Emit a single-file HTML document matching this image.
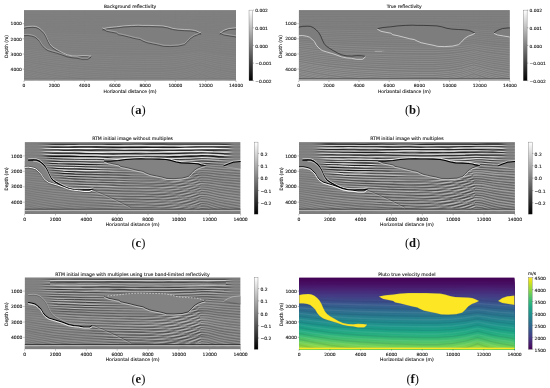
<!DOCTYPE html>
<html><head><meta charset="utf-8"><title>Figure</title>
<style>html,body{margin:0;padding:0;background:#fff}svg{display:block}.t{font-family:"DejaVu Sans","Liberation Sans",sans-serif;fill:#1a1a1a;stroke:#1a1a1a;stroke-width:.12px}.c{font-family:"Liberation Serif","DejaVu Serif",serif;fill:#111}</style></head><body>
<svg width="550" height="388" viewBox="0 0 550 388">
<rect width="550" height="388" fill="#fff"/>
<defs>
<linearGradient id="gg" x1="0" y1="0" x2="0" y2="1"><stop offset="0" stop-color="#fff"/><stop offset="1" stop-color="#000"/></linearGradient>
<linearGradient id="gv" x1="0" y1="0" x2="0" y2="1"><stop offset="0.000" stop-color="#fde725"/><stop offset="0.062" stop-color="#d8e219"/><stop offset="0.125" stop-color="#addc30"/><stop offset="0.188" stop-color="#84d44b"/><stop offset="0.250" stop-color="#5ec962"/><stop offset="0.312" stop-color="#3fbc73"/><stop offset="0.375" stop-color="#28ae80"/><stop offset="0.438" stop-color="#1fa088"/><stop offset="0.500" stop-color="#21918c"/><stop offset="0.562" stop-color="#26828e"/><stop offset="0.625" stop-color="#2c728e"/><stop offset="0.688" stop-color="#33638d"/><stop offset="0.750" stop-color="#3b528b"/><stop offset="0.812" stop-color="#424086"/><stop offset="0.875" stop-color="#472d7b"/><stop offset="0.938" stop-color="#48186a"/><stop offset="1.000" stop-color="#440154"/></linearGradient>
<clipPath id="cpa"><rect x="24.0" y="10.1" width="212.0" height="70.6"/></clipPath>
<clipPath id="cpb"><rect x="298.7" y="10.1" width="211.2" height="70.6"/></clipPath>
<clipPath id="cpc"><rect x="24.6" y="142.1" width="216.0" height="72.0"/></clipPath>
<clipPath id="cpd"><rect x="298.9" y="142.1" width="216.0" height="72.0"/></clipPath>
<clipPath id="cpe"><rect x="24.6" y="277.3" width="216.0" height="72.0"/></clipPath>
<clipPath id="cpf"><rect x="299.1" y="277.6" width="215.5" height="71.7"/></clipPath>
<filter id="bl" x="-20%" y="-20%" width="140%" height="140%"><feGaussianBlur stdDeviation="2.2"/></filter>
</defs>
<g clip-path="url(#cpa)">
<rect x="24.0" y="10.1" width="212.0" height="70.6" fill="#7e7e7e"/>
<path d="M24.0 12.2L39.1 12.2L54.3 12.2L69.4 12.2L84.6 12.2L114.9 12.2L145.1 12.2L160.3 12.2L175.4 12.2L187.5 12.2L195.1 12.2L199.7 12.2L205.7 12.2L213.3 12.2L220.9 12.2L236.0 12.2M24.0 13.7L39.1 13.7L54.3 13.7L69.4 13.7L84.6 13.7L114.9 13.7L145.1 13.7L160.3 13.7L175.4 13.7L187.5 13.7L195.1 13.7L199.7 13.7L205.7 13.7L213.3 13.7L220.9 13.7L236.0 13.7M24.0 15.4L39.1 15.4L54.3 15.5L69.4 15.5L84.6 15.5L114.9 15.6L145.1 15.6L160.3 15.6L175.4 15.6L187.5 15.5L195.1 15.5L199.7 15.5L205.7 15.5L213.3 15.5L220.9 15.6L236.0 15.6M24.0 17.2L39.1 17.3L54.3 17.4L69.4 17.5L84.6 17.5L114.9 17.6L145.1 17.6L160.3 17.6L175.4 17.6L187.5 17.5L195.1 17.4L199.7 17.4L205.7 17.4L213.3 17.5L220.9 17.6L236.0 17.7M24.0 18.6L39.1 18.7L54.3 18.9L69.4 19.0L84.6 19.1L114.9 19.2L145.1 19.2L160.3 19.2L175.4 19.1L187.5 19.0L195.1 18.9L199.7 18.8L205.7 18.9L213.3 19.0L220.9 19.1L236.0 19.3M24.0 20.0L39.1 20.2L54.3 20.4L69.4 20.6L84.6 20.7L114.9 20.8L145.1 20.9L160.3 20.9L175.4 20.8L187.5 20.6L195.1 20.4L199.7 20.3L205.7 20.5L213.3 20.7L220.9 20.8L236.0 21.0M24.0 22.1L39.1 22.4L54.3 22.7L69.4 22.9L84.6 23.0L114.9 23.2L145.1 23.3L160.3 23.3L175.4 23.2L187.5 22.9L195.1 22.7L199.7 22.5L205.7 22.7L213.3 23.0L220.9 23.2L236.0 23.5M24.0 23.5L39.1 23.9L54.3 24.2L69.4 24.4L84.6 24.6L114.9 24.9L145.1 25.0L160.3 25.0L175.4 24.8L187.5 24.5L195.1 24.2L199.7 24.0L205.7 24.3L213.3 24.6L220.9 24.8L236.0 25.2M24.0 24.9L39.1 25.4L54.3 25.8L69.4 26.1L84.6 26.3L114.9 26.6L145.1 26.7L160.3 26.7L175.4 26.5L187.5 26.1L195.1 25.8L199.7 25.6L205.7 25.8L213.3 26.2L220.9 26.5L236.0 26.9M24.0 27.0L39.1 27.6L54.3 28.0L69.4 28.4L84.6 28.7L114.9 29.0L145.1 29.2L160.3 29.2L175.4 28.9L187.5 28.5L195.1 28.0L199.7 27.8L205.7 28.1L213.3 28.6L220.9 28.9L236.0 29.4M24.0 28.8L39.1 29.5L54.3 30.0L69.4 30.4L84.6 30.8L114.9 31.2L145.1 31.4L160.3 31.4L175.4 31.1L187.5 30.6L195.1 30.0L199.7 29.7L205.7 30.1L213.3 30.7L220.9 31.1L236.0 31.7M24.0 30.4L39.1 31.2L54.3 31.8L69.4 32.3L84.6 32.6L114.9 33.1L145.1 33.3L160.3 33.3L175.4 33.0L187.5 32.4L195.1 31.8L199.7 31.5L205.7 31.9L213.3 32.5L220.9 33.0L236.0 33.7" fill="none" stroke="#969696" stroke-width=".45" opacity="0.25"/>
<path d="M24.0 32.2L39.1 33.0L54.3 33.7L69.4 34.3L84.6 34.6L114.9 35.2L145.1 35.4L160.3 35.4L175.4 35.0L187.5 34.4L195.1 33.7L199.7 33.4L205.7 33.9L213.3 34.5L220.9 35.0L236.0 35.8M24.0 34.0L39.1 35.0L54.3 35.8L69.4 36.4L84.6 36.8L114.9 37.4L145.1 37.7L160.3 37.7L175.4 37.2L187.5 36.5L195.1 35.8L199.7 35.3L205.7 35.9L213.3 36.7L220.9 37.2L236.0 38.1M24.0 35.6L39.1 36.6L54.3 37.5L69.4 38.1L84.6 38.6L114.9 39.2L145.1 39.6L160.3 39.6L175.4 39.1L187.5 38.3L195.1 37.5L199.7 37.0L205.7 37.7L213.3 38.5L220.9 39.1L236.0 40.0M24.0 37.0L39.1 38.1L54.3 39.1L69.4 39.8L84.6 40.3L114.9 41.0L145.1 41.3L160.3 41.3L175.4 40.8L187.5 40.0L195.1 39.1L199.7 38.6L205.7 39.3L213.3 40.1L220.9 40.8L236.0 41.8M24.0 39.0L39.1 40.2L54.3 41.3L69.4 42.0L84.6 42.6L114.9 43.3L145.1 43.7L160.3 43.7L175.4 43.1L187.5 42.2L195.1 41.3L199.7 40.7L205.7 41.4L213.3 42.4L220.9 43.1L236.0 44.3M24.0 40.9L39.1 42.2L54.3 43.3L69.4 44.1L84.6 44.8L114.9 45.6L145.1 46.0L160.3 46.0L175.4 45.4L187.5 44.3L195.1 43.3L199.7 42.7L205.7 43.5L213.3 44.6L220.9 45.4L236.0 46.6M24.0 42.6L39.1 44.0L54.3 45.3L69.4 46.1L84.6 46.8L114.9 47.7L145.1 48.1L160.3 48.1L175.4 47.5L187.5 46.4L195.1 45.3L199.7 44.6L205.7 45.5L213.3 46.6L220.9 47.5L236.0 48.8M24.0 44.6L39.1 46.1L54.3 47.4L69.4 48.4L84.6 49.1L114.9 50.1L145.1 50.6L160.3 50.6L175.4 49.8L187.5 48.6L195.1 47.4L199.7 46.7L205.7 47.7L213.3 48.9L220.9 49.8L236.0 51.3M24.0 46.3L39.1 48.0L54.3 49.4L69.4 50.4L84.6 51.2L114.9 52.2L145.1 52.7L160.3 52.7L175.4 52.0L187.5 50.7L195.1 49.4L199.7 48.6L205.7 49.7L213.3 50.9L220.9 52.0L236.0 53.5M24.0 48.4L39.1 50.2L54.3 51.8L69.4 52.9L84.6 53.7L114.9 54.8L145.1 55.3L160.3 55.3L175.4 54.5L187.5 53.1L195.1 51.8L199.7 50.9L205.7 52.0L213.3 53.4L220.9 54.5L236.0 56.2" fill="none" stroke="#969696" stroke-width=".45" opacity="0.45"/>
<path d="M24.0 49.9L39.1 51.8L54.3 53.4L69.4 54.6L84.6 55.5L114.9 56.6L145.1 57.2L160.3 57.2L175.4 56.3L187.5 54.9L195.1 53.4L199.7 52.6L205.7 53.7L213.3 55.2L220.9 56.3L236.0 58.1M24.0 51.7L39.1 53.7L54.3 55.4L69.4 56.6L84.6 57.5L114.9 58.8L145.1 59.4L160.3 59.4L175.4 58.5L187.5 56.9L195.1 55.4L199.7 54.5L205.7 55.7L213.3 57.2L220.9 58.5L236.0 60.3M24.0 53.4L39.1 55.5L54.3 57.3L69.4 58.6L84.6 59.6L114.9 60.9L145.1 61.5L160.3 61.5L175.4 60.6L187.5 58.9L195.1 57.3L199.7 56.3L205.7 57.6L213.3 59.3L220.9 60.6L236.0 62.5M24.0 55.1L39.1 57.2L54.3 59.1L69.4 60.5L84.6 61.5L114.9 62.9L145.1 63.5L160.3 63.5L175.4 62.5L187.5 60.8L195.1 59.1L199.7 58.1L205.7 59.5L213.3 61.2L220.9 62.5L236.0 64.6M24.0 56.9L39.1 59.1L54.3 61.1L69.4 62.6L84.6 63.6L114.9 65.1L145.1 65.8L160.3 65.8L175.4 64.7L187.5 62.9L195.1 61.1L199.7 60.1L205.7 61.5L213.3 63.3L220.9 64.7L236.0 66.9M24.0 58.4L39.1 60.8L54.3 62.8L69.4 64.3L84.6 65.5L114.9 66.9L145.1 67.7L160.3 67.7L175.4 66.6L187.5 64.7L195.1 62.8L199.7 61.7L205.7 63.2L213.3 65.1L220.9 66.6L236.0 68.8M24.0 60.3L39.1 62.8L54.3 65.0L69.4 66.6L84.6 67.8L114.9 69.4L145.1 70.1L160.3 70.1L175.4 69.0L187.5 67.0L195.1 65.0L199.7 63.9L205.7 65.4L213.3 67.4L220.9 69.0L236.0 71.3M24.0 62.4L39.1 65.0L54.3 67.3L69.4 69.0L84.6 70.2L114.9 71.8L145.1 72.7L160.3 72.7L175.4 71.4L187.5 69.4L195.1 67.3L199.7 66.1L205.7 67.7L213.3 69.8L220.9 71.4L236.0 73.9M24.0 63.8L39.1 66.5L54.3 68.9L69.4 70.6L84.6 71.9L114.9 73.6L145.1 74.5L160.3 74.5L175.4 73.2L187.5 71.1L195.1 68.9L199.7 67.6L205.7 69.3L213.3 71.5L220.9 73.2L236.0 75.8M24.0 65.5L39.1 68.3L54.3 70.8L69.4 72.6L84.6 73.9L114.9 75.7L145.1 76.6L160.3 76.6L175.4 75.3L187.5 73.1L195.1 70.8L199.7 69.5L205.7 71.3L213.3 73.5L220.9 75.3L236.0 77.9M24.0 67.1L39.1 70.0L54.3 72.6L69.4 74.4L84.6 75.8L114.9 77.7L145.1 78.6L160.3 78.6L175.4 77.2L187.5 74.9L195.1 72.6L199.7 71.2L205.7 73.0L213.3 75.3L220.9 77.2L236.0 80.0M24.0 68.5L39.1 71.5L54.3 74.2L69.4 76.1L84.6 77.5L114.9 79.4L145.1 80.3L160.3 80.3L175.4 78.9L187.5 76.5L195.1 74.2L199.7 72.7L205.7 74.6L213.3 77.0L220.9 78.9L236.0 81.8M24.0 70.5L39.1 73.7L54.3 76.4L69.4 78.4L84.6 79.9L114.9 81.8L145.1 82.8L160.3 82.8L175.4 81.3L187.5 78.9L195.1 76.4L199.7 74.9L205.7 76.9L213.3 79.4L220.9 81.3L236.0 84.3M24.0 72.2L39.1 75.3L54.3 78.1L69.4 80.1L84.6 81.5L114.9 83.5L145.1 84.5L160.3 84.5L175.4 83.0L187.5 80.5L195.1 78.1L199.7 76.6L205.7 78.6L213.3 81.0L220.9 83.0L236.0 86.0M24.0 73.6L39.1 76.8L54.3 79.5L69.4 81.5L84.6 83.0L114.9 85.0L145.1 85.9L160.3 85.9L175.4 84.5L187.5 82.0L195.1 79.5L199.7 78.1L205.7 80.0L213.3 82.5L220.9 84.5L236.0 87.4M24.0 75.5L39.1 78.6L54.3 81.4L69.4 83.4L84.6 84.9L114.9 86.8L145.1 87.8L160.3 87.8L175.4 86.3L187.5 83.9L195.1 81.4L199.7 79.9L205.7 81.9L213.3 84.4L220.9 86.3L236.0 89.3M24.0 77.0L39.1 80.1L54.3 82.9L69.4 84.9L84.6 86.3L114.9 88.3L145.1 89.3L160.3 89.3L175.4 87.8L187.5 85.4L195.1 82.9L199.7 81.4L205.7 83.4L213.3 85.9L220.9 87.8L236.0 90.8M24.0 79.0L39.1 82.2L54.3 84.9L69.4 86.9L84.6 88.4L114.9 90.4L145.1 91.3L160.3 91.3L175.4 89.9L187.5 87.4L195.1 84.9L199.7 83.5L205.7 85.4L213.3 87.9L220.9 89.9L236.0 92.8M24.0 80.5L39.1 83.7L54.3 86.5L69.4 88.4L84.6 89.9L114.9 91.9L145.1 92.9L160.3 92.9L175.4 91.4L187.5 88.9L195.1 86.5L199.7 85.0L205.7 86.9L213.3 89.4L220.9 91.4L236.0 94.3" fill="none" stroke="#969696" stroke-width=".45" opacity="0.70"/>
<path d="M24.0 27.2L27.8 26.4L32.9 26.2L35.8 26.4L38.8 27.7L41.7 30.0L44.2 32.7L46.1 36.2L47.8 40.1L49.6 43.6L51.6 46.0L54.6 48.2L58.5 50.5L63.3 53.1L67.2 54.8L72.2 55.9L77.1 56.1L82.0 55.6L87.0 55.7L91.0 56.3L91.0 56.3L90.0 57.9L87.9 59.3L82.0 59.3L77.1 58.3L72.2 57.9L67.2 56.9L61.5 54.8L56.6 53.2L51.6 51.8L47.6 50.5L44.2 48.0L41.7 45.1L39.7 41.6L37.3 39.1L34.8 37.2L31.9 36.2L27.8 35.5L24.0 35.7ZM102.4 28.8L108.6 27.5L116.5 26.8L123.5 25.9L131.3 25.4L138.2 25.2L142.9 25.4L148.8 25.4L155.8 25.6L162.7 25.9L167.6 26.8L172.6 28.3L177.6 29.1L184.5 29.5L190.4 29.8L194.4 30.3L197.0 31.2L201.1 33.2L201.1 33.2L198.1 34.7L194.1 36.2L190.4 38.7L187.4 42.0L184.5 44.7L178.5 46.1L170.6 46.6L163.7 46.4L158.8 45.2L152.9 44.0L146.9 42.7L142.9 41.1L140.2 39.6L135.3 38.7L129.4 37.2L123.5 35.7L118.4 34.7L116.5 33.2L111.6 32.3L106.6 31.3L102.4 28.8ZM219.7 33.2L223.8 30.3L228.7 28.5L236.0 27.8L236.0 37.0L229.7 36.0L223.8 35.0L219.7 33.2Z" fill="#7e7e7e"/>
<path d="M24.0 27.2L27.8 26.4L32.9 26.2L35.8 26.4L38.8 27.7L41.7 30.0L44.2 32.7L46.1 36.2L47.8 40.1L49.6 43.6L51.6 46.0L54.6 48.2L58.5 50.5L63.3 53.1L67.2 54.8L72.2 55.9L77.1 56.1L82.0 55.6L87.0 55.7L91.0 56.3" fill="none" stroke="#c6c6c6" stroke-width=".8"/>
<path d="M24.0 28.4L27.8 27.6L32.9 27.4L35.8 27.6L38.8 28.9L41.7 31.2L44.2 33.9L46.1 37.4L47.8 41.3L49.6 44.8L51.6 47.2L54.6 49.4L58.5 51.7L63.3 54.3L67.2 56.0L72.2 57.1L77.1 57.3L82.0 56.8L87.0 56.9L91.0 57.5" fill="none" stroke="#444" stroke-width=".8"/>
<path d="M24.0 35.7L27.8 35.5L31.9 36.2L34.8 37.2L37.3 39.1L39.7 41.6L41.7 45.1L44.2 48.0L47.6 50.5L51.6 51.8L56.6 53.2L61.5 54.8L67.2 56.9L72.2 57.9L77.1 58.3L82.0 59.3L87.9 59.3L90.0 57.9L91.0 56.3" fill="none" stroke="#444" stroke-width=".8"/>
<path d="M24.0 34.5L27.8 34.3L31.9 35.0L34.8 36.0L37.3 37.9L39.7 40.4L41.7 43.9L44.2 46.8L47.6 49.3L51.6 50.6L56.6 52.0L61.5 53.6L67.2 55.7L72.2 56.7L77.1 57.1L82.0 58.1L87.9 58.1L90.0 56.7L91.0 55.1" fill="none" stroke="#b0b0b0" stroke-width=".7"/>
<path d="M102.4 28.8L108.6 27.5L116.5 26.8L123.5 25.9L131.3 25.4L138.2 25.2L142.9 25.4L148.8 25.4L155.8 25.6L162.7 25.9L167.6 26.8L172.6 28.3L177.6 29.1L184.5 29.5L190.4 29.8L194.4 30.3L197.0 31.2L201.1 33.2" fill="none" stroke="#c6c6c6" stroke-width=".8"/>
<path d="M102.4 30.0L108.6 28.7L116.5 28.0L123.5 27.1L131.3 26.6L138.2 26.4L142.9 26.6L148.8 26.6L155.8 26.8L162.7 27.1L167.6 28.0L172.6 29.5L177.6 30.3L184.5 30.7L190.4 31.0L194.4 31.5L197.0 32.4L201.1 34.4" fill="none" stroke="#444" stroke-width=".8"/>
<path d="M102.4 28.8L106.6 31.3L111.6 32.3L116.5 33.2L118.4 34.7L123.5 35.7L129.4 37.2L135.3 38.7L140.2 39.6L142.9 41.1L146.9 42.7L152.9 44.0L158.8 45.2L163.7 46.4L170.6 46.6L178.5 46.1L184.5 44.7L187.4 42.0L190.4 38.7L194.1 36.2L198.1 34.7L201.1 33.2" fill="none" stroke="#444" stroke-width=".8"/>
<path d="M102.4 27.6L106.6 30.1L111.6 31.1L116.5 32.0L118.4 33.5L123.5 34.5L129.4 36.0L135.3 37.5L140.2 38.4L142.9 39.9L146.9 41.5L152.9 42.8L158.8 44.0L163.7 45.2L170.6 45.4L178.5 44.9L184.5 43.5L187.4 40.8L190.4 37.5L194.1 35.0L198.1 33.5L201.1 32.0" fill="none" stroke="#b0b0b0" stroke-width=".7"/>
<path d="M219.7 33.2L223.8 30.3L228.7 28.5L236.0 27.8" fill="none" stroke="#c6c6c6" stroke-width=".8"/>
<path d="M219.7 34.4L223.8 31.5L228.7 29.7L236.0 29.0" fill="none" stroke="#444" stroke-width=".8"/>
<path d="M219.7 33.2L223.8 35.0L229.7 36.0L236.0 37.0" fill="none" stroke="#444" stroke-width=".8"/>
<path d="M219.7 32.0L223.8 33.8L229.7 34.8L236.0 35.8" fill="none" stroke="#b0b0b0" stroke-width=".7"/>
<rect x="24.0" y="78.8" width="212.0" height=".7" fill="#6a6a6a"/>
<rect x="24.0" y="79.5" width="212.0" height=".8" fill="#9a9a9a"/>
</g>
<rect x="249.0" y="10.1" width="3.8" height="70.6" fill="url(#gg)" stroke="#555" stroke-width=".3"/>
<text class="t" x="130.0" y="8.3" font-size="4.51" text-anchor="middle">Background reflectivity</text>
<text class="t" x="130.0" y="92.5" font-size="4.51" text-anchor="middle">Horizontal distance (m)</text>
<text class="t" font-size="4.51" text-anchor="middle" transform="translate(7.7 46.4) rotate(-90)">Depth (m)</text>
<text class="t" x="24.0" y="87.3" font-size="4.42" text-anchor="middle">0</text>
<path d="M24.0 80.7v1.3" stroke="#333" stroke-width=".35"/>
<text class="t" x="54.3" y="87.3" font-size="4.42" text-anchor="middle">2000</text>
<path d="M54.3 80.7v1.3" stroke="#333" stroke-width=".35"/>
<text class="t" x="84.6" y="87.3" font-size="4.42" text-anchor="middle">4000</text>
<path d="M84.6 80.7v1.3" stroke="#333" stroke-width=".35"/>
<text class="t" x="114.9" y="87.3" font-size="4.42" text-anchor="middle">6000</text>
<path d="M114.9 80.7v1.3" stroke="#333" stroke-width=".35"/>
<text class="t" x="145.1" y="87.3" font-size="4.42" text-anchor="middle">8000</text>
<path d="M145.1 80.7v1.3" stroke="#333" stroke-width=".35"/>
<text class="t" x="175.4" y="87.3" font-size="4.42" text-anchor="middle">10000</text>
<path d="M175.4 80.7v1.3" stroke="#333" stroke-width=".35"/>
<text class="t" x="205.7" y="87.3" font-size="4.42" text-anchor="middle">12000</text>
<path d="M205.7 80.7v1.3" stroke="#333" stroke-width=".35"/>
<text class="t" x="236.0" y="87.3" font-size="4.42" text-anchor="middle">14000</text>
<path d="M236.0 80.7v1.3" stroke="#333" stroke-width=".35"/>
<text class="t" x="21.8" y="25.3" font-size="4.42" text-anchor="end">1000</text>
<path d="M24.0 23.7h-1.3" stroke="#333" stroke-width=".35"/>
<text class="t" x="21.8" y="40.5" font-size="4.42" text-anchor="end">2000</text>
<path d="M24.0 38.8h-1.3" stroke="#333" stroke-width=".35"/>
<text class="t" x="21.8" y="55.6" font-size="4.42" text-anchor="end">3000</text>
<path d="M24.0 54.0h-1.3" stroke="#333" stroke-width=".35"/>
<text class="t" x="21.8" y="70.8" font-size="4.42" text-anchor="end">4000</text>
<path d="M24.0 69.1h-1.3" stroke="#333" stroke-width=".35"/>
<text class="t" x="255.2" y="12.3" font-size="4.42">0.002</text>
<path d="M252.8 10.1h1.2" stroke="#333" stroke-width=".35"/>
<text class="t" x="255.2" y="29.9" font-size="4.42">0.001</text>
<path d="M252.8 27.8h1.2" stroke="#333" stroke-width=".35"/>
<text class="t" x="255.2" y="47.6" font-size="4.42">0.000</text>
<path d="M252.8 45.4h1.2" stroke="#333" stroke-width=".35"/>
<text class="t" x="255.2" y="65.2" font-size="4.42">−0.001</text>
<path d="M252.8 63.1h1.2" stroke="#333" stroke-width=".35"/>
<text class="t" x="255.2" y="82.9" font-size="4.42">−0.002</text>
<path d="M252.8 80.7h1.2" stroke="#333" stroke-width=".35"/>
<text class="c" x="138.3" y="114.0" font-size="12.6" text-anchor="middle">(<tspan font-weight="bold">a</tspan>)</text>
<g clip-path="url(#cpb)">
<rect x="298.7" y="10.1" width="211.2" height="70.6" fill="#7b7b7b"/>
<path d="M298.7 12.2L313.8 12.2L328.9 12.2L344.0 12.2L359.0 12.2L389.2 12.2L419.4 12.2L434.5 12.2L449.6 12.2L461.6 12.2L469.2 12.2L473.7 12.2L479.7 12.2L487.3 12.2L494.8 12.2L509.9 12.2M298.7 13.7L313.8 13.7L328.9 13.7L344.0 13.7L359.0 13.7L389.2 13.7L419.4 13.7L434.5 13.7L449.6 13.7L461.6 13.7L469.2 13.7L473.7 13.7L479.7 13.7L487.3 13.7L494.8 13.7L509.9 13.7M298.7 15.4L313.8 15.4L328.9 15.5L344.0 15.5L359.0 15.5L389.2 15.6L419.4 15.6L434.5 15.6L449.6 15.6L461.6 15.5L469.2 15.5L473.7 15.5L479.7 15.5L487.3 15.5L494.8 15.6L509.9 15.6M298.7 17.2L313.8 17.3L328.9 17.4L344.0 17.5L359.0 17.5L389.2 17.6L419.4 17.6L434.5 17.6L449.6 17.6L461.6 17.5L469.2 17.4L473.7 17.4L479.7 17.4L487.3 17.5L494.8 17.6L509.9 17.7M298.7 18.6L313.8 18.7L328.9 18.9L344.0 19.0L359.0 19.1L389.2 19.2L419.4 19.2L434.5 19.2L449.6 19.1L461.6 19.0L469.2 18.9L473.7 18.8L479.7 18.9L487.3 19.0L494.8 19.1L509.9 19.3M298.7 20.0L313.8 20.2L328.9 20.4L344.0 20.6L359.0 20.7L389.2 20.8L419.4 20.9L434.5 20.9L449.6 20.8L461.6 20.6L469.2 20.4L473.7 20.3L479.7 20.5L487.3 20.7L494.8 20.8L509.9 21.0M298.7 22.1L313.8 22.4L328.9 22.7L344.0 22.9L359.0 23.0L389.2 23.2L419.4 23.3L434.5 23.3L449.6 23.2L461.6 22.9L469.2 22.7L473.7 22.5L479.7 22.7L487.3 23.0L494.8 23.2L509.9 23.5M298.7 23.5L313.8 23.9L328.9 24.2L344.0 24.4L359.0 24.6L389.2 24.9L419.4 25.0L434.5 25.0L449.6 24.8L461.6 24.5L469.2 24.2L473.7 24.0L479.7 24.3L487.3 24.6L494.8 24.8L509.9 25.2M298.7 24.9L313.8 25.4L328.9 25.8L344.0 26.1L359.0 26.3L389.2 26.6L419.4 26.7L434.5 26.7L449.6 26.5L461.6 26.1L469.2 25.8L473.7 25.6L479.7 25.8L487.3 26.2L494.8 26.5L509.9 26.9M298.7 27.0L313.8 27.6L328.9 28.0L344.0 28.4L359.0 28.7L389.2 29.0L419.4 29.2L434.5 29.2L449.6 28.9L461.6 28.5L469.2 28.0L473.7 27.8L479.7 28.1L487.3 28.6L494.8 28.9L509.9 29.4" fill="none" stroke="#b4b4b4" stroke-width=".45" opacity="0.22"/>
<path d="M298.7 28.8L313.8 29.5L328.9 30.0L344.0 30.4L359.0 30.8L389.2 31.2L419.4 31.4L434.5 31.4L449.6 31.1L461.6 30.6L469.2 30.0L473.7 29.7L479.7 30.1L487.3 30.7L494.8 31.1L509.9 31.7M298.7 30.4L313.8 31.2L328.9 31.8L344.0 32.3L359.0 32.6L389.2 33.1L419.4 33.3L434.5 33.3L449.6 33.0L461.6 32.4L469.2 31.8L473.7 31.5L479.7 31.9L487.3 32.5L494.8 33.0L509.9 33.7M298.7 32.2L313.8 33.0L328.9 33.7L344.0 34.3L359.0 34.6L389.2 35.2L419.4 35.4L434.5 35.4L449.6 35.0L461.6 34.4L469.2 33.7L473.7 33.4L479.7 33.9L487.3 34.5L494.8 35.0L509.9 35.8M298.7 34.0L313.8 35.0L328.9 35.8L344.0 36.4L359.0 36.8L389.2 37.4L419.4 37.7L434.5 37.7L449.6 37.2L461.6 36.5L469.2 35.8L473.7 35.3L479.7 35.9L487.3 36.7L494.8 37.2L509.9 38.1M298.7 35.6L313.8 36.6L328.9 37.5L344.0 38.1L359.0 38.6L389.2 39.2L419.4 39.6L434.5 39.6L449.6 39.1L461.6 38.3L469.2 37.5L473.7 37.0L479.7 37.7L487.3 38.5L494.8 39.1L509.9 40.0M298.7 37.0L313.8 38.1L328.9 39.1L344.0 39.8L359.0 40.3L389.2 41.0L419.4 41.3L434.5 41.3L449.6 40.8L461.6 40.0L469.2 39.1L473.7 38.6L479.7 39.3L487.3 40.1L494.8 40.8L509.9 41.8M298.7 39.0L313.8 40.2L328.9 41.3L344.0 42.0L359.0 42.6L389.2 43.3L419.4 43.7L434.5 43.7L449.6 43.1L461.6 42.2L469.2 41.3L473.7 40.7L479.7 41.4L487.3 42.4L494.8 43.1L509.9 44.3M298.7 40.9L313.8 42.2L328.9 43.3L344.0 44.1L359.0 44.8L389.2 45.6L419.4 46.0L434.5 46.0L449.6 45.4L461.6 44.3L469.2 43.3L473.7 42.7L479.7 43.5L487.3 44.6L494.8 45.4L509.9 46.6" fill="none" stroke="#b4b4b4" stroke-width=".45" opacity="0.40"/>
<path d="M298.7 42.6L313.8 44.0L328.9 45.3L344.0 46.1L359.0 46.8L389.2 47.7L419.4 48.1L434.5 48.1L449.6 47.5L461.6 46.4L469.2 45.3L473.7 44.6L479.7 45.5L487.3 46.6L494.8 47.5L509.9 48.8M298.7 44.6L313.8 46.1L328.9 47.4L344.0 48.4L359.0 49.1L389.2 50.1L419.4 50.6L434.5 50.6L449.6 49.8L461.6 48.6L469.2 47.4L473.7 46.7L479.7 47.7L487.3 48.9L494.8 49.8L509.9 51.3M298.7 46.3L313.8 48.0L328.9 49.4L344.0 50.4L359.0 51.2L389.2 52.2L419.4 52.7L434.5 52.7L449.6 52.0L461.6 50.7L469.2 49.4L473.7 48.6L479.7 49.7L487.3 50.9L494.8 52.0L509.9 53.5M298.7 48.4L313.8 50.2L328.9 51.8L344.0 52.9L359.0 53.7L389.2 54.8L419.4 55.3L434.5 55.3L449.6 54.5L461.6 53.1L469.2 51.8L473.7 50.9L479.7 52.0L487.3 53.4L494.8 54.5L509.9 56.2M298.7 49.9L313.8 51.8L328.9 53.4L344.0 54.6L359.0 55.5L389.2 56.6L419.4 57.2L434.5 57.2L449.6 56.3L461.6 54.9L469.2 53.4L473.7 52.6L479.7 53.7L487.3 55.2L494.8 56.3L509.9 58.1M298.7 51.7L313.8 53.7L328.9 55.4L344.0 56.6L359.0 57.5L389.2 58.8L419.4 59.4L434.5 59.4L449.6 58.5L461.6 56.9L469.2 55.4L473.7 54.5L479.7 55.7L487.3 57.2L494.8 58.5L509.9 60.3M298.7 53.4L313.8 55.5L328.9 57.3L344.0 58.6L359.0 59.6L389.2 60.9L419.4 61.5L434.5 61.5L449.6 60.6L461.6 58.9L469.2 57.3L473.7 56.3L479.7 57.6L487.3 59.3L494.8 60.6L509.9 62.5M298.7 55.1L313.8 57.2L328.9 59.1L344.0 60.5L359.0 61.5L389.2 62.9L419.4 63.5L434.5 63.5L449.6 62.5L461.6 60.8L469.2 59.1L473.7 58.1L479.7 59.5L487.3 61.2L494.8 62.5L509.9 64.6M298.7 56.9L313.8 59.1L328.9 61.1L344.0 62.6L359.0 63.6L389.2 65.1L419.4 65.8L434.5 65.8L449.6 64.7L461.6 62.9L469.2 61.1L473.7 60.1L479.7 61.5L487.3 63.3L494.8 64.7L509.9 66.9M298.7 58.4L313.8 60.8L328.9 62.8L344.0 64.3L359.0 65.5L389.2 66.9L419.4 67.7L434.5 67.7L449.6 66.6L461.6 64.7L469.2 62.8L473.7 61.7L479.7 63.2L487.3 65.1L494.8 66.6L509.9 68.8" fill="none" stroke="#b4b4b4" stroke-width=".45" opacity="0.65"/>
<path d="M298.7 60.3L313.8 62.8L328.9 65.0L344.0 66.6L359.0 67.8L389.2 69.4L419.4 70.1L434.5 70.1L449.6 69.0L461.6 67.0L469.2 65.0L473.7 63.9L479.7 65.4L487.3 67.4L494.8 69.0L509.9 71.3M298.7 62.4L313.8 65.0L328.9 67.3L344.0 69.0L359.0 70.2L389.2 71.8L419.4 72.7L434.5 72.7L449.6 71.4L461.6 69.4L469.2 67.3L473.7 66.1L479.7 67.7L487.3 69.8L494.8 71.4L509.9 73.9M298.7 63.8L313.8 66.5L328.9 68.9L344.0 70.6L359.0 71.9L389.2 73.6L419.4 74.5L434.5 74.5L449.6 73.2L461.6 71.1L469.2 68.9L473.7 67.6L479.7 69.3L487.3 71.5L494.8 73.2L509.9 75.8M298.7 65.5L313.8 68.3L328.9 70.8L344.0 72.6L359.0 73.9L389.2 75.7L419.4 76.6L434.5 76.6L449.6 75.3L461.6 73.1L469.2 70.8L473.7 69.5L479.7 71.3L487.3 73.5L494.8 75.3L509.9 77.9M298.7 67.1L313.8 70.0L328.9 72.6L344.0 74.4L359.0 75.8L389.2 77.7L419.4 78.6L434.5 78.6L449.6 77.2L461.6 74.9L469.2 72.6L473.7 71.2L479.7 73.0L487.3 75.3L494.8 77.2L509.9 80.0M298.7 68.5L313.8 71.5L328.9 74.2L344.0 76.1L359.0 77.5L389.2 79.4L419.4 80.3L434.5 80.3L449.6 78.9L461.6 76.5L469.2 74.2L473.7 72.7L479.7 74.6L487.3 77.0L494.8 78.9L509.9 81.8M298.7 70.5L313.8 73.7L328.9 76.4L344.0 78.4L359.0 79.9L389.2 81.8L419.4 82.8L434.5 82.8L449.6 81.3L461.6 78.9L469.2 76.4L473.7 74.9L479.7 76.9L487.3 79.4L494.8 81.3L509.9 84.3M298.7 72.2L313.8 75.3L328.9 78.1L344.0 80.1L359.0 81.5L389.2 83.5L419.4 84.5L434.5 84.5L449.6 83.0L461.6 80.5L469.2 78.1L473.7 76.6L479.7 78.6L487.3 81.0L494.8 83.0L509.9 86.0M298.7 73.6L313.8 76.8L328.9 79.5L344.0 81.5L359.0 83.0L389.2 85.0L419.4 85.9L434.5 85.9L449.6 84.5L461.6 82.0L469.2 79.5L473.7 78.1L479.7 80.0L487.3 82.5L494.8 84.5L509.9 87.4M298.7 75.5L313.8 78.6L328.9 81.4L344.0 83.4L359.0 84.9L389.2 86.8L419.4 87.8L434.5 87.8L449.6 86.3L461.6 83.9L469.2 81.4L473.7 79.9L479.7 81.9L487.3 84.4L494.8 86.3L509.9 89.3M298.7 77.0L313.8 80.1L328.9 82.9L344.0 84.9L359.0 86.3L389.2 88.3L419.4 89.3L434.5 89.3L449.6 87.8L461.6 85.4L469.2 82.9L473.7 81.4L479.7 83.4L487.3 85.9L494.8 87.8L509.9 90.8M298.7 79.0L313.8 82.2L328.9 84.9L344.0 86.9L359.0 88.4L389.2 90.4L419.4 91.3L434.5 91.3L449.6 89.9L461.6 87.4L469.2 84.9L473.7 83.5L479.7 85.4L487.3 87.9L494.8 89.9L509.9 92.8M298.7 80.5L313.8 83.7L328.9 86.5L344.0 88.4L359.0 89.9L389.2 91.9L419.4 92.9L434.5 92.9L449.6 91.4L461.6 88.9L469.2 86.5L473.7 85.0L479.7 86.9L487.3 89.4L494.8 91.4L509.9 94.3" fill="none" stroke="#b4b4b4" stroke-width=".45" opacity="0.85"/>
<path d="M298.7 27.2L302.5 26.4L307.5 26.2L310.5 26.4L313.4 27.7L316.3 30.0L318.8 32.7L320.8 36.2L322.4 40.1L324.2 43.6L326.2 46.0L329.2 48.2L333.1 50.5L337.8 53.1L341.7 54.8L346.7 55.9L351.6 56.1L356.5 55.6L361.4 55.7L365.4 56.3L365.4 56.3L364.5 57.9L362.4 59.3L356.5 59.3L351.6 58.3L346.7 57.9L341.7 56.9L336.0 54.8L331.1 53.2L326.2 51.8L322.2 50.5L318.8 48.0L316.3 45.1L314.4 41.6L311.9 39.1L309.5 37.2L306.5 36.2L302.5 35.5L298.7 35.7ZM376.8 28.8L383.0 27.5L390.8 26.8L397.8 25.9L405.6 25.4L412.5 25.2L417.2 25.4L423.1 25.4L430.0 25.6L436.9 25.9L441.8 26.8L446.8 28.3L451.7 29.1L458.5 29.5L464.4 29.8L468.4 30.3L471.1 31.2L475.1 33.2L475.1 33.2L472.2 34.7L468.2 36.2L464.4 38.7L461.5 42.0L458.5 44.7L452.7 46.1L444.7 46.6L437.9 46.4L433.0 45.2L427.1 44.0L421.1 42.7L417.2 41.1L414.4 39.6L409.5 38.7L403.7 37.2L397.8 35.7L392.8 34.7L390.8 33.2L385.9 32.3L381.0 31.3L376.8 28.8ZM493.6 33.2L497.7 30.3L502.6 28.5L509.9 27.8L509.9 37.0L503.6 36.0L497.7 35.0L493.6 33.2Z" fill="#7d7d7d"/>
<path d="M298.7 27.2L302.5 26.4L307.5 26.2L310.5 26.4L313.4 27.7L316.3 30.0L318.8 32.7L320.8 36.2L322.4 40.1L324.2 43.6L326.2 46.0L329.2 48.2L333.1 50.5L337.8 53.1L341.7 54.8L346.7 55.9L351.6 56.1L356.5 55.6L361.4 55.7L365.4 56.3" fill="none" stroke="#1c1c1c" stroke-width=".65"/>
<path d="M298.7 35.7L302.5 35.5L306.5 36.2L309.5 37.2L311.9 39.1L314.4 41.6L316.3 45.1L318.8 48.0L322.2 50.5L326.2 51.8L331.1 53.2L336.0 54.8L341.7 56.9L346.7 57.9L351.6 58.3L356.5 59.3L362.4 59.3L364.5 57.9L365.4 56.3" fill="none" stroke="#f4f4f4" stroke-width=".65"/>
<path d="M376.8 28.8L383.0 27.5L390.8 26.8L397.8 25.9L405.6 25.4L412.5 25.2L417.2 25.4L423.1 25.4L430.0 25.6L436.9 25.9L441.8 26.8L446.8 28.3L451.7 29.1L458.5 29.5L464.4 29.8L468.4 30.3L471.1 31.2L475.1 33.2" fill="none" stroke="#1c1c1c" stroke-width=".65"/>
<path d="M376.8 28.8L381.0 31.3L385.9 32.3L390.8 33.2L392.8 34.7L397.8 35.7L403.7 37.2L409.5 38.7L414.4 39.6L417.2 41.1L421.1 42.7L427.1 44.0L433.0 45.2L437.9 46.4L444.7 46.6L452.7 46.1L458.5 44.7L461.5 42.0L464.4 38.7L468.2 36.2L472.2 34.7L475.1 33.2" fill="none" stroke="#f4f4f4" stroke-width=".65"/>
<path d="M493.6 33.2L497.7 30.3L502.6 28.5L509.9 27.8" fill="none" stroke="#1c1c1c" stroke-width=".65"/>
<path d="M493.6 33.2L497.7 35.0L503.6 36.0L509.9 37.0" fill="none" stroke="#f4f4f4" stroke-width=".65"/>
<path d="M374.7 51.3h9.5" stroke="#d4d4d4" stroke-width=".45"/>
<circle cx="383.0" cy="51.4" r=".45" fill="#3a3a3a"/>
<rect x="298.7" y="78.3" width="211.2" height=".7" fill="#555"/>
<rect x="298.7" y="79.1" width="211.2" height=".9" fill="#a4a4a4"/>
</g>
<rect x="523.3" y="10.1" width="3.8" height="70.6" fill="url(#gg)" stroke="#555" stroke-width=".3"/>
<text class="t" x="404.3" y="8.3" font-size="4.50" text-anchor="middle">True reflectivity</text>
<text class="t" x="404.3" y="92.5" font-size="4.50" text-anchor="middle">Horizontal distance (m)</text>
<text class="t" font-size="4.50" text-anchor="middle" transform="translate(282.4 46.4) rotate(-90)">Depth (m)</text>
<text class="t" x="298.7" y="87.3" font-size="4.40" text-anchor="middle">0</text>
<path d="M298.7 80.7v1.3" stroke="#333" stroke-width=".35"/>
<text class="t" x="328.9" y="87.3" font-size="4.40" text-anchor="middle">2000</text>
<path d="M328.9 80.7v1.3" stroke="#333" stroke-width=".35"/>
<text class="t" x="359.0" y="87.3" font-size="4.40" text-anchor="middle">4000</text>
<path d="M359.0 80.7v1.3" stroke="#333" stroke-width=".35"/>
<text class="t" x="389.2" y="87.3" font-size="4.40" text-anchor="middle">6000</text>
<path d="M389.2 80.7v1.3" stroke="#333" stroke-width=".35"/>
<text class="t" x="419.4" y="87.3" font-size="4.40" text-anchor="middle">8000</text>
<path d="M419.4 80.7v1.3" stroke="#333" stroke-width=".35"/>
<text class="t" x="449.6" y="87.3" font-size="4.40" text-anchor="middle">10000</text>
<path d="M449.6 80.7v1.3" stroke="#333" stroke-width=".35"/>
<text class="t" x="479.7" y="87.3" font-size="4.40" text-anchor="middle">12000</text>
<path d="M479.7 80.7v1.3" stroke="#333" stroke-width=".35"/>
<text class="t" x="509.9" y="87.3" font-size="4.40" text-anchor="middle">14000</text>
<path d="M509.9 80.7v1.3" stroke="#333" stroke-width=".35"/>
<text class="t" x="296.5" y="25.3" font-size="4.40" text-anchor="end">1000</text>
<path d="M298.7 23.7h-1.3" stroke="#333" stroke-width=".35"/>
<text class="t" x="296.5" y="40.4" font-size="4.40" text-anchor="end">2000</text>
<path d="M298.7 38.8h-1.3" stroke="#333" stroke-width=".35"/>
<text class="t" x="296.5" y="55.5" font-size="4.40" text-anchor="end">3000</text>
<path d="M298.7 53.9h-1.3" stroke="#333" stroke-width=".35"/>
<text class="t" x="296.5" y="70.6" font-size="4.40" text-anchor="end">4000</text>
<path d="M298.7 69.0h-1.3" stroke="#333" stroke-width=".35"/>
<text class="t" x="529.5" y="12.3" font-size="4.40">0.002</text>
<path d="M527.1 10.1h1.2" stroke="#333" stroke-width=".35"/>
<text class="t" x="529.5" y="29.9" font-size="4.40">0.001</text>
<path d="M527.1 27.8h1.2" stroke="#333" stroke-width=".35"/>
<text class="t" x="529.5" y="47.6" font-size="4.40">0.000</text>
<path d="M527.1 45.4h1.2" stroke="#333" stroke-width=".35"/>
<text class="t" x="529.5" y="65.2" font-size="4.40">−0.001</text>
<path d="M527.1 63.1h1.2" stroke="#333" stroke-width=".35"/>
<text class="t" x="529.5" y="82.9" font-size="4.40">−0.002</text>
<path d="M527.1 80.7h1.2" stroke="#333" stroke-width=".35"/>
<text class="c" x="412.6" y="114.0" font-size="12.6" text-anchor="middle">(<tspan font-weight="bold">b</tspan>)</text>
<mask id="mc" maskUnits="userSpaceOnUse" x="24.6" y="142.1" width="216.0" height="72.0">
<rect x="24.6" y="142.1" width="216.0" height="72.0" fill="#1f1f1f"/>
<g filter="url(#bl)">
<path d="M24.6 186.7L240.6 186.7L240.6 214.1L24.6 214.1Z" fill="#1c1c1c"/>
<path d="M197.4 163.7L240.6 163.7L240.6 210.5L197.4 210.5Z" fill="#333333"/>
<path d="M102.4 178.1L154.2 182.4L197.4 170.9L206.0 185.3L201.7 208.3L111.0 208.3L89.4 196.1Z" fill="#474747"/>
<path d="M46.2 157.9L111.0 157.9L102.4 163.7L132.6 174.5L115.3 189.6L89.4 189.6L63.5 181.7L50.5 168.0Z" fill="#797979"/>
<path d="M46.2 156.5L102.4 156.5L98.0 170.9L67.8 175.9L52.7 168.0Z" fill="#f2f2f2"/>
<path d="M39.7 142.1L232.0 142.1L229.8 156.5L210.4 163.7L167.2 160.8L143.4 156.5L111.0 157.9L98.0 163.7L50.5 163.7L41.9 150.7Z" fill="#d9d9d9"/>
<path d="M50.5 143.5L232.0 143.5L229.8 152.9L143.4 154.3L89.4 156.5L54.8 156.5Z" fill="#ffffff"/>
</g>
<rect x="24.6" y="142.1" width="30.2" height="72.0" fill="url(#lfc)"/>
<path d="M24.6 142.1L50.5 142.1L28.9 163.7L24.6 163.7Z" fill="#000" opacity=".7" filter="url(#bl)"/>
<path d="M240.6 142.1L227.6 142.1L236.3 163.7L240.6 163.7Z" fill="#000" opacity=".6" filter="url(#bl)"/>
</mask>
<linearGradient id="lfc" gradientUnits="userSpaceOnUse" x1="24.6" x2="54.8" y1="0" y2="0"><stop offset="0" stop-color="#000" stop-opacity=".6"/><stop offset="1" stop-color="#000" stop-opacity="0"/></linearGradient>
<g clip-path="url(#cpc)">
<rect x="24.6" y="142.1" width="216.0" height="72.0" fill="#818181"/>
<g mask="url(#mc)" fill="none">
<path d="M24.6 144.1L30.1 144.1L35.7 144.0L41.2 144.0L46.8 144.1L52.3 144.3L57.8 144.5L63.4 144.5L68.9 144.4L74.4 144.4L80.0 144.4L85.5 144.5L91.1 144.4L96.6 144.3L102.1 144.3L107.7 144.4L113.2 144.5L118.8 144.5L124.3 144.4L129.8 144.3L135.4 144.2L140.9 144.2L146.4 144.1L152.0 144.0L157.5 143.9L163.1 144.0L168.6 144.1L174.1 144.2L179.7 144.2L185.2 144.2L190.8 144.2L196.3 144.2L201.8 144.2L207.4 144.2L212.9 144.1L218.4 144.2L224.0 144.4L229.5 144.5L235.1 144.6L240.6 144.5" stroke="#000" stroke-width="1.28" opacity="0.68"/>
<path d="M24.6 145.8L30.1 145.8L35.7 145.8L41.2 145.8L46.8 145.9L52.3 146.0L57.8 146.0L63.4 145.9L68.9 145.7L74.4 145.6L80.0 145.5L85.5 145.5L91.1 145.5L96.6 145.4L102.1 145.4L107.7 145.6L113.2 145.7L118.8 145.6L124.3 145.5L129.8 145.4L135.4 145.4L140.9 145.5L146.4 145.6L152.0 145.6L157.5 145.6L163.1 145.8L168.6 146.0L174.1 146.0L179.7 146.0L185.2 145.8L190.8 145.8L196.3 145.8L201.8 145.8L207.4 145.7L212.9 145.7L218.4 145.7L224.0 145.8L229.5 145.8L235.1 145.8L240.6 145.6" stroke="#fff" stroke-width="1.36" opacity="0.80"/>
<path d="M24.6 147.0L30.1 147.0L35.7 147.0L41.2 147.0L46.8 147.0L52.3 147.0L57.8 147.0L63.4 147.1L68.9 147.1L74.4 147.0L80.0 146.9L85.5 146.9L91.1 146.9L96.6 147.0L102.1 147.1L107.7 147.1L113.2 147.2L118.8 147.4L124.3 147.5L129.8 147.5L135.4 147.4L140.9 147.3L146.4 147.3L152.0 147.4L157.5 147.4L163.1 147.3L168.6 147.3L174.1 147.3L179.7 147.4L185.2 147.4L190.8 147.2L196.3 147.0L201.8 146.9L207.4 146.9L212.9 146.9L218.4 146.9L224.0 146.9L229.5 147.0L235.1 147.1L240.6 147.3" stroke="#000" stroke-width="1.37" opacity="0.79"/>
<path d="M24.6 148.3L30.1 148.2L35.7 148.2L41.2 148.3L46.8 148.5L52.3 148.6L57.8 148.6L63.4 148.6L68.9 148.6L74.4 148.6L80.0 148.7L85.5 148.7L91.1 148.7L96.6 148.7L102.1 148.9L107.7 149.1L113.2 149.1L118.8 149.1L124.3 149.0L129.8 148.9L135.4 148.9L140.9 148.9L146.4 148.7L152.0 148.6L157.5 148.7L163.1 148.8L168.6 148.8L174.1 148.8L179.7 148.6L185.2 148.5L190.8 148.5L196.3 148.5L201.8 148.3L207.4 148.3L212.9 148.4L218.4 148.6L224.0 148.8L229.5 149.0L235.1 148.9L240.6 149.0" stroke="#fff" stroke-width="1.29" opacity="0.98"/>
<path d="M24.6 150.1L30.1 150.2L35.7 150.2L41.2 150.1L46.8 150.0L52.3 149.9L57.8 150.1L63.4 150.2L68.9 150.2L74.4 150.1L80.0 150.1L85.5 150.2L91.1 150.2L96.6 150.1L102.1 150.0L107.7 150.0L113.2 150.1L118.8 150.3L124.3 150.4L129.8 150.4L135.4 150.5L140.9 150.6L146.4 150.7L152.0 150.7L157.5 150.6L163.1 150.4L168.6 150.4L174.1 150.5L179.7 150.6L185.2 150.5L190.8 150.4L196.3 150.3L201.8 150.3L207.4 150.3L212.9 150.2L218.4 150.1L224.0 150.0L229.5 150.1L235.1 150.2L240.6 150.3" stroke="#000" stroke-width="1.54" opacity="0.65"/>
<path d="M24.6 151.0L30.1 151.2L35.7 151.4L41.2 151.5L46.8 151.5L52.3 151.5L57.8 151.5L63.4 151.7L68.9 151.8L74.4 151.9L80.0 151.9L85.5 152.0L91.1 152.2L96.6 152.3L102.1 152.3L107.7 152.1L113.2 152.0L118.8 152.0L124.3 152.0L129.8 152.0L135.4 151.9L140.9 151.9L146.4 152.0L152.0 152.1L157.5 152.1L163.1 151.9L168.6 151.8L174.1 151.7L179.7 151.7L185.2 151.7L190.8 151.6L196.3 151.5L201.8 151.5L207.4 151.7L212.9 152.0L218.4 152.1L224.0 152.1L229.5 152.1L235.1 152.2L240.6 152.3" stroke="#fff" stroke-width="1.36" opacity="0.85"/>
<path d="M24.6 152.5L30.1 152.7L35.7 152.7L41.2 152.8L46.8 152.9L52.3 153.1L57.8 153.1L63.4 153.1L68.9 153.1L74.4 153.2L80.0 153.4L85.5 153.6L91.1 153.6L96.6 153.7L102.1 153.8L107.7 153.9L113.2 153.9L118.8 153.8L124.3 153.7L129.8 153.6L135.4 153.7L140.9 153.8L146.4 153.8L152.0 153.7L157.5 153.7L163.1 153.7L168.6 153.7L174.1 153.5L179.7 153.3L185.2 153.1L190.8 153.0L196.3 153.0L201.8 152.9L207.4 153.0L212.9 153.2L218.4 153.4L224.0 153.7L229.5 153.8L235.1 153.8L240.6 153.8" stroke="#000" stroke-width="1.23" opacity="0.78"/>
<path d="M24.6 153.8L30.1 153.9L35.7 154.0L41.2 154.2L46.8 154.5L52.3 154.7L57.8 154.8L63.4 154.8L68.9 154.8L74.4 154.9L80.0 155.1L85.5 155.1L91.1 155.1L96.6 155.2L102.1 155.3L107.7 155.5L113.2 155.6L118.8 155.5L124.3 155.4L129.8 155.3L135.4 155.3L140.9 155.3L146.4 155.2L152.0 155.1L157.5 155.1L163.1 155.2L168.6 155.3L174.1 155.2L179.7 155.0L185.2 154.8L190.8 154.7L196.3 154.6L201.8 154.4L207.4 154.5L212.9 154.7L218.4 155.0L224.0 155.4L229.5 155.6L235.1 155.6L240.6 155.7" stroke="#fff" stroke-width="1.30" opacity="0.87"/>
<path d="M24.6 155.2L30.1 155.3L35.7 155.5L41.2 155.8L46.8 156.0L52.3 156.2L57.8 156.2L63.4 156.2L68.9 156.3L74.4 156.5L80.0 156.6L85.5 156.6L91.1 156.7L96.6 156.9L102.1 157.1L107.7 157.2L113.2 157.1L118.8 157.1L124.3 157.0L129.8 157.0L135.4 157.0L140.9 156.9L146.4 156.8L152.0 156.9L157.5 157.0L163.1 157.1L168.6 156.9L174.1 156.7L179.7 156.6L185.2 156.4L190.8 156.3L196.3 156.1L201.8 155.8L207.4 155.9L212.9 156.3L218.4 156.7L224.0 157.0L229.5 157.1L235.1 157.1L240.6 157.3" stroke="#000" stroke-width="1.42" opacity="0.94"/>
<path d="M24.6 157.0L30.1 157.1L35.7 157.3L41.2 157.6L46.8 157.9L52.3 158.0L57.8 158.0L63.4 158.0L68.9 158.0L74.4 158.1L80.0 158.1L85.5 158.1L91.1 158.1L96.6 158.2L102.1 158.4L107.7 158.5L113.2 158.4L118.8 158.3L124.3 158.2L129.8 158.3L135.4 158.4L140.9 158.4L146.4 158.4L152.0 158.5L157.5 158.7L163.1 158.9L168.6 158.8L174.1 158.7L179.7 158.5L185.2 158.4L190.8 158.3L196.3 158.0L201.8 157.7L207.4 157.8L212.9 158.1L218.4 158.5L224.0 158.7L229.5 158.7L235.1 158.7L240.6 158.8" stroke="#fff" stroke-width="1.16" opacity="0.92"/>
<path d="M24.6 157.8L30.1 158.1L35.7 158.2L41.2 158.3L46.8 158.3L52.3 158.5L57.8 158.8L63.4 159.1L68.9 159.3L74.4 159.4L80.0 159.5L85.5 159.7L91.1 159.8L96.6 159.8L102.1 159.7L107.7 159.7L113.2 159.8L118.8 160.0L124.3 160.0L129.8 160.0L135.4 160.0L140.9 160.0L146.4 160.1L152.0 160.0L157.5 159.8L163.1 159.6L168.6 159.5L174.1 159.5L179.7 159.5L185.2 159.3L190.8 159.2L196.3 158.9L201.8 158.7L207.4 158.9L212.9 159.2L218.4 159.3L224.0 159.5L229.5 159.8L235.1 160.1L240.6 160.4" stroke="#000" stroke-width="0.96" opacity="0.82"/>
<path d="M24.6 159.2L30.1 159.3L35.7 159.3L41.2 159.5L46.8 159.7L52.3 160.0L57.8 160.2L63.4 160.2L68.9 160.2L74.4 160.3L80.0 160.4L85.5 160.5L91.1 160.5L96.6 160.5L102.1 160.7L107.7 160.9L113.2 161.2L118.8 161.2L124.3 161.2L129.8 161.2L135.4 161.3L140.9 161.4L146.4 161.3L152.0 161.3L157.5 161.3L163.1 161.4L168.6 161.4L174.1 161.3L179.7 161.1L185.2 160.8L190.8 160.6L196.3 160.2L201.8 159.8L207.4 159.8L212.9 160.0L218.4 160.4L224.0 160.8L229.5 161.1L235.1 161.2L240.6 161.4" stroke="#fff" stroke-width="1.07" opacity="0.75"/>
<path d="M24.6 159.8L30.1 160.1L35.7 160.4L41.2 160.5L46.8 160.7L52.3 161.1L57.8 161.4L63.4 161.7L68.9 161.8L74.4 161.8L80.0 161.9L85.5 162.0L91.1 162.2L96.6 162.2L102.1 162.2L107.7 162.3L113.2 162.5L118.8 162.7L124.3 162.7L129.8 162.5L135.4 162.4L140.9 162.4L146.4 162.4L152.0 162.4L157.5 162.2L163.1 162.2L168.6 162.2L174.1 162.2L179.7 162.2L185.2 161.9L190.8 161.6L196.3 161.3L201.8 161.0L207.4 161.2L212.9 161.5L218.4 161.8L224.0 162.2L229.5 162.6L235.1 162.9L240.6 163.2" stroke="#000" stroke-width="1.12" opacity="0.71"/>
<path d="M24.6 161.3L30.1 161.6L35.7 162.0L41.2 162.3L46.8 162.5L52.3 162.5L57.8 162.6L63.4 162.7L68.9 162.8L74.4 162.9L80.0 162.9L85.5 163.0L91.1 163.2L96.6 163.3L102.1 163.4L107.7 163.4L113.2 163.3L118.8 163.3L124.3 163.4L129.8 163.5L135.4 163.5L140.9 163.6L146.4 163.7L152.0 163.9L157.5 164.1L163.1 164.1L168.6 163.9L174.1 163.7L179.7 163.6L185.2 163.4L190.8 163.1L196.3 162.7L201.8 162.3L207.4 162.6L212.9 163.0L218.4 163.4L224.0 163.5L229.5 163.6L235.1 163.8L240.6 164.0" stroke="#fff" stroke-width="1.15" opacity="0.72"/>
<path d="M24.6 162.0L30.1 162.4L35.7 162.7L41.2 162.9L46.8 163.2L52.3 163.6L57.8 163.9L63.4 164.0L68.9 164.1L74.4 164.1L80.0 164.3L85.5 164.6L91.1 164.7L96.6 164.8L102.1 164.9L107.7 165.0L113.2 165.1L118.8 165.2L124.3 165.0L129.8 164.9L135.4 164.8L140.9 164.9L146.4 165.0L152.0 164.9L157.5 164.9L163.1 164.9L168.6 164.9L174.1 164.9L179.7 164.7L185.2 164.3L190.8 164.0L196.3 163.6L201.8 163.3L207.4 163.6L212.9 164.0L218.4 164.4L224.0 164.9L229.5 165.3L235.1 165.6L240.6 165.7" stroke="#000" stroke-width="1.18" opacity="0.86"/>
<path d="M24.6 163.6L30.1 164.0L35.7 164.3L41.2 164.4L46.8 164.5L52.3 164.7L57.8 164.9L63.4 165.1L68.9 165.3L74.4 165.4L80.0 165.5L85.5 165.7L91.1 165.8L96.6 165.8L102.1 165.7L107.7 165.7L113.2 165.8L118.8 165.9L124.3 166.1L129.8 166.1L135.4 166.2L140.9 166.4L146.4 166.6L152.0 166.6L157.5 166.6L163.1 166.4L168.6 166.3L174.1 166.2L179.7 166.2L185.2 165.9L190.8 165.6L196.3 165.2L201.8 164.9L207.4 165.1L212.9 165.4L218.4 165.6L224.0 165.8L229.5 166.1L235.1 166.4L240.6 166.6" stroke="#fff" stroke-width="0.94" opacity="0.78"/>
<path d="M24.6 164.3L30.1 164.7L35.7 165.1L41.2 165.3L46.8 165.5L52.3 165.8L57.8 166.0L63.4 166.2L68.9 166.2L74.4 166.3L80.0 166.5L85.5 166.8L91.1 167.0L96.6 167.1L102.1 167.3L107.7 167.4L113.2 167.6L118.8 167.7L124.3 167.7L129.8 167.6L135.4 167.6L140.9 167.7L146.4 167.9L152.0 168.0L157.5 167.9L163.1 167.9L168.6 167.7L174.1 167.6L179.7 167.3L185.2 166.9L190.8 166.4L196.3 165.9L201.8 165.6L207.4 165.8L212.9 166.3L218.4 166.7L224.0 167.1L229.5 167.5L235.1 167.8L240.6 168.0" stroke="#000" stroke-width="1.00" opacity="0.69"/>
<path d="M24.6 165.4L30.1 165.7L35.7 166.0L41.2 166.3L46.8 166.6L52.3 167.0L57.8 167.3L63.4 167.4L68.9 167.5L74.4 167.6L80.0 167.8L85.5 168.1L91.1 168.2L96.6 168.3L102.1 168.5L107.7 168.7L113.2 169.0L118.8 169.1L124.3 169.1L129.8 169.0L135.4 169.0L140.9 169.1L146.4 169.1L152.0 169.1L157.5 169.0L163.1 169.0L168.6 169.0L174.1 168.9L179.7 168.6L185.2 168.1L190.8 167.7L196.3 167.2L201.8 166.7L207.4 166.9L212.9 167.3L218.4 167.9L224.0 168.4L229.5 168.9L235.1 169.3L240.6 169.5" stroke="#fff" stroke-width="0.98" opacity="0.90"/>
<path d="M24.6 166.3L30.1 166.6L35.7 167.1L41.2 167.5L46.8 167.8L52.3 168.1L57.8 168.4L63.4 168.7L68.9 168.9L74.4 169.0L80.0 169.1L85.5 169.2L91.1 169.4L96.6 169.7L102.1 169.9L107.7 170.0L113.2 170.2L118.8 170.3L124.3 170.5L129.8 170.5L135.4 170.4L140.9 170.3L146.4 170.3L152.0 170.4L157.5 170.4L163.1 170.4L168.6 170.1L174.1 170.0L179.7 169.8L185.2 169.5L190.8 169.0L196.3 168.3L201.8 167.7L207.4 168.0L212.9 168.7L218.4 169.3L224.0 169.7L229.5 170.1L235.1 170.5L240.6 171.0" stroke="#000" stroke-width="1.02" opacity="0.89"/>
<path d="M24.6 167.9L30.1 168.3L35.7 168.5L41.2 168.8L46.8 169.1L52.3 169.6L57.8 169.9L63.4 170.1L68.9 170.2L74.4 170.3L80.0 170.5L85.5 170.6L91.1 170.6L96.6 170.6L102.1 170.6L107.7 170.9L113.2 171.1L118.8 171.3L124.3 171.3L129.8 171.4L135.4 171.5L140.9 171.6L146.4 171.7L152.0 171.6L157.5 171.5L163.1 171.6L168.6 171.7L174.1 171.6L179.7 171.4L185.2 171.0L190.8 170.7L196.3 170.1L201.8 169.5L207.4 169.6L212.9 170.0L218.4 170.5L224.0 171.0L229.5 171.4L235.1 171.8L240.6 172.0" stroke="#fff" stroke-width="1.07" opacity="0.83"/>
<path d="M24.6 168.7L30.1 169.1L35.7 169.4L41.2 169.6L46.8 170.0L52.3 170.4L57.8 170.9L63.4 171.3L68.9 171.5L74.4 171.7L80.0 172.0L85.5 172.2L91.1 172.3L96.6 172.3L102.1 172.3L107.7 172.4L113.2 172.7L118.8 172.8L124.3 172.9L129.8 172.8L135.4 172.9L140.9 172.9L146.4 173.0L152.0 172.8L157.5 172.6L163.1 172.6L168.6 172.5L174.1 172.4L179.7 172.3L185.2 171.9L190.8 171.6L196.3 171.1L201.8 170.5L207.4 170.8L212.9 171.2L218.4 171.8L224.0 172.3L229.5 172.9L235.1 173.3L240.6 173.7" stroke="#000" stroke-width="1.06" opacity="0.82"/>
<path d="M24.6 169.8L30.1 170.0L35.7 170.3L41.2 170.8L46.8 171.2L52.3 171.7L57.8 172.0L63.4 172.3L68.9 172.7L74.4 173.1L80.0 173.3L85.5 173.4L91.1 173.4L96.6 173.5L102.1 173.7L107.7 173.9L113.2 174.0L118.8 174.0L124.3 174.1L129.8 174.3L135.4 174.4L140.9 174.3L146.4 174.2L152.0 174.1L157.5 174.0L163.1 174.1L168.6 173.9L174.1 173.6L179.7 173.4L185.2 173.2L190.8 172.9L196.3 172.3L201.8 171.6L207.4 171.8L212.9 172.4L218.4 173.1L224.0 173.7L229.5 174.1L235.1 174.5L240.6 175.0" stroke="#fff" stroke-width="0.97" opacity="0.83"/>
<path d="M24.6 171.2L30.1 171.5L35.7 171.8L41.2 172.2L46.8 172.6L52.3 172.8L57.8 173.1L63.4 173.4L68.9 173.7L74.4 174.1L80.0 174.2L85.5 174.3L91.1 174.3L96.6 174.5L102.1 174.7L107.7 174.8L113.2 174.9L118.8 175.1L124.3 175.3L129.8 175.6L135.4 175.7L140.9 175.8L146.4 175.7L152.0 175.7L157.5 175.8L163.1 175.8L168.6 175.5L174.1 175.2L179.7 175.0L185.2 174.7L190.8 174.4L196.3 173.7L201.8 172.8L207.4 173.0L212.9 173.6L218.4 174.2L224.0 174.7L229.5 175.0L235.1 175.4L240.6 175.9" stroke="#000" stroke-width="1.02" opacity="0.97"/>
<path d="M24.6 171.8L30.1 172.3L35.7 172.8L41.2 173.4L46.8 173.8L52.3 174.2L57.8 174.7L63.4 175.1L68.9 175.4L74.4 175.6L80.0 175.6L85.5 175.8L91.1 175.9L96.6 176.1L102.1 176.2L107.7 176.2L113.2 176.4L118.8 176.6L124.3 176.7L129.8 176.7L135.4 176.6L140.9 176.5L146.4 176.6L152.0 176.7L157.5 176.7L163.1 176.7L168.6 176.5L174.1 176.4L179.7 176.4L185.2 176.0L190.8 175.5L196.3 174.7L201.8 174.0L207.4 174.3L212.9 175.1L218.4 175.8L224.0 176.3L229.5 176.8L235.1 177.4L240.6 177.9" stroke="#fff" stroke-width="1.07" opacity="0.68"/>
<path d="M24.6 172.7L30.1 173.3L35.7 173.9L41.2 174.5L46.8 174.9L52.3 175.3L57.8 175.7L63.4 176.1L68.9 176.3L74.4 176.5L80.0 176.7L85.5 177.0L91.1 177.3L96.6 177.6L102.1 177.7L107.7 177.8L113.2 178.0L118.8 178.1L124.3 178.1L129.8 178.0L135.4 177.9L140.9 177.9L146.4 178.1L152.0 178.2L157.5 178.2L163.1 178.1L168.6 177.9L174.1 177.7L179.7 177.5L185.2 176.9L190.8 176.3L196.3 175.6L201.8 175.0L207.4 175.4L212.9 176.3L218.4 177.0L224.0 177.6L229.5 178.2L235.1 178.7L240.6 179.1" stroke="#000" stroke-width="1.15" opacity="0.98"/>
<path d="M24.6 174.4L30.1 174.8L35.7 175.3L41.2 175.7L46.8 176.1L52.3 176.3L57.8 176.6L63.4 177.0L68.9 177.4L74.4 177.7L80.0 177.9L85.5 178.1L91.1 178.2L96.6 178.4L102.1 178.6L107.7 178.7L113.2 178.8L118.8 179.0L124.3 179.2L129.8 179.5L135.4 179.6L140.9 179.7L146.4 179.7L152.0 179.8L157.5 179.8L163.1 179.8L168.6 179.4L174.1 179.1L179.7 178.9L185.2 178.5L190.8 178.1L196.3 177.3L201.8 176.4L207.4 176.6L212.9 177.4L218.4 178.1L224.0 178.5L229.5 178.9L235.1 179.4L240.6 180.0" stroke="#fff" stroke-width="1.05" opacity="0.74"/>
<path d="M24.6 175.3L30.1 175.7L35.7 176.2L41.2 176.7L46.8 177.1L52.3 177.5L57.8 177.8L63.4 178.1L68.9 178.5L74.4 178.9L80.0 179.3L85.5 179.6L91.1 179.7L96.6 180.0L102.1 180.2L107.7 180.4L113.2 180.4L118.8 180.5L124.3 180.6L129.8 180.8L135.4 181.0L140.9 181.0L146.4 181.0L152.0 181.0L157.5 181.1L163.1 181.0L168.6 180.6L174.1 180.2L179.7 179.8L185.2 179.4L190.8 179.0L196.3 178.2L201.8 177.4L207.4 177.7L212.9 178.6L218.4 179.4L224.0 180.0L229.5 180.4L235.1 180.9L240.6 181.4" stroke="#000" stroke-width="1.09" opacity="0.76"/>
<path d="M24.6 176.5L30.1 177.1L35.7 177.6L41.2 178.2L46.8 178.7L52.3 179.0L57.8 179.3L63.4 179.6L68.9 180.1L74.4 180.5L80.0 180.7L85.5 180.8L91.1 181.0L96.6 181.1L102.1 181.3L107.7 181.3L113.2 181.3L118.8 181.4L124.3 181.5L129.8 181.8L135.4 181.9L140.9 182.0L146.4 182.1L152.0 182.2L157.5 182.3L163.1 182.3L168.6 182.0L174.1 181.6L179.7 181.4L185.2 181.0L190.8 180.6L196.3 179.8L201.8 179.0L207.4 179.3L212.9 180.2L218.4 181.0L224.0 181.5L229.5 181.8L235.1 182.2L240.6 182.8" stroke="#fff" stroke-width="1.11" opacity="0.79"/>
<path d="M24.6 177.7L30.1 178.3L35.7 178.8L41.2 179.2L46.8 179.5L52.3 179.9L57.8 180.4L63.4 180.7L68.9 181.1L74.4 181.3L80.0 181.6L85.5 182.0L91.1 182.2L96.6 182.3L102.1 182.4L107.7 182.5L113.2 182.7L118.8 183.0L124.3 183.1L129.8 183.2L135.4 183.4L140.9 183.6L146.4 183.9L152.0 183.9L157.5 183.8L163.1 183.6L168.6 183.4L174.1 183.2L179.7 182.9L185.2 182.2L190.8 181.7L196.3 180.8L201.8 180.0L207.4 180.4L212.9 181.1L218.4 181.8L224.0 182.4L229.5 182.9L235.1 183.5L240.6 184.0" stroke="#000" stroke-width="1.10" opacity="0.79"/>
<path d="M24.6 178.9L30.1 179.4L35.7 179.8L41.2 180.2L46.8 180.7L52.3 181.3L57.8 181.7L63.4 182.0L68.9 182.3L74.4 182.7L80.0 183.1L85.5 183.3L91.1 183.3L96.6 183.4L102.1 183.5L107.7 183.8L113.2 184.1L118.8 184.2L124.3 184.4L129.8 184.6L135.4 184.8L140.9 185.0L146.4 185.1L152.0 185.0L157.5 184.9L163.1 185.0L168.6 184.8L174.1 184.5L179.7 184.2L185.2 183.6L190.8 183.1L196.3 182.3L201.8 181.3L207.4 181.5L212.9 182.2L218.4 183.0L224.0 183.8L229.5 184.4L235.1 184.8L240.6 185.4" stroke="#fff" stroke-width="0.96" opacity="0.74"/>
<path d="M24.6 179.7L30.1 180.3L35.7 180.9L41.2 181.6L46.8 182.0L52.3 182.5L57.8 183.0L63.4 183.5L68.9 184.0L74.4 184.2L80.0 184.4L85.5 184.5L91.1 184.7L96.6 184.8L102.1 185.0L107.7 185.0L113.2 185.2L118.8 185.5L124.3 185.7L129.8 185.9L135.4 186.0L140.9 186.0L146.4 186.1L152.0 186.2L157.5 186.2L163.1 186.2L168.6 185.9L174.1 185.7L179.7 185.6L185.2 185.1L190.8 184.5L196.3 183.5L201.8 182.4L207.4 182.8L212.9 183.7L218.4 184.5L224.0 185.2L229.5 185.7L235.1 186.4L240.6 187.1" stroke="#000" stroke-width="1.17" opacity="0.84"/>
<path d="M24.6 180.7L30.1 181.4L35.7 182.1L41.2 182.7L46.8 183.2L52.3 183.8L57.8 184.4L63.4 184.8L68.9 185.2L74.4 185.3L80.0 185.5L85.5 185.7L91.1 185.9L96.6 186.1L102.1 186.2L107.7 186.3L113.2 186.7L118.8 187.0L124.3 187.1L129.8 187.2L135.4 187.2L140.9 187.3L146.4 187.4L152.0 187.5L157.5 187.5L163.1 187.5L168.6 187.3L174.1 187.2L179.7 187.0L185.2 186.4L190.8 185.6L196.3 184.6L201.8 183.6L207.4 184.0L212.9 184.9L218.4 185.7L224.0 186.5L229.5 187.2L235.1 187.9L240.6 188.5" stroke="#fff" stroke-width="1.19" opacity="0.96"/>
<path d="M24.6 181.8L30.1 182.6L35.7 183.3L41.2 183.9L46.8 184.5L52.3 185.1L57.8 185.6L63.4 186.0L68.9 186.2L74.4 186.4L80.0 186.6L85.5 186.9L91.1 187.2L96.6 187.4L102.1 187.6L107.7 187.8L113.2 188.1L118.8 188.3L124.3 188.4L129.8 188.3L135.4 188.4L140.9 188.5L146.4 188.8L152.0 188.9L157.5 188.9L163.1 189.0L168.6 188.8L174.1 188.6L179.7 188.3L185.2 187.5L190.8 186.7L196.3 185.7L201.8 184.7L207.4 185.1L212.9 186.1L218.4 187.1L224.0 187.9L229.5 188.6L235.1 189.2L240.6 189.7" stroke="#000" stroke-width="1.08" opacity="0.67"/>
<path d="M24.6 182.9L30.1 183.6L35.7 184.3L41.2 184.9L46.8 185.5L52.3 186.1L57.8 186.7L63.4 187.3L68.9 187.7L74.4 188.0L80.0 188.2L85.5 188.5L91.1 188.7L96.6 188.8L102.1 188.8L107.7 188.9L113.2 189.2L118.8 189.5L124.3 189.7L129.8 189.8L135.4 189.8L140.9 189.9L146.4 190.1L152.0 190.1L157.5 190.1L163.1 190.0L168.6 189.8L174.1 189.7L179.7 189.5L185.2 188.9L190.8 188.2L196.3 187.1L201.8 186.1L207.4 186.5L212.9 187.4L218.4 188.3L224.0 189.1L229.5 189.8L235.1 190.6L240.6 191.2" stroke="#fff" stroke-width="0.92" opacity="0.84"/>
<path d="M24.6 184.1L30.1 184.7L35.7 185.4L41.2 186.0L46.8 186.5L52.3 186.9L57.8 187.5L63.4 188.0L68.9 188.5L74.4 188.9L80.0 189.2L85.5 189.5L91.1 189.8L96.6 190.1L102.1 190.2L107.7 190.4L113.2 190.6L118.8 190.9L124.3 191.2L129.8 191.4L135.4 191.5L140.9 191.6L146.4 191.8L152.0 191.9L157.5 191.8L163.1 191.7L168.6 191.2L174.1 190.9L179.7 190.6L185.2 190.0L190.8 189.2L196.3 188.1L201.8 187.0L207.4 187.4L212.9 188.5L218.4 189.4L224.0 190.1L229.5 190.8L235.1 191.5L240.6 192.3" stroke="#000" stroke-width="1.10" opacity="0.73"/>
<path d="M24.6 184.7L30.1 185.4L35.7 186.2L41.2 186.9L46.8 187.6L52.3 188.2L57.8 189.0L63.4 189.6L68.9 190.2L74.4 190.5L80.0 190.7L85.5 191.1L91.1 191.3L96.6 191.6L102.1 191.8L107.7 191.9L113.2 192.2L118.8 192.5L124.3 192.7L129.8 192.7L135.4 192.7L140.9 192.7L146.4 192.7L152.0 192.8L157.5 192.7L163.1 192.6L168.6 192.3L174.1 192.0L179.7 191.8L185.2 191.1L190.8 190.4L196.3 189.2L201.8 188.1L207.4 188.6L212.9 189.7L218.4 190.8L224.0 191.7L229.5 192.6L235.1 193.4L240.6 194.2" stroke="#fff" stroke-width="1.02" opacity="0.76"/>
<path d="M24.6 186.0L30.1 186.7L35.7 187.6L41.2 188.4L46.8 189.0L52.3 189.6L57.8 190.0L63.4 190.4L68.9 190.9L74.4 191.3L80.0 191.6L85.5 191.9L91.1 192.3L96.6 192.7L102.1 193.1L107.7 193.3L113.2 193.5L118.8 193.7L124.3 193.8L129.8 194.0L135.4 194.1L140.9 194.1L146.4 194.3L152.0 194.5L157.5 194.6L163.1 194.6L168.6 194.1L174.1 193.6L179.7 193.2L185.2 192.4L190.8 191.6L196.3 190.3L201.8 189.1L207.4 189.6L212.9 190.9L218.4 192.1L224.0 193.0L229.5 193.7L235.1 194.3L240.6 195.1" stroke="#000" stroke-width="0.96" opacity="0.83"/>
<path d="M24.6 187.1L30.1 187.9L35.7 188.8L41.2 189.6L46.8 190.3L52.3 190.8L57.8 191.4L63.4 191.8L68.9 192.3L74.4 192.6L80.0 192.8L85.5 193.1L91.1 193.5L96.6 193.9L102.1 194.2L107.7 194.4L113.2 194.7L118.8 195.0L124.3 195.2L129.8 195.3L135.4 195.3L140.9 195.4L146.4 195.6L152.0 195.8L157.5 195.9L163.1 195.9L168.6 195.5L174.1 195.1L179.7 194.7L185.2 193.9L190.8 193.0L196.3 191.6L201.8 190.3L207.4 190.9L212.9 192.2L218.4 193.3L224.0 194.2L229.5 195.0L235.1 195.8L240.6 196.5" stroke="#fff" stroke-width="0.92" opacity="0.99"/>
<path d="M24.6 187.9L30.1 188.7L35.7 189.6L41.2 190.6L46.8 191.4L52.3 192.2L57.8 192.8L63.4 193.3L68.9 193.9L74.4 194.3L80.0 194.5L85.5 194.8L91.1 195.1L96.6 195.4L102.1 195.8L107.7 196.0L113.2 196.2L118.8 196.3L124.3 196.4L129.8 196.5L135.4 196.5L140.9 196.5L146.4 196.5L152.0 196.6L157.5 196.8L163.1 196.8L168.6 196.5L174.1 196.1L179.7 195.7L185.2 195.0L190.8 194.3L196.3 193.0L201.8 191.6L207.4 192.1L212.9 193.6L218.4 194.9L224.0 195.9L229.5 196.7L235.1 197.5L240.6 198.3" stroke="#000" stroke-width="1.10" opacity="0.85"/>
<path d="M24.6 189.3L30.1 190.1L35.7 191.0L41.2 191.9L46.8 192.6L52.3 193.2L57.8 193.8L63.4 194.3L68.9 194.8L74.4 195.2L80.0 195.4L85.5 195.7L91.1 196.0L96.6 196.4L102.1 196.8L107.7 197.0L113.2 197.3L118.8 197.6L124.3 197.8L129.8 198.0L135.4 198.0L140.9 198.1L146.4 198.2L152.0 198.4L157.5 198.5L163.1 198.5L168.6 198.1L174.1 197.8L179.7 197.4L185.2 196.6L190.8 195.6L196.3 194.2L201.8 192.7L207.4 193.2L212.9 194.6L218.4 195.9L224.0 196.8L229.5 197.6L235.1 198.5L240.6 199.3" stroke="#fff" stroke-width="1.10" opacity="0.85"/>
<path d="M24.6 190.3L30.1 191.2L35.7 192.2L41.2 193.0L46.8 193.7L52.3 194.5L57.8 195.3L63.4 196.0L68.9 196.5L74.4 196.8L80.0 197.0L85.5 197.4L91.1 197.6L96.6 197.8L102.1 198.0L107.7 198.2L113.2 198.6L118.8 198.9L124.3 199.1L129.8 199.1L135.4 199.1L140.9 199.2L146.4 199.4L152.0 199.5L157.5 199.4L163.1 199.4L168.6 199.2L174.1 199.0L179.7 198.7L185.2 197.8L190.8 196.9L196.3 195.6L201.8 194.3L207.4 194.8L212.9 196.1L218.4 197.3L224.0 198.3L229.5 199.3L235.1 200.2L240.6 201.0" stroke="#000" stroke-width="1.05" opacity="0.93"/>
<path d="M24.6 191.6L30.1 192.4L35.7 193.3L41.2 194.0L46.8 194.7L52.3 195.3L57.8 196.0L63.4 196.7L68.9 197.3L74.4 197.8L80.0 198.1L85.5 198.4L91.1 198.8L96.6 199.1L102.1 199.3L107.7 199.5L113.2 199.8L118.8 200.2L124.3 200.6L129.8 200.8L135.4 200.9L140.9 201.0L146.4 201.2L152.0 201.2L157.5 201.2L163.1 201.0L168.6 200.6L174.1 200.2L179.7 199.8L185.2 199.1L190.8 198.1L196.3 196.7L201.8 195.3L207.4 195.8L212.9 197.1L218.4 198.3L224.0 199.2L229.5 200.1L235.1 201.1L240.6 202.0" stroke="#fff" stroke-width="1.09" opacity="0.87"/>
<path d="M24.6 192.4L30.1 193.4L35.7 194.4L41.2 195.2L46.8 196.1L52.3 197.0L57.8 197.7L63.4 198.1L68.9 198.6L74.4 199.1L80.0 199.7L85.5 200.2L91.1 200.5L96.6 200.7L102.1 201.0L107.7 201.2L113.2 201.5L118.8 201.6L124.3 201.5L129.8 201.6L135.4 201.8L140.9 202.0L146.4 202.2L152.0 202.2L157.5 202.2L163.1 202.2L168.6 201.9L174.1 201.4L179.7 200.8L185.2 199.9L190.8 199.1L196.3 197.9L201.8 196.6L207.4 197.2L212.9 198.6L218.4 200.0L224.0 201.2L229.5 202.1L235.1 202.9L240.6 203.6" stroke="#000" stroke-width="1.15" opacity="0.68"/>
<path d="M24.6 193.9L30.1 194.7L35.7 195.4L41.2 196.3L46.8 197.1L52.3 197.8L57.8 198.4L63.4 199.0L68.9 199.6L74.4 200.3L80.0 200.8L85.5 201.1L91.1 201.3L96.6 201.6L102.1 202.0L107.7 202.3L113.2 202.6L118.8 202.8L124.3 203.0L129.8 203.4L135.4 203.7L140.9 203.8L146.4 203.9L152.0 203.9L157.5 203.9L163.1 203.9L168.6 203.4L174.1 202.8L179.7 202.3L185.2 201.4L190.8 200.7L196.3 199.3L201.8 197.7L207.4 198.1L212.9 199.5L218.4 200.9L224.0 202.0L229.5 202.8L235.1 203.7L240.6 204.6" stroke="#fff" stroke-width="1.16" opacity="0.69"/>
<path d="M24.6 194.5L30.1 195.5L35.7 196.5L41.2 197.4L46.8 198.2L52.3 199.0L57.8 199.8L63.4 200.4L68.9 201.0L74.4 201.4L80.0 201.8L85.5 202.2L91.1 202.6L96.6 203.1L102.1 203.4L107.7 203.7L113.2 204.1L118.8 204.5L124.3 204.7L129.8 204.8L135.4 204.8L140.9 204.9L146.4 205.0L152.0 205.2L157.5 205.2L163.1 205.1L168.6 204.7L174.1 204.3L179.7 203.8L185.2 202.8L190.8 201.7L196.3 200.1L201.8 198.5L207.4 199.1L212.9 200.7L218.4 202.1L224.0 203.3L229.5 204.3L235.1 205.4L240.6 206.4" stroke="#000" stroke-width="0.96" opacity="0.88"/>
<path d="M24.6 195.9L30.1 196.7L35.7 197.6L41.2 198.6L46.8 199.4L52.3 200.2L57.8 200.9L63.4 201.6L68.9 202.3L74.4 202.9L80.0 203.2L85.5 203.6L91.1 203.9L96.6 204.2L102.1 204.6L107.7 204.9L113.2 205.2L118.8 205.6L124.3 205.9L129.8 206.2L135.4 206.4L140.9 206.4L146.4 206.5L152.0 206.5L157.5 206.5L163.1 206.5L168.6 206.0L174.1 205.5L179.7 205.0L185.2 204.2L190.8 203.2L196.3 201.6L201.8 199.9L207.4 200.4L212.9 201.9L218.4 203.4L224.0 204.6L229.5 205.5L235.1 206.5L240.6 207.6" stroke="#fff" stroke-width="1.14" opacity="0.65"/>
<path d="M24.6 197.1L30.1 198.0L35.7 198.9L41.2 199.8L46.8 200.8L52.3 201.8L57.8 202.6L63.4 203.1L68.9 203.6L74.4 204.1L80.0 204.6L85.5 205.0L91.1 205.1L96.6 205.3L102.1 205.7L107.7 206.1L113.2 206.6L118.8 206.9L124.3 207.0L129.8 207.2L135.4 207.4L140.9 207.6L146.4 207.7L152.0 207.7L157.5 207.7L163.1 207.8L168.6 207.5L174.1 207.2L179.7 206.6L185.2 205.6L190.8 204.6L196.3 203.1L201.8 201.4L207.4 201.8L212.9 203.3L218.4 204.8L224.0 206.1L229.5 207.2L235.1 208.1L240.6 208.9" stroke="#000" stroke-width="1.16" opacity="0.75"/>
<path d="M24.6 197.8L30.1 198.9L35.7 200.0L41.2 201.1L46.8 202.0L52.3 202.7L57.8 203.5L63.4 204.2L68.9 205.0L74.4 205.6L80.0 206.1L85.5 206.6L91.1 207.0L96.6 207.3L102.1 207.6L107.7 207.7L113.2 207.8L118.8 208.1L124.3 208.3L129.8 208.5L135.4 208.6L140.9 208.7L146.4 208.9L152.0 209.0L157.5 209.1L163.1 209.0L168.6 208.4L174.1 207.8L179.7 207.4L185.2 206.5L190.8 205.6L196.3 204.1L201.8 202.5L207.4 203.3L212.9 205.0L218.4 206.5L224.0 207.7L229.5 208.6L235.1 209.5L240.6 210.6" stroke="#fff" stroke-width="1.16" opacity="0.87"/>
<path d="M24.6 198.9L30.1 200.0L35.7 201.1L41.2 202.2L46.8 203.0L52.3 203.9L57.8 204.7L63.4 205.4L68.9 206.0L74.4 206.4L80.0 206.8L85.5 207.3L91.1 207.8L96.6 208.2L102.1 208.6L107.7 209.0L113.2 209.4L118.8 209.7L124.3 210.0L129.8 210.1L135.4 210.1L140.9 210.2L146.4 210.5L152.0 210.6L157.5 210.7L163.1 210.7L168.6 210.2L174.1 209.7L179.7 209.2L185.2 208.1L190.8 206.8L196.3 205.1L201.8 203.4L207.4 204.0L212.9 205.7L218.4 207.3L224.0 208.6L229.5 209.7L235.1 210.8L240.6 211.8" stroke="#000" stroke-width="0.97" opacity="0.96"/>
<path d="M24.6 200.0L30.1 201.0L35.7 202.0L41.2 203.1L46.8 204.0L52.3 204.9L57.8 205.7L63.4 206.6L68.9 207.5L74.4 208.1L80.0 208.6L85.5 209.0L91.1 209.4L96.6 209.8L102.1 210.1L107.7 210.4L113.2 210.7L118.8 211.0L124.3 211.4L129.8 211.6L135.4 211.7L140.9 211.7L146.4 211.8L152.0 211.8L157.5 211.8L163.1 211.6L168.6 211.0L174.1 210.5L179.7 210.1L185.2 209.1L190.8 208.1L196.3 206.4L201.8 204.7L207.4 205.4L212.9 207.1L218.4 208.7L224.0 210.0L229.5 211.0L235.1 212.2L240.6 213.4" stroke="#fff" stroke-width="1.09" opacity="0.81"/>
<path d="M24.6 201.3L30.1 202.2L35.7 203.2L41.2 204.2L46.8 205.2L52.3 206.1L57.8 206.9L63.4 207.6L68.9 208.5L74.4 209.2L80.0 209.7L85.5 210.2L91.1 210.5L96.6 210.8L102.1 211.3L107.7 211.7L113.2 212.0L118.8 212.3L124.3 212.6L129.8 212.9L135.4 213.2L140.9 213.3L146.4 213.3L152.0 213.3L157.5 213.3L163.1 213.2L168.6 212.7L174.1 212.0L179.7 211.4L185.2 210.5L190.8 209.5L196.3 207.8L201.8 205.9L207.4 206.4L212.9 208.2L218.4 209.8L224.0 211.2L229.5 212.3L235.1 213.3L240.6 214.5" stroke="#000" stroke-width="1.11" opacity="0.85"/>
<path d="M24.6 202.4L30.1 203.7L35.7 204.9L41.2 206.0L46.8 206.8L52.3 207.7L57.8 208.5L63.4 209.2L68.9 209.9L74.4 210.3L80.0 210.8L85.5 211.5L91.1 211.9L96.6 212.3L102.1 212.5L107.7 212.7L113.2 213.1L118.8 213.4L124.3 213.6L129.8 213.7L135.4 213.8L140.9 214.1L146.4 214.5L152.0 214.7L157.5 214.7L163.1 214.6L168.6 214.1L174.1 213.7L179.7 213.1L185.2 211.9L190.8 210.7L196.3 209.1L201.8 207.4L207.4 208.2L212.9 209.9L218.4 211.5L224.0 212.8L229.5 213.9L235.1 214.9L240.6 215.9" stroke="#fff" stroke-width="0.97" opacity="0.97"/>
<path d="M24.6 203.6L30.1 204.7L35.7 205.9L41.2 207.0L46.8 207.9L52.3 208.7L57.8 209.5L63.4 210.2L68.9 211.1L74.4 211.7L80.0 212.2L85.5 212.7L91.1 213.1L96.6 213.4L102.1 213.8L107.7 214.0L113.2 214.3L118.8 214.6L124.3 215.0L129.8 215.3L135.4 215.6L140.9 215.8L146.4 216.0L152.0 216.1L157.5 216.2L163.1 216.1L168.6 215.4L174.1 214.8L179.7 214.3L185.2 213.3L190.8 212.2L196.3 210.4L201.8 208.5L207.4 209.2L212.9 211.0L218.4 212.7L224.0 213.9L229.5 214.9L235.1 216.0L240.6 217.1" stroke="#000" stroke-width="0.98" opacity="1.00"/>
<path d="M24.6 204.5L30.1 205.7L35.7 206.9L41.2 208.1L46.8 209.2L52.3 210.1L57.8 210.8L63.4 211.4L68.9 212.1L74.4 212.7L80.0 213.2L85.5 213.6L91.1 214.0L96.6 214.5L102.1 215.0L107.7 215.3L113.2 215.6L118.8 215.8L124.3 216.0L129.8 216.2L135.4 216.4L140.9 216.6L146.4 216.8L152.0 217.0L157.5 217.2L163.1 217.3L168.6 216.8L174.1 216.1L179.7 215.4L185.2 214.3L190.8 213.2L196.3 211.4L201.8 209.5L207.4 210.2L212.9 212.1L218.4 213.9L224.0 215.3L229.5 216.3L235.1 217.2L240.6 218.3" stroke="#fff" stroke-width="1.14" opacity="0.82"/>
<path d="M24.6 205.3L30.1 206.4L35.7 207.7L41.2 208.9L46.8 210.0L52.3 211.0L57.8 211.9L63.4 212.8L68.9 213.6L74.4 214.2L80.0 214.6L85.5 215.0L91.1 215.4L96.6 215.8L102.1 216.1L107.7 216.4L113.2 216.7L118.8 217.1L124.3 217.3L129.8 217.5L135.4 217.6L140.9 217.6L146.4 217.7L152.0 217.8L157.5 217.8L163.1 217.8L168.6 217.3L174.1 216.8L179.7 216.4L185.2 215.4L190.8 214.3L196.3 212.5L201.8 210.6L207.4 211.3L212.9 213.2L218.4 214.9L224.0 216.3L229.5 217.5L235.1 218.7L240.6 219.9" stroke="#000" stroke-width="1.13" opacity="0.93"/>
<path d="M24.6 206.5L30.1 207.7L35.7 208.9L41.2 210.0L46.8 210.9L52.3 211.9L57.8 212.7L63.4 213.4L68.9 214.1L74.4 214.6L80.0 215.2L85.5 215.9L91.1 216.5L96.6 216.9L102.1 217.2L107.7 217.6L113.2 218.0L118.8 218.4L124.3 218.5L129.8 218.6L135.4 218.7L140.9 219.0L146.4 219.3L152.0 219.4L157.5 219.4L163.1 219.3L168.6 218.7L174.1 218.2L179.7 217.5L185.2 216.2L190.8 214.9L196.3 213.1L201.8 211.5L207.4 212.2L212.9 214.0L218.4 215.7L224.0 217.2L229.5 218.4L235.1 219.5L240.6 220.5" stroke="#fff" stroke-width="0.97" opacity="0.85"/>
<path d="M24.6 208.0L30.1 209.2L35.7 210.2L41.2 211.1L46.8 212.1L52.3 213.1L57.8 213.9L63.4 214.5L68.9 215.1L74.4 215.8L80.0 216.5L85.5 217.1L91.1 217.5L96.6 217.7L102.1 218.0L107.7 218.4L113.2 218.8L118.8 219.1L124.3 219.3L129.8 219.5L135.4 219.9L140.9 220.2L146.4 220.5L152.0 220.5L157.5 220.4L163.1 220.4L168.6 219.9L174.1 219.3L179.7 218.6L185.2 217.4L190.8 216.3L196.3 214.7L201.8 212.9L207.4 213.5L212.9 215.2L218.4 216.8L224.0 218.2L229.5 219.4L235.1 220.4L240.6 221.3" stroke="#000" stroke-width="1.10" opacity="0.66"/>
<path d="M24.6 208.8L30.1 209.8L35.7 210.8L41.2 212.0L46.8 213.0L52.3 213.9L57.8 214.8L63.4 215.6L68.9 216.4L74.4 217.2L80.0 217.7L85.5 218.1L91.1 218.5L96.6 218.9L102.1 219.3L107.7 219.7L113.2 220.0L118.8 220.4L124.3 220.7L129.8 221.1L135.4 221.3L140.9 221.3L146.4 221.4L152.0 221.4L157.5 221.4L163.1 221.3L168.6 220.7L174.1 220.1L179.7 219.5L185.2 218.5L190.8 217.4L196.3 215.6L201.8 213.6L207.4 214.2L212.9 216.1L218.4 217.8L224.0 219.2L229.5 220.3L235.1 221.5L240.6 222.8" stroke="#fff" stroke-width="1.18" opacity="0.93"/>
<path d="M24.6 210.0L30.1 211.2L35.7 212.4L41.2 213.5L46.8 214.3L52.3 215.3L57.8 216.2L63.4 217.0L68.9 217.8L74.4 218.3L80.0 218.8L85.5 219.4L91.1 219.8L96.6 220.1L102.1 220.2L107.7 220.4L113.2 220.8L118.8 221.2L124.3 221.4L129.8 221.6L135.4 221.8L140.9 222.0L146.4 222.3L152.0 222.4L157.5 222.3L163.1 222.2L168.6 221.7L174.1 221.3L179.7 220.8L185.2 219.7L190.8 218.6L196.3 216.9L201.8 215.2L207.4 216.0L212.9 217.7L218.4 219.2L224.0 220.5L229.5 221.7L235.1 222.8L240.6 223.9" stroke="#000" stroke-width="1.12" opacity="0.94"/>
<path d="M24.6 210.5L30.1 211.7L35.7 213.0L41.2 214.2L46.8 215.3L52.3 216.3L57.8 217.3L63.4 218.1L68.9 218.9L74.4 219.4L80.0 219.9L85.5 220.4L91.1 220.8L96.6 221.3L102.1 221.7L107.7 222.0L113.2 222.4L118.8 222.7L124.3 222.9L129.8 223.0L135.4 223.0L140.9 223.0L146.4 223.2L152.0 223.3L157.5 223.3L163.1 223.2L168.6 222.7L174.1 222.3L179.7 221.8L185.2 220.7L190.8 219.4L196.3 217.6L201.8 215.8L207.4 216.5L212.9 218.5L218.4 220.2L224.0 221.7L229.5 223.0L235.1 224.2L240.6 225.3" stroke="#fff" stroke-width="1.10" opacity="0.82"/>
<path d="M24.6 212.2L30.1 213.5L35.7 214.6L41.2 215.7L46.8 216.6L52.3 217.6L57.8 218.4L63.4 219.1L68.9 219.6L74.4 220.2L80.0 220.7L85.5 221.4L91.1 221.8L96.6 222.1L102.1 222.4L107.7 222.7L113.2 223.1L118.8 223.4L124.3 223.5L129.8 223.6L135.4 223.9L140.9 224.2L146.4 224.6L152.0 224.7L157.5 224.7L163.1 224.7L168.6 224.2L174.1 223.7L179.7 223.0L185.2 221.8L190.8 220.6L196.3 219.0L201.8 217.3L207.4 218.0L212.9 219.7L218.4 221.3L224.0 222.7L229.5 223.9L235.1 224.9L240.6 225.8" stroke="#000" stroke-width="0.98" opacity="0.84"/>
<path d="M24.6 213.3L30.1 214.5L35.7 215.6L41.2 216.7L46.8 217.8L52.3 218.7L57.8 219.3L63.4 219.9L68.9 220.7L74.4 221.3L80.0 221.9L85.5 222.4L91.1 222.8L96.6 223.1L102.1 223.6L107.7 223.9L113.2 224.1L118.8 224.3L124.3 224.5L129.8 224.8L135.4 225.2L140.9 225.4L146.4 225.6L152.0 225.7L157.5 225.9L163.1 225.9L168.6 225.4L174.1 224.7L179.7 224.0L185.2 222.9L190.8 221.8L196.3 220.1L201.8 218.3L207.4 218.9L212.9 220.7L218.4 222.5L224.0 223.9L229.5 224.8L235.1 225.7L240.6 226.8" stroke="#fff" stroke-width="1.16" opacity="0.89"/>
</g>
<path d="M24.6 160.9L28.5 160.1L33.6 159.9L36.6 160.1L39.6 161.4L42.6 163.7L45.1 166.5L47.2 170.0L48.9 174.0L50.7 177.5L52.8 180.1L55.8 182.3L59.8 184.6L64.6 187.0L68.6 188.6L73.7 189.7L78.7 190.0L83.7 189.8L88.7 189.9L92.9 189.2L92.9 189.2L91.9 190.3L89.8 191.5L83.7 191.5L78.7 190.7L73.7 190.3L68.6 189.2L62.8 187.0L57.8 185.3L52.8 183.8L48.7 182.5L45.1 180.0L42.6 176.9L40.6 173.4L38.1 170.9L35.6 168.9L32.6 167.9L28.5 167.2L24.6 167.4ZM104.5 161.2L110.8 161.2L118.8 160.5L125.9 159.5L134.0 159.0L141.0 158.8L145.8 159.0L151.8 159.0L158.9 159.2L165.9 159.5L170.9 160.5L176.1 162.0L181.1 162.8L188.1 163.2L194.1 163.5L198.2 164.0L200.9 164.9L205.0 165.7L205.0 165.7L202.0 166.4L197.9 167.9L194.1 170.4L191.1 173.8L188.1 176.5L182.1 178.1L173.9 178.6L166.9 178.4L161.9 177.0L155.9 175.8L149.8 174.5L145.8 172.9L143.0 171.4L138.0 170.4L131.9 168.9L125.9 167.4L120.8 166.4L118.8 164.9L113.8 163.9L108.8 162.9L104.5 161.2ZM224.0 165.7L228.2 164.0L233.2 162.2L240.6 161.5L240.6 168.7L234.2 167.7L228.2 166.7L224.0 165.7Z" fill="#828282"/>
<path d="M28.5 158.9L33.6 158.7L36.6 158.9L39.6 160.2L42.6 162.5L45.1 165.3L47.2 168.8L48.9 172.8L50.7 176.3L52.8 178.9L55.8 181.1L59.8 183.4L64.6 185.8L68.6 187.4L73.7 188.5L78.7 188.8L83.7 188.6L88.7 188.7L92.9 188.0" fill="none" stroke="#fff" stroke-width="0.80" opacity="0.80" stroke-linecap="round" stroke-linejoin="round"/>
<path d="M28.5 160.1L33.6 159.9L36.6 160.1L39.6 161.4L42.6 163.7L45.1 166.5L47.2 170.0L48.9 174.0L50.7 177.5L52.8 180.1L55.8 182.3L59.8 184.6L64.6 187.0L68.6 188.6L73.7 189.7L78.7 190.0L83.7 189.8L88.7 189.9L92.9 189.2" fill="none" stroke="#000" stroke-width="1.15" opacity="1.00" stroke-linecap="round" stroke-linejoin="round"/>
<path d="M33.6 161.2L36.6 161.4L39.6 162.7L42.6 165.0L45.1 167.8L47.2 171.3L48.9 175.3L50.7 178.8L52.8 181.4L55.8 183.6L59.8 185.9L64.6 188.3L68.6 189.9L73.7 191.0L78.7 191.3L83.7 191.1L88.7 191.2L92.9 190.5" fill="none" stroke="#fff" stroke-width="0.70" opacity="0.70" stroke-linecap="round" stroke-linejoin="round"/>
<path d="M24.6 166.5L28.5 166.3L32.6 167.0L35.6 168.0L38.1 170.0L40.6 172.5L42.6 176.0L45.1 179.1L48.7 181.6L52.8 182.9L57.8 184.4L62.8 186.1L68.6 188.3L73.7 189.4L78.7 189.8L83.7 190.6L89.8 190.6L91.9 189.4" fill="none" stroke="#222" stroke-width="0.55" opacity="0.75" stroke-linecap="round" stroke-linejoin="round"/>
<path d="M24.6 167.4L28.5 167.2L32.6 167.9L35.6 168.9L38.1 170.9L40.6 173.4L42.6 176.9L45.1 180.0L48.7 182.5L52.8 183.8L57.8 185.3L62.8 187.0L68.6 189.2L73.7 190.3L78.7 190.7L83.7 191.5L89.8 191.5L91.9 190.3" fill="none" stroke="#fff" stroke-width="1.00" opacity="0.95" stroke-linecap="round" stroke-linejoin="round"/>
<path d="M24.6 168.4L28.5 168.2L32.6 168.9L35.6 169.9L38.1 171.9L40.6 174.4L42.6 177.9L45.1 180.9L48.7 183.4L52.8 184.7L57.8 186.2L62.8 187.9L68.6 190.2L73.7 191.2L78.7 191.6L83.7 192.5L89.8 192.5L91.9 191.3" fill="none" stroke="#222" stroke-width="0.55" opacity="0.75" stroke-linecap="round" stroke-linejoin="round"/>
<path d="M104.5 160.0L110.8 160.0L118.8 159.3L125.9 158.3L134.0 157.8L141.0 157.6L145.8 157.8L151.8 157.8L158.9 158.0L165.9 158.3L170.9 159.3L176.1 160.8L181.1 161.6L188.1 162.0L194.1 162.3L198.2 162.8L200.9 163.7L205.0 164.5" fill="none" stroke="#fff" stroke-width="0.90" opacity="0.90" stroke-linecap="round" stroke-linejoin="round"/>
<path d="M104.5 161.2L110.8 161.2L118.8 160.5L125.9 159.5L134.0 159.0L141.0 158.8L145.8 159.0L151.8 159.0L158.9 159.2L165.9 159.5L170.9 160.5L176.1 162.0L181.1 162.8L188.1 163.2L194.1 163.5L198.2 164.0L200.9 164.9L205.0 165.7" fill="none" stroke="#000" stroke-width="1.20" opacity="1.00" stroke-linecap="round" stroke-linejoin="round"/>
<path d="M104.5 161.2L108.8 162.9L113.8 163.9L118.8 164.9L120.8 166.4L125.9 167.4L131.9 168.9L138.0 170.4L143.0 171.4L145.8 172.9L149.8 174.5L155.9 175.8L161.9 177.0L166.9 178.4L173.9 178.6L182.1 178.1L188.1 176.5L191.1 173.8L194.1 170.4L197.9 167.9L202.0 166.4L205.0 165.7" fill="none" stroke="#333" stroke-width="0.70" opacity="0.90" stroke-linecap="round" stroke-linejoin="round"/>
<path d="M104.5 162.3L108.8 164.0L113.8 165.0L118.8 166.0L120.8 167.5L125.9 168.5L131.9 170.0L138.0 171.5L143.0 172.5L145.8 174.0L149.8 175.6L155.9 176.9L161.9 178.1L166.9 179.5L173.9 179.7L182.1 179.2L188.1 177.6L191.1 174.9L194.1 171.5L197.9 169.0L202.0 167.5L205.0 166.8" fill="none" stroke="#ddd" stroke-width="0.90" opacity="0.80" stroke-linecap="round" stroke-linejoin="round"/>
<path d="M224.0 165.7L228.2 164.0L233.2 162.2L240.6 161.5" fill="none" stroke="#000" stroke-width="1.20" opacity="1.00" stroke-linecap="round" stroke-linejoin="round"/>
<path d="M224.0 164.6L228.2 162.9L233.2 161.1L240.6 160.4" fill="none" stroke="#fff" stroke-width="0.70" opacity="0.70" stroke-linecap="round" stroke-linejoin="round"/>
<path d="M224.0 166.2L228.2 167.2L234.2 168.2L240.6 169.2" fill="none" stroke="#ccc" stroke-width="0.70" opacity="0.70" stroke-linecap="round" stroke-linejoin="round"/>
<clipPath id="ssc"><path d="M104.5 163.2L108.8 164.9L113.8 165.9L118.8 166.9L120.8 168.4L125.9 169.4L131.9 170.9L138.0 172.4L143.0 173.4L145.8 174.9L149.8 176.5L155.9 177.8L161.9 179.0L166.9 180.4L173.9 180.6L182.1 180.1L188.1 178.5L191.1 175.8L194.1 172.4L197.9 169.9L200.6 185.3L200.6 208.7L104.5 208.7Z"/></clipPath>
<linearGradient id="agc" gradientUnits="userSpaceOnUse" x1="119.6" x2="175.8" y1="0" y2="0"><stop offset="0" stop-color="#000"/><stop offset="1" stop-color="#fff"/></linearGradient>
<mask id="amc" maskUnits="userSpaceOnUse" x="24.6" y="142.1" width="216.0" height="72.0"><rect x="24.6" y="142.1" width="216.0" height="72.0" fill="url(#agc)"/></mask>
<g clip-path="url(#ssc)"><g mask="url(#amc)" fill="none" opacity="0.35">
<path d="M111.0 182.4Q171.5 183.5 203.9 165.1" stroke="#303030" stroke-width=".8"/>
<path d="M111.0 184.3Q171.5 185.4 203.9 167.0" stroke="#e0e0e0" stroke-width=".8"/>
<path d="M111.0 186.2Q171.5 187.2 203.9 168.9" stroke="#303030" stroke-width=".8"/>
<path d="M111.0 188.0Q171.5 189.1 203.9 170.8" stroke="#e0e0e0" stroke-width=".8"/>
<path d="M111.0 189.9Q171.5 191.0 203.9 172.6" stroke="#303030" stroke-width=".8"/>
<path d="M111.0 191.8Q171.5 192.9 203.9 174.5" stroke="#e0e0e0" stroke-width=".8"/>
<path d="M111.0 193.7Q171.5 194.7 203.9 176.4" stroke="#303030" stroke-width=".8"/>
<path d="M111.0 195.5Q171.5 196.6 203.9 178.2" stroke="#e0e0e0" stroke-width=".8"/>
<path d="M111.0 197.4Q171.5 198.5 203.9 180.1" stroke="#303030" stroke-width=".8"/>
<path d="M111.0 199.3Q171.5 200.3 203.9 182.0" stroke="#e0e0e0" stroke-width=".8"/>
<path d="M111.0 201.1Q171.5 202.2 203.9 183.9" stroke="#303030" stroke-width=".8"/>
<path d="M111.0 203.0Q171.5 204.1 203.9 185.7" stroke="#e0e0e0" stroke-width=".8"/>
<path d="M111.0 204.9Q171.5 206.0 203.9 187.6" stroke="#303030" stroke-width=".8"/>
<path d="M111.0 206.8Q171.5 207.8 203.9 189.5" stroke="#e0e0e0" stroke-width=".8"/>
<path d="M111.0 208.6Q171.5 209.7 203.9 191.3" stroke="#303030" stroke-width=".8"/>
<path d="M111.0 210.5Q171.5 211.6 203.9 193.2" stroke="#e0e0e0" stroke-width=".8"/>
<path d="M111.0 212.4Q171.5 213.5 203.9 195.1" stroke="#303030" stroke-width=".8"/>
<path d="M111.0 214.2Q171.5 215.3 203.9 197.0" stroke="#e0e0e0" stroke-width=".8"/>
<path d="M111.0 216.1Q171.5 217.2 203.9 198.8" stroke="#303030" stroke-width=".8"/>
<path d="M111.0 218.0Q171.5 219.1 203.9 200.7" stroke="#e0e0e0" stroke-width=".8"/>
<path d="M111.0 219.9Q171.5 220.9 203.9 202.6" stroke="#303030" stroke-width=".8"/>
<path d="M111.0 221.7Q171.5 222.8 203.9 204.5" stroke="#e0e0e0" stroke-width=".8"/>
</g></g>
<path d="M92.6 190.0L102.4 193.9L115.3 199.7L130.4 207.3" fill="none" stroke="#222" stroke-width="0.60" opacity="0.70" stroke-linecap="round" stroke-linejoin="round"/>
<path d="M92.6 190.8L102.4 194.7L115.3 200.5L130.4 208.1" fill="none" stroke="#ddd" stroke-width="0.60" opacity="0.60" stroke-linecap="round" stroke-linejoin="round"/>
<rect x="24.6" y="208.8" width="216.0" height=".8" fill="#2c2c2c"/>
<rect x="24.6" y="209.8" width="216.0" height="1.5" fill="#b4b4b4"/>
<rect x="24.6" y="211.3" width="216.0" height="2.8" fill="#7e7e7e"/>
</g>
<rect x="254.2" y="142.1" width="3.8" height="72.0" fill="url(#gg)" stroke="#555" stroke-width=".3"/>
<text class="t" x="132.6" y="140.3" font-size="4.60" text-anchor="middle">RTM initial image without multiples</text>
<text class="t" x="132.6" y="225.9" font-size="4.60" text-anchor="middle">Horizontal distance (m)</text>
<text class="t" font-size="4.60" text-anchor="middle" transform="translate(8.3 179.1) rotate(-90)">Depth (m)</text>
<text class="t" x="24.6" y="220.7" font-size="4.50" text-anchor="middle">0</text>
<path d="M24.6 214.1v1.3" stroke="#333" stroke-width=".35"/>
<text class="t" x="55.5" y="220.7" font-size="4.50" text-anchor="middle">2000</text>
<path d="M55.5 214.1v1.3" stroke="#333" stroke-width=".35"/>
<text class="t" x="86.3" y="220.7" font-size="4.50" text-anchor="middle">4000</text>
<path d="M86.3 214.1v1.3" stroke="#333" stroke-width=".35"/>
<text class="t" x="117.2" y="220.7" font-size="4.50" text-anchor="middle">6000</text>
<path d="M117.2 214.1v1.3" stroke="#333" stroke-width=".35"/>
<text class="t" x="148.0" y="220.7" font-size="4.50" text-anchor="middle">8000</text>
<path d="M148.0 214.1v1.3" stroke="#333" stroke-width=".35"/>
<text class="t" x="178.9" y="220.7" font-size="4.50" text-anchor="middle">10000</text>
<path d="M178.9 214.1v1.3" stroke="#333" stroke-width=".35"/>
<text class="t" x="209.7" y="220.7" font-size="4.50" text-anchor="middle">12000</text>
<path d="M209.7 214.1v1.3" stroke="#333" stroke-width=".35"/>
<text class="t" x="240.6" y="220.7" font-size="4.50" text-anchor="middle">14000</text>
<path d="M240.6 214.1v1.3" stroke="#333" stroke-width=".35"/>
<text class="t" x="22.4" y="157.6" font-size="4.50" text-anchor="end">1000</text>
<path d="M24.6 155.9h-1.3" stroke="#333" stroke-width=".35"/>
<text class="t" x="22.4" y="173.0" font-size="4.50" text-anchor="end">2000</text>
<path d="M24.6 171.3h-1.3" stroke="#333" stroke-width=".35"/>
<text class="t" x="22.4" y="188.4" font-size="4.50" text-anchor="end">3000</text>
<path d="M24.6 186.8h-1.3" stroke="#333" stroke-width=".35"/>
<text class="t" x="22.4" y="203.8" font-size="4.50" text-anchor="end">4000</text>
<path d="M24.6 202.2h-1.3" stroke="#333" stroke-width=".35"/>
<text class="t" x="260.4" y="155.6" font-size="4.50">0.2</text>
<path d="M258.0 153.4h1.2" stroke="#333" stroke-width=".35"/>
<text class="t" x="260.4" y="167.9" font-size="4.50">0.1</text>
<path d="M258.0 165.7h1.2" stroke="#333" stroke-width=".35"/>
<text class="t" x="260.4" y="180.3" font-size="4.50">0.0</text>
<path d="M258.0 178.1h1.2" stroke="#333" stroke-width=".35"/>
<text class="t" x="260.4" y="192.7" font-size="4.50">−0.1</text>
<path d="M258.0 190.5h1.2" stroke="#333" stroke-width=".35"/>
<text class="t" x="260.4" y="205.0" font-size="4.50">−0.2</text>
<path d="M258.0 202.8h1.2" stroke="#333" stroke-width=".35"/>
<text class="c" x="138.4" y="247.2" font-size="12.6" text-anchor="middle">(<tspan font-weight="bold">c</tspan>)</text>
<mask id="md" maskUnits="userSpaceOnUse" x="298.9" y="142.1" width="216.0" height="72.0">
<rect x="298.9" y="142.1" width="216.0" height="72.0" fill="#2b2b2b"/>
<g filter="url(#bl)">
<path d="M298.9 186.7L514.9 186.7L514.9 214.1L298.9 214.1Z" fill="#333333"/>
<path d="M471.7 163.7L514.9 163.7L514.9 210.5L471.7 210.5Z" fill="#474747"/>
<path d="M376.7 178.1L428.5 182.4L471.7 170.9L480.3 185.3L476.0 208.3L385.3 208.3L363.7 196.1Z" fill="#666666"/>
<path d="M320.5 157.9L385.3 157.9L376.7 163.7L406.9 174.5L389.6 189.6L363.7 189.6L337.8 181.7L324.8 168.0Z" fill="#737373"/>
<path d="M320.5 156.5L376.7 156.5L372.3 170.9L342.1 175.9L327.0 168.0Z" fill="#e6e6e6"/>
<path d="M314.0 142.1L506.3 142.1L504.1 156.5L484.7 163.7L441.5 160.8L417.7 156.5L385.3 157.9L372.3 163.7L324.8 163.7L316.2 150.7Z" fill="#bfbfbf"/>
<path d="M324.8 143.5L506.3 143.5L504.1 152.9L417.7 154.3L363.7 156.5L329.1 156.5Z" fill="#d9d9d9"/>
</g>
<rect x="298.9" y="142.1" width="30.2" height="72.0" fill="url(#lfd)"/>
<path d="M298.9 142.1L324.8 142.1L303.2 163.7L298.9 163.7Z" fill="#000" opacity=".7" filter="url(#bl)"/>
<path d="M514.9 142.1L501.9 142.1L510.6 163.7L514.9 163.7Z" fill="#000" opacity=".6" filter="url(#bl)"/>
</mask>
<linearGradient id="lfd" gradientUnits="userSpaceOnUse" x1="298.9" x2="329.1" y1="0" y2="0"><stop offset="0" stop-color="#000" stop-opacity=".6"/><stop offset="1" stop-color="#000" stop-opacity="0"/></linearGradient>
<g clip-path="url(#cpd)">
<rect x="298.9" y="142.1" width="216.0" height="72.0" fill="#818181"/>
<g mask="url(#md)" fill="none">
<path d="M298.9 144.4L304.4 144.4L310.0 144.2L315.5 144.0L321.1 143.9L326.6 144.0L332.1 144.0L337.7 144.1L343.2 144.1L348.7 144.1L354.3 144.2L359.8 144.3L365.4 144.3L370.9 144.2L376.4 144.1L382.0 144.2L387.5 144.3L393.1 144.4L398.6 144.4L404.1 144.4L409.7 144.5L415.2 144.6L420.7 144.6L426.3 144.5L431.8 144.3L437.4 144.2L442.9 144.2L448.4 144.2L454.0 144.2L459.5 144.1L465.1 144.1L470.6 144.2L476.1 144.3L481.7 144.2L487.2 144.0L492.7 143.9L498.3 144.0L503.8 144.1L509.4 144.1L514.9 144.1" stroke="#000" stroke-width="1.33" opacity="0.93"/>
<path d="M298.9 145.6L304.4 145.8L310.0 145.8L315.5 145.8L321.1 145.7L326.6 145.7L332.1 145.7L337.7 145.7L343.2 145.6L348.7 145.5L354.3 145.6L359.8 145.7L365.4 145.7L370.9 145.6L376.4 145.5L382.0 145.4L387.5 145.4L393.1 145.3L398.6 145.2L404.1 145.2L409.7 145.2L415.2 145.4L420.7 145.5L426.3 145.6L431.8 145.5L437.4 145.5L442.9 145.5L448.4 145.6L454.0 145.6L459.5 145.5L465.1 145.5L470.6 145.6L476.1 145.8L481.7 145.9L487.2 145.8L492.7 145.7L498.3 145.7L503.8 145.7L509.4 145.6L514.9 145.4" stroke="#fff" stroke-width="1.20" opacity="0.78"/>
<path d="M298.9 146.8L304.4 146.9L310.0 147.0L315.5 146.9L321.1 146.7L326.6 146.7L332.1 146.7L337.7 146.6L343.2 146.6L348.7 146.5L354.3 146.5L359.8 146.7L365.4 146.9L370.9 146.9L376.4 146.9L382.0 146.9L387.5 146.9L393.1 147.0L398.6 147.0L404.1 146.9L409.7 146.9L415.2 147.0L420.7 147.2L426.3 147.2L431.8 147.2L437.4 147.1L442.9 147.0L448.4 147.0L454.0 146.9L459.5 146.8L465.1 146.6L470.6 146.6L476.1 146.7L481.7 146.8L487.2 146.8L492.7 146.7L498.3 146.7L503.8 146.7L509.4 146.8L514.9 146.7" stroke="#000" stroke-width="1.14" opacity="0.88"/>
<path d="M298.9 148.0L304.4 148.0L310.0 147.9L315.5 147.9L321.1 147.9L326.6 148.1L332.1 148.2L337.7 148.1L343.2 148.0L348.7 147.9L354.3 148.0L359.8 148.1L365.4 148.1L370.9 148.1L376.4 148.2L382.0 148.4L387.5 148.5L393.1 148.6L398.6 148.5L404.1 148.4L409.7 148.4L415.2 148.5L420.7 148.5L426.3 148.4L431.8 148.3L437.4 148.4L442.9 148.5L448.4 148.5L454.0 148.4L459.5 148.2L465.1 148.0L470.6 148.0L476.1 147.9L481.7 147.9L487.2 147.9L492.7 147.9L498.3 148.1L503.8 148.3L509.4 148.4L514.9 148.3" stroke="#fff" stroke-width="1.19" opacity="0.95"/>
<path d="M298.9 149.1L304.4 149.3L310.0 149.5L315.5 149.6L321.1 149.6L326.6 149.5L332.1 149.5L337.7 149.6L343.2 149.7L348.7 149.8L354.3 149.8L359.8 149.8L365.4 149.9L370.9 150.0L376.4 149.9L382.0 149.8L387.5 149.6L393.1 149.6L398.6 149.6L404.1 149.6L409.7 149.6L415.2 149.5L420.7 149.6L426.3 149.7L431.8 149.7L437.4 149.6L442.9 149.5L448.4 149.4L454.0 149.5L459.5 149.5L465.1 149.5L470.6 149.5L476.1 149.5L481.7 149.7L487.2 149.9L492.7 150.0L498.3 149.9L503.8 149.8L509.4 149.9L514.9 149.9" stroke="#000" stroke-width="1.16" opacity="0.84"/>
<path d="M298.9 150.4L304.4 150.6L310.0 150.7L315.5 150.8L321.1 150.9L326.6 151.0L332.1 151.1L337.7 151.1L343.2 151.0L348.7 151.0L354.3 151.1L359.8 151.2L365.4 151.3L370.9 151.3L376.4 151.2L382.0 151.3L387.5 151.3L393.1 151.2L398.6 151.1L404.1 150.9L409.7 150.9L415.2 150.9L420.7 151.0L426.3 151.1L431.8 151.0L437.4 151.1L442.9 151.1L448.4 151.2L454.0 151.1L459.5 150.9L465.1 150.8L470.6 150.8L476.1 150.9L481.7 151.0L487.2 151.1L492.7 151.2L498.3 151.4L503.8 151.5L509.4 151.5L514.9 151.4" stroke="#fff" stroke-width="1.14" opacity="0.95"/>
<path d="M298.9 151.9L304.4 151.9L310.0 151.8L315.5 151.7L321.1 151.8L326.6 152.0L332.1 152.1L337.7 152.1L343.2 152.2L348.7 152.3L354.3 152.4L359.8 152.4L365.4 152.4L370.9 152.3L376.4 152.4L382.0 152.6L387.5 152.7L393.1 152.8L398.6 152.8L404.1 152.9L409.7 153.0L415.2 153.0L420.7 152.9L426.3 152.7L431.8 152.6L437.4 152.6L442.9 152.7L448.4 152.6L454.0 152.5L459.5 152.4L465.1 152.4L470.6 152.3L476.1 152.1L481.7 152.0L487.2 152.0L492.7 152.1L498.3 152.3L503.8 152.5L509.4 152.6L514.9 152.7" stroke="#000" stroke-width="1.07" opacity="0.90"/>
<path d="M298.9 153.3L304.4 153.4L310.0 153.5L315.5 153.6L321.1 153.5L326.6 153.4L332.1 153.4L337.7 153.5L343.2 153.6L348.7 153.7L354.3 153.7L359.8 153.7L365.4 153.8L370.9 153.9L376.4 153.9L382.0 153.8L387.5 153.7L393.1 153.9L398.6 154.0L404.1 154.1L409.7 154.2L415.2 154.2L420.7 154.4L426.3 154.5L431.8 154.5L437.4 154.4L442.9 154.2L448.4 154.1L454.0 154.1L459.5 154.0L465.1 153.9L470.6 153.7L476.1 153.6L481.7 153.7L487.2 153.8L492.7 153.8L498.3 153.8L503.8 153.7L509.4 153.9L514.9 154.0" stroke="#fff" stroke-width="1.32" opacity="0.76"/>
<path d="M298.9 154.6L304.4 154.7L310.0 154.8L315.5 154.8L321.1 154.8L326.6 154.8L332.1 154.9L337.7 155.1L343.2 155.2L348.7 155.2L354.3 155.2L359.8 155.2L365.4 155.3L370.9 155.2L376.4 155.1L382.0 155.1L387.5 155.2L393.1 155.3L398.6 155.5L404.1 155.6L409.7 155.6L415.2 155.7L420.7 155.8L426.3 155.8L431.8 155.8L437.4 155.6L442.9 155.6L448.4 155.6L454.0 155.7L459.5 155.6L465.1 155.5L470.6 155.2L476.1 155.0L481.7 155.1L487.2 155.2L492.7 155.2L498.3 155.2L503.8 155.3L509.4 155.5L514.9 155.7" stroke="#000" stroke-width="1.32" opacity="0.81"/>
<path d="M298.9 155.8L304.4 156.1L310.0 156.3L315.5 156.3L321.1 156.3L326.6 156.3L332.1 156.4L337.7 156.4L343.2 156.4L348.7 156.4L354.3 156.5L359.8 156.6L365.4 156.8L370.9 156.8L376.4 156.7L382.0 156.7L387.5 156.8L393.1 156.8L398.6 156.8L404.1 156.8L409.7 156.9L415.2 157.1L420.7 157.3L426.3 157.4L431.8 157.4L437.4 157.3L442.9 157.2L448.4 157.2L454.0 157.1L459.5 156.9L465.1 156.6L470.6 156.5L476.1 156.4L481.7 156.5L487.2 156.7L492.7 156.7L498.3 156.8L503.8 156.9L509.4 157.0L514.9 157.1" stroke="#fff" stroke-width="1.23" opacity="0.83"/>
<path d="M298.9 157.0L304.4 157.1L310.0 157.3L315.5 157.5L321.1 157.6L326.6 157.7L332.1 157.6L337.7 157.5L343.2 157.6L348.7 157.8L354.3 157.9L359.8 158.0L365.4 158.0L370.9 158.2L376.4 158.4L382.0 158.5L387.5 158.4L393.1 158.4L398.6 158.4L404.1 158.5L409.7 158.6L415.2 158.7L420.7 158.7L426.3 158.8L431.8 158.9L437.4 159.0L442.9 158.9L448.4 158.6L454.0 158.4L459.5 158.2L465.1 158.0L470.6 157.8L476.1 157.5L481.7 157.5L487.2 157.8L492.7 158.2L498.3 158.4L503.8 158.4L509.4 158.4L514.9 158.5" stroke="#000" stroke-width="1.15" opacity="0.68"/>
<path d="M298.9 157.9L304.4 158.2L310.0 158.5L315.5 158.7L321.1 158.9L326.6 158.9L332.1 159.0L337.7 159.1L343.2 159.2L348.7 159.1L354.3 159.1L359.8 159.1L365.4 159.2L370.9 159.4L376.4 159.5L382.0 159.5L387.5 159.6L393.1 159.7L398.6 159.8L404.1 159.8L409.7 159.7L415.2 159.7L420.7 159.8L426.3 160.0L431.8 160.1L437.4 160.1L442.9 160.0L448.4 160.0L454.0 159.9L459.5 159.8L465.1 159.4L470.6 159.0L476.1 158.6L481.7 158.8L487.2 159.2L492.7 159.4L498.3 159.6L503.8 159.7L509.4 159.9L514.9 160.1" stroke="#fff" stroke-width="1.07" opacity="0.98"/>
<path d="M298.9 159.2L304.4 159.4L310.0 159.5L315.5 159.7L321.1 159.9L326.6 160.2L332.1 160.4L337.7 160.4L343.2 160.4L348.7 160.3L354.3 160.4L359.8 160.5L365.4 160.5L370.9 160.4L376.4 160.5L382.0 160.7L387.5 160.9L393.1 161.0L398.6 161.0L404.1 161.0L409.7 161.0L415.2 161.1L420.7 161.2L426.3 161.1L431.8 161.2L437.4 161.3L442.9 161.4L448.4 161.4L454.0 161.2L459.5 160.9L465.1 160.7L470.6 160.4L476.1 160.0L481.7 160.0L487.2 160.2L492.7 160.5L498.3 160.8L503.8 161.1L509.4 161.3L514.9 161.4" stroke="#000" stroke-width="1.04" opacity="0.89"/>
<path d="M298.9 160.2L304.4 160.4L310.0 160.6L315.5 160.7L321.1 161.0L326.6 161.2L332.1 161.3L337.7 161.3L343.2 161.3L348.7 161.4L354.3 161.5L359.8 161.7L365.4 161.7L370.9 161.8L376.4 162.0L382.0 162.2L387.5 162.4L393.1 162.4L398.6 162.3L404.1 162.3L409.7 162.4L415.2 162.6L420.7 162.6L426.3 162.6L431.8 162.6L437.4 162.8L442.9 162.8L448.4 162.6L454.0 162.3L459.5 161.9L465.1 161.7L470.6 161.3L476.1 161.0L481.7 161.0L487.2 161.3L492.7 161.7L498.3 162.1L503.8 162.4L509.4 162.5L514.9 162.5" stroke="#fff" stroke-width="1.09" opacity="0.89"/>
<path d="M298.9 161.1L304.4 161.3L310.0 161.6L315.5 162.0L321.1 162.2L326.6 162.3L332.1 162.4L337.7 162.6L343.2 162.7L348.7 162.7L354.3 162.7L359.8 162.7L365.4 162.9L370.9 163.1L376.4 163.3L382.0 163.4L387.5 163.5L393.1 163.6L398.6 163.8L404.1 163.8L409.7 163.8L415.2 163.7L420.7 163.8L426.3 163.9L431.8 164.0L437.4 164.1L442.9 163.9L448.4 163.7L454.0 163.6L459.5 163.4L465.1 163.0L470.6 162.5L476.1 162.0L481.7 162.1L487.2 162.6L492.7 163.0L498.3 163.3L503.8 163.5L509.4 163.7L514.9 164.0" stroke="#000" stroke-width="1.13" opacity="0.79"/>
<path d="M298.9 162.0L304.4 162.3L310.0 162.6L315.5 162.8L321.1 163.2L326.6 163.5L332.1 163.8L337.7 163.8L343.2 163.9L348.7 164.1L354.3 164.3L359.8 164.5L365.4 164.6L370.9 164.7L376.4 164.8L382.0 165.0L387.5 165.2L393.1 165.1L398.6 165.0L404.1 164.9L409.7 164.9L415.2 165.0L420.7 165.0L426.3 164.9L431.8 164.9L437.4 165.0L442.9 165.0L448.4 164.8L454.0 164.5L459.5 164.1L465.1 163.9L470.6 163.6L476.1 163.2L481.7 163.4L487.2 163.8L492.7 164.4L498.3 164.9L503.8 165.2L509.4 165.4L514.9 165.5" stroke="#fff" stroke-width="1.19" opacity="0.98"/>
<path d="M298.9 163.4L304.4 163.5L310.0 163.7L315.5 164.1L321.1 164.4L326.6 164.6L332.1 164.8L337.7 164.9L343.2 165.2L348.7 165.3L354.3 165.4L359.8 165.3L365.4 165.4L370.9 165.5L376.4 165.8L382.0 166.0L387.5 166.1L393.1 166.2L398.6 166.4L404.1 166.5L409.7 166.6L415.2 166.5L420.7 166.4L426.3 166.4L431.8 166.5L437.4 166.6L442.9 166.4L448.4 166.2L454.0 166.1L459.5 165.9L465.1 165.6L470.6 165.0L476.1 164.4L481.7 164.4L487.2 164.9L492.7 165.4L498.3 165.7L503.8 166.0L509.4 166.3L514.9 166.7" stroke="#000" stroke-width="1.15" opacity="0.90"/>
<path d="M298.9 164.6L304.4 164.8L310.0 165.1L315.5 165.4L321.1 165.7L326.6 165.8L332.1 165.8L337.7 165.9L343.2 166.1L348.7 166.4L354.3 166.6L359.8 166.7L365.4 166.8L370.9 167.0L376.4 167.2L382.0 167.3L387.5 167.3L393.1 167.3L398.6 167.4L404.1 167.6L409.7 167.7L415.2 167.8L420.7 167.8L426.3 167.9L431.8 168.0L437.4 168.0L442.9 167.8L448.4 167.5L454.0 167.2L459.5 166.9L465.1 166.6L470.6 166.2L476.1 165.6L481.7 165.8L487.2 166.3L492.7 166.8L498.3 167.2L503.8 167.3L509.4 167.5L514.9 167.7" stroke="#fff" stroke-width="1.00" opacity="0.99"/>
<path d="M298.9 165.5L304.4 165.9L310.0 166.2L315.5 166.4L321.1 166.6L326.6 167.0L332.1 167.4L337.7 167.7L343.2 167.9L348.7 168.1L354.3 168.2L359.8 168.4L365.4 168.5L370.9 168.4L376.4 168.3L382.0 168.4L387.5 168.5L393.1 168.7L398.6 168.7L404.1 168.7L409.7 168.7L415.2 168.9L420.7 168.9L426.3 168.8L431.8 168.7L437.4 168.6L442.9 168.6L448.4 168.6L454.0 168.5L459.5 168.2L465.1 167.9L470.6 167.6L476.1 167.2L481.7 167.4L487.2 167.8L492.7 168.1L498.3 168.5L503.8 168.9L509.4 169.3L514.9 169.6" stroke="#000" stroke-width="1.17" opacity="0.87"/>
<path d="M298.9 166.9L304.4 167.2L310.0 167.4L315.5 167.6L321.1 167.9L326.6 168.3L332.1 168.7L337.7 168.9L343.2 169.0L348.7 169.1L354.3 169.3L359.8 169.4L365.4 169.4L370.9 169.3L376.4 169.3L382.0 169.5L387.5 169.7L393.1 169.9L398.6 169.9L404.1 170.0L409.7 170.1L415.2 170.3L420.7 170.3L426.3 170.3L431.8 170.2L437.4 170.2L442.9 170.2L448.4 170.2L454.0 170.0L459.5 169.7L465.1 169.4L470.6 168.9L476.1 168.4L481.7 168.5L487.2 168.8L492.7 169.2L498.3 169.7L503.8 170.1L509.4 170.4L514.9 170.7" stroke="#fff" stroke-width="1.14" opacity="0.72"/>
<path d="M298.9 167.9L304.4 168.1L310.0 168.4L315.5 168.8L321.1 169.2L326.6 169.6L332.1 169.9L337.7 170.1L343.2 170.2L348.7 170.4L354.3 170.6L359.8 170.6L365.4 170.5L370.9 170.5L376.4 170.7L382.0 170.9L387.5 171.1L393.1 171.2L398.6 171.2L404.1 171.3L409.7 171.4L415.2 171.5L420.7 171.5L426.3 171.4L431.8 171.5L437.4 171.6L442.9 171.6L448.4 171.5L454.0 171.3L459.5 171.0L465.1 170.7L470.6 170.1L476.1 169.5L481.7 169.5L487.2 170.0L492.7 170.5L498.3 171.1L503.8 171.5L509.4 171.7L514.9 172.0" stroke="#000" stroke-width="1.14" opacity="0.95"/>
<path d="M298.9 168.9L304.4 169.3L310.0 169.7L315.5 170.1L321.1 170.6L326.6 170.9L332.1 171.1L337.7 171.2L343.2 171.3L348.7 171.5L354.3 171.7L359.8 171.9L365.4 171.9L370.9 172.0L376.4 172.2L382.0 172.4L387.5 172.5L393.1 172.4L398.6 172.3L404.1 172.4L409.7 172.5L415.2 172.7L420.7 172.7L426.3 172.8L431.8 172.9L437.4 173.1L442.9 173.0L448.4 172.8L454.0 172.5L459.5 172.0L465.1 171.7L470.6 171.2L476.1 170.6L481.7 170.8L487.2 171.4L492.7 172.1L498.3 172.6L503.8 172.9L509.4 173.1L514.9 173.3" stroke="#fff" stroke-width="1.07" opacity="0.82"/>
<path d="M298.9 170.0L304.4 170.4L310.0 170.7L315.5 171.1L321.1 171.5L326.6 171.9L332.1 172.1L337.7 172.3L343.2 172.7L348.7 173.0L354.3 173.3L359.8 173.4L365.4 173.4L370.9 173.4L376.4 173.5L382.0 173.6L387.5 173.6L393.1 173.6L398.6 173.6L404.1 173.8L409.7 174.0L415.2 174.1L420.7 174.1L426.3 174.1L431.8 174.1L437.4 174.2L442.9 174.0L448.4 173.7L454.0 173.5L459.5 173.2L465.1 173.0L470.6 172.6L476.1 171.9L481.7 172.1L487.2 172.7L492.7 173.3L498.3 173.8L503.8 174.1L509.4 174.3L514.9 174.7" stroke="#000" stroke-width="0.93" opacity="0.81"/>
<path d="M298.9 170.9L304.4 171.2L310.0 171.6L315.5 172.0L321.1 172.3L326.6 172.6L332.1 173.0L337.7 173.4L343.2 173.8L348.7 174.0L354.3 174.1L359.8 174.2L365.4 174.4L370.9 174.6L376.4 174.8L382.0 174.9L387.5 175.1L393.1 175.3L398.6 175.6L404.1 175.7L409.7 175.7L415.2 175.6L420.7 175.7L426.3 175.7L431.8 175.7L437.4 175.6L442.9 175.3L448.4 175.1L454.0 175.0L459.5 174.7L465.1 174.2L470.6 173.4L476.1 172.6L481.7 172.8L487.2 173.5L492.7 174.1L498.3 174.6L503.8 175.0L509.4 175.6L514.9 176.2" stroke="#fff" stroke-width="1.16" opacity="0.97"/>
<path d="M298.9 171.8L304.4 172.2L310.0 172.7L315.5 173.2L321.1 173.6L326.6 174.0L332.1 174.4L337.7 174.8L343.2 175.3L348.7 175.6L354.3 175.7L359.8 175.8L365.4 176.0L370.9 176.1L376.4 176.3L382.0 176.3L387.5 176.4L393.1 176.5L398.6 176.7L404.1 176.8L409.7 176.8L415.2 176.7L420.7 176.7L426.3 176.7L431.8 176.7L437.4 176.6L442.9 176.3L448.4 176.1L454.0 176.0L459.5 175.8L465.1 175.4L470.6 174.7L476.1 173.9L481.7 174.2L487.2 175.0L492.7 175.7L498.3 176.2L503.8 176.6L509.4 177.1L514.9 177.7" stroke="#000" stroke-width="1.01" opacity="0.95"/>
<path d="M298.9 172.8L304.4 173.3L310.0 173.8L315.5 174.2L321.1 174.7L326.6 175.2L332.1 175.7L337.7 176.0L343.2 176.2L348.7 176.4L354.3 176.7L359.8 177.0L365.4 177.2L370.9 177.4L376.4 177.5L382.0 177.8L387.5 178.0L393.1 178.2L398.6 178.1L404.1 178.0L409.7 178.0L415.2 178.1L420.7 178.1L426.3 178.1L431.8 178.0L437.4 178.0L442.9 177.9L448.4 177.8L454.0 177.5L459.5 176.9L465.1 176.3L470.6 175.6L476.1 174.9L481.7 175.3L487.2 176.0L492.7 176.7L498.3 177.5L503.8 178.1L509.4 178.7L514.9 179.1" stroke="#fff" stroke-width="1.05" opacity="0.91"/>
<path d="M298.9 174.5L304.4 175.0L310.0 175.4L315.5 175.7L321.1 176.1L326.6 176.5L332.1 176.9L337.7 177.2L343.2 177.4L348.7 177.6L354.3 177.9L359.8 178.2L365.4 178.4L370.9 178.4L376.4 178.4L382.0 178.5L387.5 178.7L393.1 178.9L398.6 179.0L404.1 179.1L409.7 179.3L415.2 179.5L420.7 179.7L426.3 179.7L431.8 179.6L437.4 179.6L442.9 179.4L448.4 179.2L454.0 178.9L459.5 178.4L465.1 178.0L470.6 177.3L476.1 176.6L481.7 176.9L487.2 177.5L492.7 178.1L498.3 178.6L503.8 179.1L509.4 179.5L514.9 179.9" stroke="#000" stroke-width="0.96" opacity="0.66"/>
<path d="M298.9 175.2L304.4 175.7L310.0 176.1L315.5 176.6L321.1 177.2L326.6 177.7L332.1 178.1L337.7 178.5L343.2 178.9L348.7 179.3L354.3 179.6L359.8 179.8L365.4 179.8L370.9 179.8L376.4 180.0L382.0 180.2L387.5 180.3L393.1 180.3L398.6 180.4L404.1 180.6L409.7 180.7L415.2 180.7L420.7 180.7L426.3 180.6L431.8 180.6L437.4 180.6L442.9 180.4L448.4 180.1L454.0 179.9L459.5 179.6L465.1 179.2L470.6 178.5L476.1 177.7L481.7 177.9L487.2 178.7L492.7 179.5L498.3 180.2L503.8 180.7L509.4 181.1L514.9 181.6" stroke="#fff" stroke-width="1.08" opacity="0.73"/>
<path d="M298.9 176.1L304.4 176.7L310.0 177.2L315.5 177.9L321.1 178.5L326.6 178.9L332.1 179.3L337.7 179.5L343.2 179.9L348.7 180.3L354.3 180.6L359.8 180.9L365.4 181.1L370.9 181.3L376.4 181.6L382.0 181.8L387.5 181.8L393.1 181.7L398.6 181.7L404.1 181.8L409.7 181.9L415.2 182.0L420.7 182.0L426.3 182.0L431.8 182.1L437.4 182.2L442.9 181.9L448.4 181.5L454.0 181.1L459.5 180.6L465.1 180.1L470.6 179.4L476.1 178.6L481.7 178.9L487.2 179.9L492.7 180.9L498.3 181.6L503.8 182.1L509.4 182.5L514.9 182.9" stroke="#000" stroke-width="1.10" opacity="0.80"/>
<path d="M298.9 177.3L304.4 177.9L310.0 178.5L315.5 179.0L321.1 179.4L326.6 179.9L332.1 180.4L337.7 180.9L343.2 181.3L348.7 181.6L354.3 181.9L359.8 182.3L365.4 182.6L370.9 182.7L376.4 182.6L382.0 182.7L387.5 182.8L393.1 183.1L398.6 183.2L404.1 183.2L409.7 183.2L415.2 183.3L420.7 183.5L426.3 183.5L431.8 183.3L437.4 183.2L442.9 182.9L448.4 182.7L454.0 182.5L459.5 182.0L465.1 181.5L470.6 180.7L476.1 180.0L481.7 180.4L487.2 181.3L492.7 182.0L498.3 182.6L503.8 183.2L509.4 183.9L514.9 184.4" stroke="#fff" stroke-width="1.01" opacity="0.90"/>
<path d="M298.9 178.5L304.4 178.9L310.0 179.4L315.5 180.0L321.1 180.5L326.6 180.9L332.1 181.3L337.7 181.8L343.2 182.3L348.7 182.7L354.3 183.0L359.8 183.2L365.4 183.4L370.9 183.6L376.4 183.9L382.0 184.1L387.5 184.2L393.1 184.4L398.6 184.6L404.1 184.9L409.7 185.0L415.2 185.0L420.7 185.0L426.3 184.9L431.8 184.9L437.4 184.9L442.9 184.5L448.4 184.1L454.0 183.8L459.5 183.4L465.1 182.9L470.6 181.9L476.1 180.9L481.7 181.2L487.2 182.1L492.7 183.0L498.3 183.7L503.8 184.2L509.4 184.8L514.9 185.5" stroke="#000" stroke-width="1.11" opacity="0.83"/>
<path d="M298.9 179.4L304.4 180.0L310.0 180.6L315.5 181.1L321.1 181.6L326.6 182.1L332.1 182.7L337.7 183.2L343.2 183.6L348.7 183.9L354.3 184.1L359.8 184.4L365.4 184.7L370.9 184.9L376.4 185.1L382.0 185.3L387.5 185.6L393.1 185.9L398.6 186.1L404.1 186.2L409.7 186.2L415.2 186.2L420.7 186.3L426.3 186.3L431.8 186.2L437.4 186.1L442.9 185.8L448.4 185.6L454.0 185.4L459.5 184.7L465.1 184.0L470.6 183.0L476.1 182.0L481.7 182.4L487.2 183.3L492.7 184.1L498.3 184.9L503.8 185.6L509.4 186.4L514.9 187.1" stroke="#fff" stroke-width="0.93" opacity="0.67"/>
<path d="M298.9 180.5L304.4 181.1L310.0 181.7L315.5 182.4L321.1 182.9L326.6 183.4L332.1 183.9L337.7 184.4L343.2 184.9L348.7 185.1L354.3 185.3L359.8 185.5L365.4 185.8L370.9 186.1L376.4 186.4L382.0 186.6L387.5 186.9L393.1 187.2L398.6 187.4L404.1 187.5L409.7 187.5L415.2 187.4L420.7 187.5L426.3 187.6L431.8 187.6L437.4 187.6L442.9 187.2L448.4 187.0L454.0 186.7L459.5 186.1L465.1 185.3L470.6 184.2L476.1 183.1L481.7 183.5L487.2 184.5L492.7 185.5L498.3 186.2L503.8 187.0L509.4 187.7L514.9 188.4" stroke="#000" stroke-width="1.07" opacity="0.66"/>
<path d="M298.9 181.7L304.4 182.2L310.0 182.8L315.5 183.4L321.1 184.1L326.6 184.8L332.1 185.3L337.7 185.6L343.2 185.9L348.7 186.3L354.3 186.6L359.8 186.9L365.4 187.1L370.9 187.3L376.4 187.6L382.0 188.0L387.5 188.4L393.1 188.5L398.6 188.6L404.1 188.7L409.7 188.9L415.2 188.9L420.7 188.9L426.3 188.8L431.8 188.8L437.4 188.9L442.9 188.7L448.4 188.4L454.0 187.9L459.5 187.2L465.1 186.6L470.6 185.5L476.1 184.4L481.7 184.6L487.2 185.6L492.7 186.7L498.3 187.7L503.8 188.4L509.4 189.0L514.9 189.6" stroke="#fff" stroke-width="1.07" opacity="0.83"/>
<path d="M298.9 182.9L304.4 183.7L310.0 184.5L315.5 185.2L321.1 185.7L326.6 186.1L332.1 186.5L337.7 186.9L343.2 187.3L348.7 187.6L354.3 187.8L359.8 188.2L365.4 188.5L370.9 188.8L376.4 189.0L382.0 189.0L387.5 189.2L393.1 189.4L398.6 189.5L404.1 189.6L409.7 189.7L415.2 189.9L420.7 190.2L426.3 190.4L431.8 190.5L437.4 190.4L442.9 190.0L448.4 189.7L454.0 189.4L459.5 188.7L465.1 187.9L470.6 186.9L476.1 185.9L481.7 186.4L487.2 187.5L492.7 188.4L498.3 189.1L503.8 189.7L509.4 190.3L514.9 190.9" stroke="#000" stroke-width="1.10" opacity="0.84"/>
<path d="M298.9 184.1L304.4 184.8L310.0 185.3L315.5 185.8L321.1 186.3L326.6 186.9L332.1 187.5L337.7 188.0L343.2 188.4L348.7 188.8L354.3 189.2L359.8 189.7L365.4 189.9L370.9 190.0L376.4 190.1L382.0 190.4L387.5 190.7L393.1 191.0L398.6 191.1L404.1 191.3L409.7 191.5L415.2 191.7L420.7 191.9L426.3 191.8L431.8 191.6L437.4 191.5L442.9 191.2L448.4 190.9L454.0 190.5L459.5 189.7L465.1 189.0L470.6 188.1L476.1 187.0L481.7 187.4L487.2 188.3L492.7 189.2L498.3 190.1L503.8 190.9L509.4 191.6L514.9 192.2" stroke="#fff" stroke-width="1.00" opacity="0.98"/>
<path d="M298.9 184.8L304.4 185.6L310.0 186.4L315.5 187.2L321.1 187.7L326.6 188.3L332.1 188.8L337.7 189.4L343.2 190.0L348.7 190.5L354.3 190.8L359.8 191.1L365.4 191.5L370.9 191.7L376.4 191.8L382.0 191.9L387.5 191.9L393.1 192.1L398.6 192.3L404.1 192.4L409.7 192.5L415.2 192.6L420.7 192.7L426.3 192.8L431.8 192.8L437.4 192.7L442.9 192.2L448.4 191.9L454.0 191.6L459.5 191.0L465.1 190.4L470.6 189.3L476.1 188.2L481.7 188.8L487.2 190.0L492.7 191.0L498.3 191.8L503.8 192.5L509.4 193.2L514.9 194.0" stroke="#000" stroke-width="0.98" opacity="0.66"/>
<path d="M298.9 186.1L304.4 186.8L310.0 187.6L315.5 188.5L321.1 189.2L326.6 189.8L332.1 190.3L337.7 190.7L343.2 191.2L348.7 191.5L354.3 191.7L359.8 191.9L365.4 192.1L370.9 192.4L376.4 192.8L382.0 193.1L387.5 193.3L393.1 193.4L398.6 193.6L404.1 193.8L409.7 193.9L415.2 193.9L420.7 194.0L426.3 194.1L431.8 194.3L437.4 194.4L442.9 194.1L448.4 193.8L454.0 193.4L459.5 192.7L465.1 191.9L470.6 190.6L476.1 189.3L481.7 189.7L487.2 190.9L492.7 192.2L498.3 193.1L503.8 193.8L509.4 194.4L514.9 195.1" stroke="#fff" stroke-width="0.94" opacity="0.74"/>
<path d="M298.9 187.3L304.4 188.1L310.0 188.8L315.5 189.4L321.1 190.0L326.6 190.7L332.1 191.4L337.7 192.0L343.2 192.4L348.7 192.7L354.3 192.9L359.8 193.3L365.4 193.5L370.9 193.7L376.4 193.9L382.0 194.1L387.5 194.5L393.1 194.9L398.6 195.1L404.1 195.2L409.7 195.3L415.2 195.5L420.7 195.6L426.3 195.7L431.8 195.6L437.4 195.6L442.9 195.3L448.4 195.1L454.0 194.8L459.5 194.0L465.1 193.1L470.6 191.9L476.1 190.6L481.7 191.0L487.2 192.1L492.7 193.1L498.3 194.0L503.8 194.9L509.4 195.8L514.9 196.5" stroke="#000" stroke-width="1.04" opacity="0.84"/>
<path d="M298.9 188.6L304.4 189.3L310.0 190.0L315.5 190.7L321.1 191.4L326.6 192.0L332.1 192.5L337.7 192.9L343.2 193.4L348.7 194.0L354.3 194.4L359.8 194.7L365.4 194.9L370.9 195.1L376.4 195.3L382.0 195.6L387.5 195.8L393.1 195.9L398.6 196.1L404.1 196.4L409.7 196.7L415.2 196.9L420.7 197.0L426.3 197.0L431.8 197.0L437.4 197.1L442.9 196.7L448.4 196.2L454.0 195.7L459.5 195.0L465.1 194.4L470.6 193.2L476.1 191.9L481.7 192.3L487.2 193.4L492.7 194.6L498.3 195.6L503.8 196.2L509.4 196.9L514.9 197.6" stroke="#fff" stroke-width="1.12" opacity="0.72"/>
<path d="M298.9 189.5L304.4 190.4L310.0 191.1L315.5 191.7L321.1 192.3L326.6 193.0L332.1 193.6L337.7 194.1L343.2 194.6L348.7 195.0L354.3 195.5L359.8 196.0L365.4 196.3L370.9 196.5L376.4 196.6L382.0 196.9L387.5 197.2L393.1 197.5L398.6 197.7L404.1 197.8L409.7 198.0L415.2 198.3L420.7 198.6L426.3 198.6L431.8 198.4L437.4 198.3L442.9 198.0L448.4 197.6L454.0 197.1L459.5 196.2L465.1 195.4L470.6 194.2L476.1 193.0L481.7 193.5L487.2 194.6L492.7 195.7L498.3 196.7L503.8 197.5L509.4 198.3L514.9 199.0" stroke="#000" stroke-width="1.17" opacity="0.68"/>
<path d="M298.9 190.4L304.4 191.2L310.0 192.0L315.5 192.7L321.1 193.4L326.6 194.3L332.1 195.0L337.7 195.5L343.2 196.0L348.7 196.3L354.3 196.6L359.8 197.1L365.4 197.4L370.9 197.6L376.4 197.9L382.0 198.3L387.5 198.8L393.1 199.1L398.6 199.3L404.1 199.3L409.7 199.4L415.2 199.6L420.7 199.7L426.3 199.7L431.8 199.6L437.4 199.6L442.9 199.4L448.4 199.1L454.0 198.6L459.5 197.6L465.1 196.7L470.6 195.3L476.1 194.0L481.7 194.4L487.2 195.6L492.7 196.8L498.3 198.0L503.8 199.0L509.4 199.9L514.9 200.7" stroke="#fff" stroke-width="0.98" opacity="0.67"/>
<path d="M298.9 191.3L304.4 192.2L310.0 193.1L315.5 193.9L321.1 194.6L326.6 195.5L332.1 196.1L337.7 196.6L343.2 197.0L348.7 197.5L354.3 198.1L359.8 198.7L365.4 199.0L370.9 199.3L376.4 199.6L382.0 200.0L387.5 200.3L393.1 200.5L398.6 200.4L404.1 200.5L409.7 200.6L415.2 200.9L420.7 201.1L426.3 201.0L431.8 201.0L437.4 201.0L442.9 200.6L448.4 200.1L454.0 199.5L459.5 198.5L465.1 197.6L470.6 196.4L476.1 195.1L481.7 195.6L487.2 197.0L492.7 198.4L498.3 199.6L503.8 200.5L509.4 201.3L514.9 202.0" stroke="#000" stroke-width="0.98" opacity="0.96"/>
<path d="M298.9 192.4L304.4 193.2L310.0 194.1L315.5 195.0L321.1 195.8L326.6 196.5L332.1 197.3L337.7 198.0L343.2 198.8L348.7 199.3L354.3 199.7L359.8 200.1L365.4 200.4L370.9 200.7L376.4 200.9L382.0 201.1L387.5 201.3L393.1 201.5L398.6 201.8L404.1 202.0L409.7 202.1L415.2 202.1L420.7 202.1L426.3 202.2L431.8 202.1L437.4 202.0L442.9 201.5L448.4 201.1L454.0 200.8L459.5 200.0L465.1 199.2L470.6 197.9L476.1 196.4L481.7 197.0L487.2 198.5L492.7 199.8L498.3 200.9L503.8 201.7L509.4 202.7L514.9 203.7" stroke="#fff" stroke-width="1.02" opacity="0.95"/>
<path d="M298.9 193.3L304.4 194.2L310.0 195.2L315.5 196.3L321.1 197.2L326.6 198.0L332.1 198.6L337.7 199.2L343.2 199.8L348.7 200.4L354.3 200.8L359.8 201.2L365.4 201.5L370.9 202.0L376.4 202.4L382.0 202.7L387.5 202.9L393.1 203.0L398.6 203.1L404.1 203.2L409.7 203.3L415.2 203.3L420.7 203.4L426.3 203.4L431.8 203.6L437.4 203.6L442.9 203.2L448.4 202.6L454.0 202.1L459.5 201.2L465.1 200.3L470.6 198.9L476.1 197.4L481.7 198.0L487.2 199.7L492.7 201.2L498.3 202.4L503.8 203.3L509.4 204.1L514.9 205.0" stroke="#000" stroke-width="0.95" opacity="0.83"/>
<path d="M298.9 194.8L304.4 195.6L310.0 196.6L315.5 197.6L321.1 198.5L326.6 199.2L332.1 199.8L337.7 200.2L343.2 200.8L348.7 201.3L354.3 201.8L359.8 202.2L365.4 202.5L370.9 202.9L376.4 203.4L382.0 203.8L387.5 204.0L393.1 204.1L398.6 204.3L404.1 204.5L409.7 204.7L415.2 204.9L420.7 205.0L426.3 205.1L431.8 205.3L437.4 205.4L442.9 204.9L448.4 204.3L454.0 203.6L459.5 202.7L465.1 201.8L470.6 200.3L476.1 198.7L481.7 199.2L487.2 200.8L492.7 202.3L498.3 203.5L503.8 204.3L509.4 205.1L514.9 206.0" stroke="#fff" stroke-width="1.17" opacity="0.79"/>
<path d="M298.9 196.0L304.4 197.0L310.0 197.8L315.5 198.7L321.1 199.6L326.6 200.5L332.1 201.2L337.7 201.8L343.2 202.4L348.7 203.0L354.3 203.5L359.8 204.0L365.4 204.1L370.9 204.2L376.4 204.5L382.0 204.8L387.5 205.1L393.1 205.3L398.6 205.4L404.1 205.6L409.7 205.9L415.2 206.2L420.7 206.3L426.3 206.2L431.8 206.2L437.4 206.2L442.9 205.9L448.4 205.5L454.0 204.9L459.5 204.0L465.1 203.3L470.6 201.9L476.1 200.4L481.7 200.9L487.2 202.3L492.7 203.7L498.3 204.9L503.8 205.8L509.4 206.6L514.9 207.5" stroke="#000" stroke-width="1.02" opacity="0.78"/>
<path d="M298.9 197.0L304.4 198.0L310.0 198.9L315.5 199.8L321.1 200.6L326.6 201.5L332.1 202.1L337.7 202.6L343.2 203.2L348.7 203.7L354.3 204.4L359.8 205.0L365.4 205.3L370.9 205.6L376.4 206.0L382.0 206.3L387.5 206.7L393.1 206.9L398.6 207.0L404.1 207.2L409.7 207.4L415.2 207.8L420.7 208.0L426.3 208.0L431.8 207.9L437.4 207.9L442.9 207.5L448.4 206.9L454.0 206.2L459.5 205.1L465.1 204.1L470.6 202.7L476.1 201.2L481.7 201.7L487.2 203.2L492.7 204.7L498.3 206.0L503.8 207.0L509.4 207.9L514.9 208.7" stroke="#fff" stroke-width="1.06" opacity="0.67"/>
<path d="M298.9 198.1L304.4 199.1L310.0 200.1L315.5 201.0L321.1 201.9L326.6 202.8L332.1 203.5L337.7 204.0L343.2 204.5L348.7 205.0L354.3 205.6L359.8 206.2L365.4 206.6L370.9 206.9L376.4 207.2L382.0 207.6L387.5 208.0L393.1 208.2L398.6 208.3L404.1 208.4L409.7 208.7L415.2 209.0L420.7 209.3L426.3 209.3L431.8 209.3L437.4 209.3L442.9 208.9L448.4 208.4L454.0 207.6L459.5 206.5L465.1 205.4L470.6 203.9L476.1 202.4L481.7 203.0L487.2 204.5L492.7 206.0L498.3 207.4L503.8 208.4L509.4 209.3L514.9 210.1" stroke="#000" stroke-width="0.95" opacity="0.97"/>
<path d="M298.9 199.0L304.4 200.3L310.0 201.4L315.5 202.3L321.1 203.2L326.6 204.1L332.1 204.9L337.7 205.6L343.2 206.2L348.7 206.6L354.3 207.2L359.8 207.8L365.4 208.2L370.9 208.4L376.4 208.6L382.0 208.8L387.5 209.1L393.1 209.4L398.6 209.5L404.1 209.5L409.7 209.7L415.2 210.0L420.7 210.3L426.3 210.4L431.8 210.4L437.4 210.3L442.9 209.9L448.4 209.5L454.0 208.9L459.5 207.9L465.1 206.8L470.6 205.3L476.1 203.9L481.7 204.6L487.2 206.2L492.7 207.7L498.3 208.9L503.8 209.9L509.4 210.9L514.9 211.8" stroke="#fff" stroke-width="1.13" opacity="0.79"/>
<path d="M298.9 200.2L304.4 201.3L310.0 202.3L315.5 203.1L321.1 203.9L326.6 204.8L332.1 205.7L337.7 206.5L343.2 207.2L348.7 207.7L354.3 208.3L359.8 208.9L365.4 209.3L370.9 209.6L376.4 209.8L382.0 210.1L387.5 210.5L393.1 211.0L398.6 211.2L404.1 211.4L409.7 211.6L415.2 211.8L420.7 212.1L426.3 212.1L431.8 211.9L437.4 211.7L442.9 211.2L448.4 210.7L454.0 210.2L459.5 209.1L465.1 208.0L470.6 206.4L476.1 204.8L481.7 205.4L487.2 207.0L492.7 208.5L498.3 209.7L503.8 210.9L509.4 212.0L514.9 213.1" stroke="#000" stroke-width="0.99" opacity="0.89"/>
<path d="M298.9 201.3L304.4 202.2L310.0 203.2L315.5 204.3L321.1 205.2L326.6 206.1L332.1 206.8L337.7 207.5L343.2 208.3L348.7 209.1L354.3 209.7L359.8 210.2L365.4 210.5L370.9 210.9L376.4 211.3L382.0 211.7L387.5 212.0L393.1 212.2L398.6 212.4L404.1 212.8L409.7 213.1L415.2 213.2L420.7 213.3L426.3 213.3L431.8 213.3L437.4 213.3L442.9 212.6L448.4 212.0L454.0 211.3L459.5 210.3L465.1 209.3L470.6 207.7L476.1 205.9L481.7 206.5L487.2 208.2L492.7 209.9L498.3 211.3L503.8 212.3L509.4 213.2L514.9 214.4" stroke="#fff" stroke-width="0.94" opacity="0.98"/>
<path d="M298.9 202.5L304.4 203.5L310.0 204.6L315.5 205.7L321.1 206.7L326.6 207.6L332.1 208.4L337.7 209.1L343.2 209.9L348.7 210.6L354.3 211.1L359.8 211.4L365.4 211.7L370.9 211.9L376.4 212.3L382.0 212.7L387.5 213.0L393.1 213.2L398.6 213.5L404.1 213.9L409.7 214.2L415.2 214.4L420.7 214.4L426.3 214.5L431.8 214.5L437.4 214.6L442.9 214.1L448.4 213.5L454.0 213.0L459.5 212.0L465.1 211.0L470.6 209.3L476.1 207.4L481.7 207.9L487.2 209.6L492.7 211.3L498.3 212.7L503.8 213.7L509.4 214.7L514.9 215.8" stroke="#000" stroke-width="1.11" opacity="0.91"/>
<path d="M298.9 203.2L304.4 204.3L310.0 205.4L315.5 206.5L321.1 207.6L326.6 208.6L332.1 209.5L337.7 210.3L343.2 211.2L348.7 212.0L354.3 212.6L359.8 213.0L365.4 213.3L370.9 213.6L376.4 214.0L382.0 214.4L387.5 214.6L393.1 214.9L398.6 215.1L404.1 215.4L409.7 215.6L415.2 215.7L420.7 215.7L426.3 215.6L431.8 215.6L437.4 215.6L442.9 215.1L448.4 214.5L454.0 213.9L459.5 212.9L465.1 212.0L470.6 210.3L476.1 208.4L481.7 209.0L487.2 210.9L492.7 212.7L498.3 214.1L503.8 215.2L509.4 216.3L514.9 217.5" stroke="#fff" stroke-width="1.10" opacity="0.79"/>
<path d="M298.9 204.3L304.4 205.4L310.0 206.6L315.5 207.8L321.1 208.9L326.6 209.9L332.1 210.9L337.7 211.7L343.2 212.5L348.7 213.1L354.3 213.5L359.8 213.9L365.4 214.2L370.9 214.6L376.4 215.0L382.0 215.3L387.5 215.6L393.1 215.9L398.6 216.2L404.1 216.4L409.7 216.5L415.2 216.5L420.7 216.6L426.3 216.6L431.8 216.7L437.4 216.7L442.9 216.2L448.4 215.8L454.0 215.3L459.5 214.3L465.1 213.3L470.6 211.4L476.1 209.5L481.7 210.2L487.2 212.1L492.7 213.8L498.3 215.3L503.8 216.4L509.4 217.5L514.9 218.7" stroke="#000" stroke-width="1.02" opacity="0.67"/>
<path d="M298.9 205.5L304.4 206.5L310.0 207.6L315.5 208.7L321.1 209.8L326.6 210.9L332.1 211.7L337.7 212.5L343.2 213.3L348.7 214.1L354.3 214.8L359.8 215.3L365.4 215.5L370.9 215.8L376.4 216.2L382.0 216.5L387.5 216.8L393.1 217.0L398.6 217.2L404.1 217.4L409.7 217.7L415.2 217.9L420.7 217.9L426.3 217.8L431.8 217.8L437.4 217.8L442.9 217.3L448.4 216.7L454.0 216.0L459.5 215.0L465.1 214.1L470.6 212.5L476.1 210.7L481.7 211.3L487.2 213.1L492.7 214.8L498.3 216.3L503.8 217.4L509.4 218.5L514.9 219.6" stroke="#fff" stroke-width="1.07" opacity="0.86"/>
<path d="M298.9 206.5L304.4 207.8L310.0 209.1L315.5 210.2L321.1 211.1L326.6 212.0L332.1 212.9L337.7 213.7L343.2 214.5L348.7 215.1L354.3 215.6L359.8 216.2L365.4 216.7L370.9 217.0L376.4 217.2L382.0 217.4L387.5 217.6L393.1 217.9L398.6 218.2L404.1 218.3L409.7 218.4L415.2 218.7L420.7 219.0L426.3 219.1L431.8 219.1L437.4 218.9L442.9 218.3L448.4 217.9L454.0 217.4L459.5 216.3L465.1 215.2L470.6 213.5L476.1 211.8L481.7 212.6L487.2 214.5L492.7 216.1L498.3 217.4L503.8 218.5L509.4 219.6L514.9 220.7" stroke="#000" stroke-width="1.05" opacity="0.96"/>
<path d="M298.9 207.6L304.4 208.7L310.0 209.9L315.5 211.1L321.1 212.2L326.6 213.1L332.1 213.9L337.7 214.6L343.2 215.5L348.7 216.3L354.3 216.8L359.8 217.3L365.4 217.7L370.9 218.1L376.4 218.4L382.0 218.7L387.5 218.8L393.1 219.0L398.6 219.2L404.1 219.5L409.7 219.7L415.2 219.8L420.7 220.0L426.3 220.1L431.8 220.1L437.4 220.1L442.9 219.4L448.4 218.8L454.0 218.2L459.5 217.3L465.1 216.3L470.6 214.6L476.1 212.8L481.7 213.5L487.2 215.5L492.7 217.2L498.3 218.6L503.8 219.6L509.4 220.6L514.9 221.7" stroke="#fff" stroke-width="1.05" opacity="0.82"/>
<path d="M298.9 208.5L304.4 209.7L310.0 210.9L315.5 212.0L321.1 212.9L326.6 214.0L332.1 215.0L337.7 215.9L343.2 216.8L348.7 217.4L354.3 217.8L359.8 218.4L365.4 218.8L370.9 219.1L376.4 219.3L382.0 219.6L387.5 220.0L393.1 220.4L398.6 220.7L404.1 220.8L409.7 220.8L415.2 220.9L420.7 221.1L426.3 221.1L431.8 221.0L437.4 220.9L442.9 220.4L448.4 220.0L454.0 219.5L459.5 218.5L465.1 217.3L470.6 215.6L476.1 213.8L481.7 214.5L487.2 216.3L492.7 218.0L498.3 219.4L503.8 220.6L509.4 221.9L514.9 223.1" stroke="#000" stroke-width="1.01" opacity="0.74"/>
<path d="M298.9 209.7L304.4 210.9L310.0 212.0L315.5 213.2L321.1 214.4L326.6 215.5L332.1 216.5L337.7 217.1L343.2 217.7L348.7 218.3L354.3 218.9L359.8 219.4L365.4 219.6L370.9 219.9L376.4 220.3L382.0 220.8L387.5 221.2L393.1 221.4L398.6 221.4L404.1 221.5L409.7 221.7L415.2 221.9L420.7 222.0L426.3 222.0L431.8 222.0L437.4 222.2L442.9 221.9L448.4 221.4L454.0 220.7L459.5 219.6L465.1 218.5L470.6 216.8L476.1 215.0L481.7 215.6L487.2 217.4L492.7 219.2L498.3 220.8L503.8 222.0L509.4 223.0L514.9 224.0" stroke="#fff" stroke-width="1.19" opacity="0.65"/>
<path d="M298.9 211.1L304.4 212.3L310.0 213.4L315.5 214.4L321.1 215.3L326.6 216.2L332.1 217.1L337.7 217.7L343.2 218.3L348.7 218.9L354.3 219.6L359.8 220.2L365.4 220.7L370.9 221.0L376.4 221.3L382.0 221.7L387.5 222.1L393.1 222.4L398.6 222.6L404.1 222.7L409.7 223.0L415.2 223.4L420.7 223.7L426.3 223.7L431.8 223.7L437.4 223.6L442.9 223.1L448.4 222.6L454.0 221.8L459.5 220.5L465.1 219.4L470.6 217.7L476.1 216.0L481.7 216.6L487.2 218.4L492.7 220.0L498.3 221.5L503.8 222.6L509.4 223.6L514.9 224.6" stroke="#000" stroke-width="0.97" opacity="0.88"/>
<path d="M298.9 211.8L304.4 213.1L310.0 214.3L315.5 215.3L321.1 216.2L326.6 217.2L332.1 218.2L337.7 219.1L343.2 219.9L348.7 220.5L354.3 221.1L359.8 221.7L365.4 222.1L370.9 222.4L376.4 222.6L382.0 222.8L387.5 223.2L393.1 223.5L398.6 223.8L404.1 223.9L409.7 224.0L415.2 224.2L420.7 224.4L426.3 224.5L431.8 224.3L437.4 224.2L442.9 223.6L448.4 223.2L454.0 222.7L459.5 221.6L465.1 220.5L470.6 218.8L476.1 217.1L481.7 217.9L487.2 219.7L492.7 221.3L498.3 222.7L503.8 223.9L509.4 225.1L514.9 226.2" stroke="#fff" stroke-width="0.97" opacity="0.71"/>
<path d="M298.9 213.0L304.4 214.3L310.0 215.6L315.5 216.8L321.1 217.7L326.6 218.7L332.1 219.5L337.7 220.3L343.2 220.9L348.7 221.4L354.3 221.9L359.8 222.5L365.4 223.0L370.9 223.4L376.4 223.6L382.0 223.8L387.5 224.1L393.1 224.5L398.6 224.6L404.1 224.7L409.7 224.8L415.2 225.0L420.7 225.4L426.3 225.6L431.8 225.7L437.4 225.6L442.9 225.1L448.4 224.6L454.0 224.0L459.5 222.9L465.1 221.7L470.6 219.9L476.1 218.2L481.7 219.1L487.2 220.9L492.7 222.6L498.3 223.9L503.8 225.0L509.4 226.1L514.9 227.1" stroke="#000" stroke-width="0.93" opacity="0.65"/>
</g>
<path d="M298.9 160.9L302.8 160.1L307.9 159.9L310.9 160.1L313.9 161.4L316.9 163.7L319.4 166.5L321.5 170.0L323.2 174.0L325.0 177.5L327.1 180.1L330.1 182.3L334.1 184.6L338.9 187.0L342.9 188.6L348.0 189.7L353.0 190.0L358.0 189.8L363.0 189.9L367.2 189.2L367.2 189.2L366.2 190.3L364.1 191.5L358.0 191.5L353.0 190.7L348.0 190.3L342.9 189.2L337.1 187.0L332.1 185.3L327.1 183.8L323.0 182.5L319.4 180.0L316.9 176.9L314.9 173.4L312.4 170.9L309.9 168.9L306.9 167.9L302.8 167.2L298.9 167.4ZM378.8 161.2L385.1 161.2L393.1 160.5L400.2 159.5L408.3 159.0L415.3 158.8L420.1 159.0L426.1 159.0L433.2 159.2L440.2 159.5L445.2 160.5L450.4 162.0L455.4 162.8L462.4 163.2L468.4 163.5L472.5 164.0L475.2 164.9L479.3 165.7L479.3 165.7L476.3 166.4L472.2 167.9L468.4 170.4L465.4 173.8L462.4 176.5L456.4 178.1L448.2 178.6L441.2 178.4L436.2 177.0L430.2 175.8L424.1 174.5L420.1 172.9L417.3 171.4L412.3 170.4L406.2 168.9L400.2 167.4L395.1 166.4L393.1 164.9L388.1 163.9L383.1 162.9L378.8 161.2ZM498.3 165.7L502.5 164.0L507.5 162.2L514.9 161.5L514.9 168.7L508.5 167.7L502.5 166.7L498.3 165.7Z" fill="#828282"/>
<path d="M302.8 158.9L307.9 158.7L310.9 158.9L313.9 160.2L316.9 162.5L319.4 165.3L321.5 168.8L323.2 172.8L325.0 176.3L327.1 178.9L330.1 181.1L334.1 183.4L338.9 185.8L342.9 187.4L348.0 188.5L353.0 188.8L358.0 188.6L363.0 188.7L367.2 188.0" fill="none" stroke="#fff" stroke-width="0.80" opacity="0.80" stroke-linecap="round" stroke-linejoin="round"/>
<path d="M302.8 160.1L307.9 159.9L310.9 160.1L313.9 161.4L316.9 163.7L319.4 166.5L321.5 170.0L323.2 174.0L325.0 177.5L327.1 180.1L330.1 182.3L334.1 184.6L338.9 187.0L342.9 188.6L348.0 189.7L353.0 190.0L358.0 189.8L363.0 189.9L367.2 189.2" fill="none" stroke="#000" stroke-width="1.15" opacity="1.00" stroke-linecap="round" stroke-linejoin="round"/>
<path d="M307.9 161.2L310.9 161.4L313.9 162.7L316.9 165.0L319.4 167.8L321.5 171.3L323.2 175.3L325.0 178.8L327.1 181.4L330.1 183.6L334.1 185.9L338.9 188.3L342.9 189.9L348.0 191.0L353.0 191.3L358.0 191.1L363.0 191.2L367.2 190.5" fill="none" stroke="#fff" stroke-width="0.70" opacity="0.70" stroke-linecap="round" stroke-linejoin="round"/>
<path d="M298.9 166.9L302.8 166.7L306.9 167.4L309.9 168.4L312.4 170.4L314.9 172.9L316.9 176.4L319.4 179.5L323.0 182.0L327.1 183.3L332.1 184.8L337.1 186.5L342.9 188.7L348.0 189.8L353.0 190.2L358.0 191.0L364.1 191.0L366.2 189.8" fill="none" stroke="#000" stroke-width="1.00" opacity="0.95" stroke-linecap="round" stroke-linejoin="round"/>
<path d="M298.9 168.0L302.8 167.8L306.9 168.5L309.9 169.5L312.4 171.5L314.9 174.0L316.9 177.5L319.4 180.6L323.0 183.1L327.1 184.4L332.1 185.9L337.1 187.6L342.9 189.8L348.0 190.9L353.0 191.3L358.0 192.1L364.1 192.1L366.2 190.9" fill="none" stroke="#fff" stroke-width="1.00" opacity="0.95" stroke-linecap="round" stroke-linejoin="round"/>
<path d="M378.8 160.0L385.1 160.0L393.1 159.3L400.2 158.3L408.3 157.8L415.3 157.6L420.1 157.8L426.1 157.8L433.2 158.0L440.2 158.3L445.2 159.3L450.4 160.8L455.4 161.6L462.4 162.0L468.4 162.3L472.5 162.8L475.2 163.7L479.3 164.5" fill="none" stroke="#fff" stroke-width="0.90" opacity="0.90" stroke-linecap="round" stroke-linejoin="round"/>
<path d="M378.8 161.2L385.1 161.2L393.1 160.5L400.2 159.5L408.3 159.0L415.3 158.8L420.1 159.0L426.1 159.0L433.2 159.2L440.2 159.5L445.2 160.5L450.4 162.0L455.4 162.8L462.4 163.2L468.4 163.5L472.5 164.0L475.2 164.9L479.3 165.7" fill="none" stroke="#000" stroke-width="1.20" opacity="1.00" stroke-linecap="round" stroke-linejoin="round"/>
<path d="M378.8 161.2L383.1 162.9L388.1 163.9L393.1 164.9L395.1 166.4L400.2 167.4L406.2 168.9L412.3 170.4L417.3 171.4L420.1 172.9L424.1 174.5L430.2 175.8L436.2 177.0L441.2 178.4L448.2 178.6L456.4 178.1L462.4 176.5L465.4 173.8L468.4 170.4L472.2 167.9L476.3 166.4L479.3 165.7" fill="none" stroke="#333" stroke-width="0.70" opacity="0.90" stroke-linecap="round" stroke-linejoin="round"/>
<path d="M378.8 162.3L383.1 164.0L388.1 165.0L393.1 166.0L395.1 167.5L400.2 168.5L406.2 170.0L412.3 171.5L417.3 172.5L420.1 174.0L424.1 175.6L430.2 176.9L436.2 178.1L441.2 179.5L448.2 179.7L456.4 179.2L462.4 177.6L465.4 174.9L468.4 171.5L472.2 169.0L476.3 167.5L479.3 166.8" fill="none" stroke="#ddd" stroke-width="0.90" opacity="0.80" stroke-linecap="round" stroke-linejoin="round"/>
<path d="M498.3 165.7L502.5 164.0L507.5 162.2L514.9 161.5" fill="none" stroke="#000" stroke-width="1.20" opacity="1.00" stroke-linecap="round" stroke-linejoin="round"/>
<path d="M498.3 164.6L502.5 162.9L507.5 161.1L514.9 160.4" fill="none" stroke="#fff" stroke-width="0.70" opacity="0.70" stroke-linecap="round" stroke-linejoin="round"/>
<path d="M498.3 166.2L502.5 167.2L508.5 168.2L514.9 169.2" fill="none" stroke="#ccc" stroke-width="0.70" opacity="0.70" stroke-linecap="round" stroke-linejoin="round"/>
<clipPath id="ssd"><path d="M378.8 163.2L383.1 164.9L388.1 165.9L393.1 166.9L395.1 168.4L400.2 169.4L406.2 170.9L412.3 172.4L417.3 173.4L420.1 174.9L424.1 176.5L430.2 177.8L436.2 179.0L441.2 180.4L448.2 180.6L456.4 180.1L462.4 178.5L465.4 175.8L468.4 172.4L472.2 169.9L474.9 185.3L474.9 208.7L378.8 208.7Z"/></clipPath>
<linearGradient id="agd" gradientUnits="userSpaceOnUse" x1="393.9" x2="450.1" y1="0" y2="0"><stop offset="0" stop-color="#000"/><stop offset="1" stop-color="#fff"/></linearGradient>
<mask id="amd" maskUnits="userSpaceOnUse" x="298.9" y="142.1" width="216.0" height="72.0"><rect x="298.9" y="142.1" width="216.0" height="72.0" fill="url(#agd)"/></mask>
<g clip-path="url(#ssd)"><g mask="url(#amd)" fill="none" opacity="0.55">
<path d="M385.3 182.4Q445.8 183.5 478.2 165.1" stroke="#303030" stroke-width=".8"/>
<path d="M385.3 184.3Q445.8 185.4 478.2 167.0" stroke="#e0e0e0" stroke-width=".8"/>
<path d="M385.3 186.2Q445.8 187.2 478.2 168.9" stroke="#303030" stroke-width=".8"/>
<path d="M385.3 188.0Q445.8 189.1 478.2 170.8" stroke="#e0e0e0" stroke-width=".8"/>
<path d="M385.3 189.9Q445.8 191.0 478.2 172.6" stroke="#303030" stroke-width=".8"/>
<path d="M385.3 191.8Q445.8 192.9 478.2 174.5" stroke="#e0e0e0" stroke-width=".8"/>
<path d="M385.3 193.7Q445.8 194.7 478.2 176.4" stroke="#303030" stroke-width=".8"/>
<path d="M385.3 195.5Q445.8 196.6 478.2 178.2" stroke="#e0e0e0" stroke-width=".8"/>
<path d="M385.3 197.4Q445.8 198.5 478.2 180.1" stroke="#303030" stroke-width=".8"/>
<path d="M385.3 199.3Q445.8 200.3 478.2 182.0" stroke="#e0e0e0" stroke-width=".8"/>
<path d="M385.3 201.1Q445.8 202.2 478.2 183.9" stroke="#303030" stroke-width=".8"/>
<path d="M385.3 203.0Q445.8 204.1 478.2 185.7" stroke="#e0e0e0" stroke-width=".8"/>
<path d="M385.3 204.9Q445.8 206.0 478.2 187.6" stroke="#303030" stroke-width=".8"/>
<path d="M385.3 206.8Q445.8 207.8 478.2 189.5" stroke="#e0e0e0" stroke-width=".8"/>
<path d="M385.3 208.6Q445.8 209.7 478.2 191.3" stroke="#303030" stroke-width=".8"/>
<path d="M385.3 210.5Q445.8 211.6 478.2 193.2" stroke="#e0e0e0" stroke-width=".8"/>
<path d="M385.3 212.4Q445.8 213.5 478.2 195.1" stroke="#303030" stroke-width=".8"/>
<path d="M385.3 214.2Q445.8 215.3 478.2 197.0" stroke="#e0e0e0" stroke-width=".8"/>
<path d="M385.3 216.1Q445.8 217.2 478.2 198.8" stroke="#303030" stroke-width=".8"/>
<path d="M385.3 218.0Q445.8 219.1 478.2 200.7" stroke="#e0e0e0" stroke-width=".8"/>
<path d="M385.3 219.9Q445.8 220.9 478.2 202.6" stroke="#303030" stroke-width=".8"/>
<path d="M385.3 221.7Q445.8 222.8 478.2 204.5" stroke="#e0e0e0" stroke-width=".8"/>
</g></g>
<path d="M366.9 190.0L376.7 193.9L389.6 199.7L404.7 207.3" fill="none" stroke="#222" stroke-width="0.60" opacity="0.70" stroke-linecap="round" stroke-linejoin="round"/>
<path d="M366.9 190.8L376.7 194.7L389.6 200.5L404.7 208.1" fill="none" stroke="#ddd" stroke-width="0.60" opacity="0.60" stroke-linecap="round" stroke-linejoin="round"/>
<rect x="298.9" y="208.8" width="216.0" height=".8" fill="#2c2c2c"/>
<rect x="298.9" y="209.8" width="216.0" height="1.5" fill="#b4b4b4"/>
<rect x="298.9" y="211.3" width="216.0" height="2.8" fill="#7e7e7e"/>
</g>
<rect x="528.4" y="142.1" width="3.8" height="72.0" fill="url(#gg)" stroke="#555" stroke-width=".3"/>
<text class="t" x="406.9" y="140.3" font-size="4.60" text-anchor="middle">RTM initial image with multiples</text>
<text class="t" x="406.9" y="225.9" font-size="4.60" text-anchor="middle">Horizontal distance (m)</text>
<text class="t" font-size="4.60" text-anchor="middle" transform="translate(282.6 179.1) rotate(-90)">Depth (m)</text>
<text class="t" x="298.9" y="220.7" font-size="4.50" text-anchor="middle">0</text>
<path d="M298.9 214.1v1.3" stroke="#333" stroke-width=".35"/>
<text class="t" x="329.8" y="220.7" font-size="4.50" text-anchor="middle">2000</text>
<path d="M329.8 214.1v1.3" stroke="#333" stroke-width=".35"/>
<text class="t" x="360.6" y="220.7" font-size="4.50" text-anchor="middle">4000</text>
<path d="M360.6 214.1v1.3" stroke="#333" stroke-width=".35"/>
<text class="t" x="391.5" y="220.7" font-size="4.50" text-anchor="middle">6000</text>
<path d="M391.5 214.1v1.3" stroke="#333" stroke-width=".35"/>
<text class="t" x="422.3" y="220.7" font-size="4.50" text-anchor="middle">8000</text>
<path d="M422.3 214.1v1.3" stroke="#333" stroke-width=".35"/>
<text class="t" x="453.2" y="220.7" font-size="4.50" text-anchor="middle">10000</text>
<path d="M453.2 214.1v1.3" stroke="#333" stroke-width=".35"/>
<text class="t" x="484.0" y="220.7" font-size="4.50" text-anchor="middle">12000</text>
<path d="M484.0 214.1v1.3" stroke="#333" stroke-width=".35"/>
<text class="t" x="514.9" y="220.7" font-size="4.50" text-anchor="middle">14000</text>
<path d="M514.9 214.1v1.3" stroke="#333" stroke-width=".35"/>
<text class="t" x="296.7" y="157.6" font-size="4.50" text-anchor="end">1000</text>
<path d="M298.9 155.9h-1.3" stroke="#333" stroke-width=".35"/>
<text class="t" x="296.7" y="173.0" font-size="4.50" text-anchor="end">2000</text>
<path d="M298.9 171.3h-1.3" stroke="#333" stroke-width=".35"/>
<text class="t" x="296.7" y="188.4" font-size="4.50" text-anchor="end">3000</text>
<path d="M298.9 186.8h-1.3" stroke="#333" stroke-width=".35"/>
<text class="t" x="296.7" y="203.8" font-size="4.50" text-anchor="end">4000</text>
<path d="M298.9 202.2h-1.3" stroke="#333" stroke-width=".35"/>
<text class="t" x="534.6" y="155.6" font-size="4.50">0.2</text>
<path d="M532.2 153.4h1.2" stroke="#333" stroke-width=".35"/>
<text class="t" x="534.6" y="167.9" font-size="4.50">0.1</text>
<path d="M532.2 165.7h1.2" stroke="#333" stroke-width=".35"/>
<text class="t" x="534.6" y="180.3" font-size="4.50">0.0</text>
<path d="M532.2 178.1h1.2" stroke="#333" stroke-width=".35"/>
<text class="t" x="534.6" y="192.7" font-size="4.50">−0.1</text>
<path d="M532.2 190.5h1.2" stroke="#333" stroke-width=".35"/>
<text class="t" x="534.6" y="205.0" font-size="4.50">−0.2</text>
<path d="M532.2 202.8h1.2" stroke="#333" stroke-width=".35"/>
<text class="c" x="412.6" y="247.2" font-size="12.6" text-anchor="middle">(<tspan font-weight="bold">d</tspan>)</text>
<mask id="me" maskUnits="userSpaceOnUse" x="24.6" y="277.3" width="216.0" height="72.0">
<rect x="24.6" y="277.3" width="216.0" height="72.0" fill="#212121"/>
<g filter="url(#bl)">
<path d="M24.6 321.9L240.6 321.9L240.6 349.3L24.6 349.3Z" fill="#262626"/>
<path d="M197.4 298.9L240.6 298.9L240.6 345.7L197.4 345.7Z" fill="#2e2e2e"/>
<path d="M102.4 313.3L154.2 317.6L197.4 306.1L206.0 320.5L201.7 343.5L111.0 343.5L89.4 331.3Z" fill="#525252"/>
<path d="M46.2 293.1L111.0 293.1L102.4 298.9L132.6 309.7L115.3 324.8L89.4 324.8L63.5 316.9L50.5 303.2Z" fill="#464646"/>
<path d="M46.2 291.7L102.4 291.7L98.0 306.1L67.8 311.1L52.7 303.2Z" fill="#8c8c8c"/>
<path d="M39.7 277.3L232.0 277.3L229.8 291.7L210.4 298.9L167.2 296.0L143.4 291.7L111.0 293.1L98.0 298.9L50.5 298.9L41.9 285.9Z" fill="#737373"/>
<path d="M50.5 278.7L232.0 278.7L229.8 288.1L143.4 289.5L89.4 291.7L54.8 291.7Z" fill="#999999"/>
</g>
<rect x="24.6" y="277.3" width="30.2" height="72.0" fill="url(#lfe)"/>
<path d="M24.6 277.3L50.5 277.3L28.9 298.9L24.6 298.9Z" fill="#000" opacity=".7" filter="url(#bl)"/>
<path d="M240.6 277.3L227.6 277.3L236.3 298.9L240.6 298.9Z" fill="#000" opacity=".6" filter="url(#bl)"/>
</mask>
<linearGradient id="lfe" gradientUnits="userSpaceOnUse" x1="24.6" x2="54.8" y1="0" y2="0"><stop offset="0" stop-color="#000" stop-opacity=".6"/><stop offset="1" stop-color="#000" stop-opacity="0"/></linearGradient>
<g clip-path="url(#cpe)">
<rect x="24.6" y="277.3" width="216.0" height="72.0" fill="#818181"/>
<g mask="url(#me)" fill="none">
<path d="M24.6 279.5L30.1 279.6L35.7 279.6L41.2 279.6L46.8 279.5L52.3 279.5L57.8 279.5L63.4 279.5L68.9 279.3L74.4 279.2L80.0 279.1L85.5 279.1L91.1 279.3L96.6 279.3L102.1 279.3L107.7 279.3L113.2 279.4L118.8 279.5L124.3 279.5L129.8 279.4L135.4 279.3L140.9 279.4L146.4 279.6L152.0 279.7L157.5 279.7L163.1 279.7L168.6 279.7L174.1 279.8L179.7 279.8L185.2 279.6L190.8 279.4L196.3 279.3L201.8 279.4L207.4 279.4L212.9 279.4L218.4 279.4L224.0 279.3L229.5 279.4L235.1 279.4L240.6 279.4" stroke="#000" stroke-width="1.30" opacity="0.76"/>
<path d="M24.6 280.9L30.1 280.8L35.7 280.8L41.2 280.8L46.8 280.7L52.3 280.6L57.8 280.4L63.4 280.3L68.9 280.4L74.4 280.5L80.0 280.5L85.5 280.5L91.1 280.5L96.6 280.6L102.1 280.6L107.7 280.6L113.2 280.5L118.8 280.4L124.3 280.5L129.8 280.7L135.4 280.8L140.9 280.9L146.4 280.9L152.0 280.9L157.5 281.0L163.1 281.0L168.6 280.8L174.1 280.6L179.7 280.6L185.2 280.6L190.8 280.7L196.3 280.7L201.8 280.6L207.4 280.6L212.9 280.6L218.4 280.6L224.0 280.5L229.5 280.4L235.1 280.3L240.6 280.3" stroke="#fff" stroke-width="1.14" opacity="0.79"/>
<path d="M24.6 282.1L30.1 282.2L35.7 282.2L41.2 282.1L46.8 282.0L52.3 281.8L57.8 281.9L63.4 281.9L68.9 281.9L74.4 281.9L80.0 281.8L85.5 281.9L91.1 281.9L96.6 281.9L102.1 281.7L107.7 281.6L113.2 281.5L118.8 281.6L124.3 281.8L129.8 281.8L135.4 281.8L140.9 281.9L146.4 282.1L152.0 282.1L157.5 282.1L163.1 282.0L168.6 281.9L174.1 282.0L179.7 282.1L185.2 282.1L190.8 282.1L196.3 282.1L201.8 282.1L207.4 282.2L212.9 282.1L218.4 281.9L224.0 281.8L229.5 281.7L235.1 281.8L240.6 281.8" stroke="#000" stroke-width="1.09" opacity="0.73"/>
<path d="M24.6 282.8L30.1 282.7L35.7 282.8L41.2 282.9L46.8 282.9L52.3 282.9L57.8 283.0L63.4 283.1L68.9 283.2L74.4 283.2L80.0 283.1L85.5 283.0L91.1 283.1L96.6 283.3L102.1 283.4L107.7 283.4L113.2 283.4L118.8 283.5L124.3 283.6L129.8 283.6L135.4 283.5L140.9 283.3L146.4 283.2L152.0 283.3L157.5 283.3L163.1 283.2L168.6 283.2L174.1 283.2L179.7 283.2L185.2 283.2L190.8 283.1L196.3 282.9L201.8 282.8L207.4 282.8L212.9 283.0L218.4 283.0L224.0 283.1L229.5 283.2L235.1 283.3L240.6 283.5" stroke="#fff" stroke-width="1.09" opacity="0.80"/>
<path d="M24.6 284.5L30.1 284.5L35.7 284.4L41.2 284.3L46.8 284.2L52.3 284.2L57.8 284.3L63.4 284.3L68.9 284.3L74.4 284.3L80.0 284.4L85.5 284.5L91.1 284.5L96.6 284.4L102.1 284.3L107.7 284.3L113.2 284.5L118.8 284.6L124.3 284.6L129.8 284.7L135.4 284.8L140.9 284.9L146.4 285.0L152.0 284.9L157.5 284.7L163.1 284.7L168.6 284.7L174.1 284.7L179.7 284.7L185.2 284.6L190.8 284.5L196.3 284.5L201.8 284.5L207.4 284.4L212.9 284.3L218.4 284.2L224.0 284.2L229.5 284.3L235.1 284.4L240.6 284.4" stroke="#000" stroke-width="1.05" opacity="0.97"/>
<path d="M24.6 285.5L30.1 285.4L35.7 285.4L41.2 285.5L46.8 285.6L52.3 285.7L57.8 285.6L63.4 285.6L68.9 285.7L74.4 285.7L80.0 285.6L85.5 285.5L91.1 285.5L96.6 285.6L102.1 285.8L107.7 285.9L113.2 286.0L118.8 286.0L124.3 286.1L129.8 286.2L135.4 286.2L140.9 286.1L146.4 286.0L152.0 286.0L157.5 286.1L163.1 286.2L168.6 286.2L174.1 286.1L179.7 286.1L185.2 286.0L190.8 285.9L196.3 285.7L201.8 285.4L207.4 285.3L212.9 285.5L218.4 285.7L224.0 285.8L229.5 285.8L235.1 285.8L240.6 286.0" stroke="#fff" stroke-width="1.13" opacity="0.71"/>
<path d="M24.6 286.9L30.1 287.0L35.7 286.9L41.2 286.9L46.8 286.9L52.3 287.0L57.8 287.1L63.4 287.2L68.9 287.2L74.4 287.2L80.0 287.3L85.5 287.3L91.1 287.2L96.6 287.0L102.1 286.9L107.7 286.9L113.2 287.1L118.8 287.1L124.3 287.1L129.8 287.2L135.4 287.3L140.9 287.4L146.4 287.4L152.0 287.3L157.5 287.3L163.1 287.3L168.6 287.4L174.1 287.4L179.7 287.4L185.2 287.4L190.8 287.4L196.3 287.4L201.8 287.3L207.4 287.2L212.9 287.1L218.4 287.1L224.0 287.2L229.5 287.3L235.1 287.3L240.6 287.3" stroke="#000" stroke-width="1.08" opacity="0.86"/>
<path d="M24.6 287.5L30.1 287.7L35.7 287.8L41.2 287.9L46.8 288.0L52.3 288.2L57.8 288.3L63.4 288.3L68.9 288.3L74.4 288.3L80.0 288.4L85.5 288.7L91.1 288.8L96.6 288.8L102.1 288.8L107.7 288.9L113.2 289.0L118.8 289.0L124.3 288.8L129.8 288.6L135.4 288.6L140.9 288.7L146.4 288.7L152.0 288.7L157.5 288.7L163.1 288.7L168.6 288.7L174.1 288.6L179.7 288.5L185.2 288.2L190.8 288.1L196.3 288.0L201.8 288.0L207.4 288.2L212.9 288.3L218.4 288.5L224.0 288.8L229.5 289.0L235.1 289.0L240.6 289.0" stroke="#fff" stroke-width="1.15" opacity="0.78"/>
<path d="M24.6 289.1L30.1 289.2L35.7 289.3L41.2 289.5L46.8 289.6L52.3 289.7L57.8 289.6L63.4 289.6L68.9 289.8L74.4 290.0L80.0 290.1L85.5 290.1L91.1 290.0L96.6 290.0L102.1 290.0L107.7 290.0L113.2 289.9L118.8 289.7L124.3 289.7L129.8 289.8L135.4 290.0L140.9 290.0L146.4 290.0L152.0 290.0L157.5 290.1L163.1 290.1L168.6 290.1L174.1 289.9L179.7 289.8L185.2 289.8L190.8 289.9L196.3 289.9L201.8 289.7L207.4 289.7L212.9 289.9L218.4 290.2L224.0 290.2L229.5 290.2L235.1 290.1L240.6 290.2" stroke="#000" stroke-width="1.22" opacity="0.98"/>
<path d="M24.6 290.5L30.1 290.4L35.7 290.4L41.2 290.4L46.8 290.6L52.3 290.8L57.8 290.9L63.4 290.9L68.9 290.9L74.4 291.0L80.0 291.1L85.5 291.1L91.1 291.0L96.6 290.9L102.1 291.0L107.7 291.2L113.2 291.3L118.8 291.4L124.3 291.4L129.8 291.6L135.4 291.7L140.9 291.8L146.4 291.7L152.0 291.6L157.5 291.6L163.1 291.7L168.6 291.7L174.1 291.6L179.7 291.5L185.2 291.4L190.8 291.4L196.3 291.2L201.8 290.8L207.4 290.7L212.9 290.7L218.4 290.9L224.0 291.2L229.5 291.3L235.1 291.4L240.6 291.5" stroke="#fff" stroke-width="1.23" opacity="0.83"/>
<path d="M24.6 291.2L30.1 291.3L35.7 291.3L41.2 291.5L46.8 291.8L52.3 292.0L57.8 292.1L63.4 292.1L68.9 292.1L74.4 292.2L80.0 292.4L85.5 292.5L91.1 292.5L96.6 292.6L102.1 292.8L107.7 293.0L113.2 293.2L118.8 293.1L124.3 293.1L129.8 293.0L135.4 293.1L140.9 293.1L146.4 293.0L152.0 292.9L157.5 292.9L163.1 293.0L168.6 293.0L174.1 292.9L179.7 292.7L185.2 292.4L190.8 292.3L196.3 292.0L201.8 291.7L207.4 291.7L212.9 292.0L218.4 292.3L224.0 292.7L229.5 293.0L235.1 293.1L240.6 293.2" stroke="#000" stroke-width="1.16" opacity="0.81"/>
<path d="M24.6 292.5L30.1 292.6L35.7 292.6L41.2 292.6L46.8 292.8L52.3 293.1L57.8 293.4L63.4 293.5L68.9 293.6L74.4 293.7L80.0 293.9L85.5 294.0L91.1 294.0L96.6 294.0L102.1 294.0L107.7 294.2L113.2 294.4L118.8 294.5L124.3 294.5L129.8 294.5L135.4 294.6L140.9 294.6L146.4 294.5L152.0 294.3L157.5 294.2L163.1 294.2L168.6 294.2L174.1 294.2L179.7 294.0L185.2 293.8L190.8 293.7L196.3 293.5L201.8 293.2L207.4 293.2L212.9 293.3L218.4 293.6L224.0 293.9L229.5 294.3L235.1 294.5L240.6 294.7" stroke="#fff" stroke-width="0.94" opacity="0.87"/>
<path d="M24.6 293.8L30.1 293.8L35.7 293.9L41.2 294.1L46.8 294.3L52.3 294.4L57.8 294.4L63.4 294.6L68.9 294.8L74.4 295.0L80.0 295.0L85.5 295.0L91.1 294.9L96.6 295.0L102.1 295.2L107.7 295.2L113.2 295.3L118.8 295.4L124.3 295.6L129.8 295.8L135.4 295.9L140.9 295.9L146.4 295.8L152.0 295.8L157.5 295.8L163.1 295.8L168.6 295.7L174.1 295.5L179.7 295.5L185.2 295.4L190.8 295.2L196.3 294.9L201.8 294.4L207.4 294.4L212.9 294.6L218.4 294.9L224.0 295.1L229.5 295.2L235.1 295.4L240.6 295.7" stroke="#000" stroke-width="0.94" opacity="0.74"/>
<path d="M24.6 294.9L30.1 295.2L35.7 295.3L41.2 295.4L46.8 295.4L52.3 295.5L57.8 295.7L63.4 295.9L68.9 296.0L74.4 296.1L80.0 296.2L85.5 296.3L91.1 296.4L96.6 296.4L102.1 296.3L107.7 296.3L113.2 296.5L118.8 296.7L124.3 296.8L129.8 296.9L135.4 297.0L140.9 297.1L146.4 297.2L152.0 297.2L157.5 297.1L163.1 297.0L168.6 296.9L174.1 296.9L179.7 296.8L185.2 296.6L190.8 296.3L196.3 296.0L201.8 295.7L207.4 295.8L212.9 296.0L218.4 296.1L224.0 296.3L229.5 296.5L235.1 296.8L240.6 297.0" stroke="#fff" stroke-width="1.11" opacity="0.67"/>
<path d="M24.6 295.9L30.1 296.1L35.7 296.2L41.2 296.2L46.8 296.4L52.3 296.6L57.8 296.8L63.4 296.9L68.9 297.0L74.4 297.3L80.0 297.5L85.5 297.8L91.1 297.8L96.6 297.8L102.1 297.8L107.7 297.9L113.2 298.1L118.8 298.1L124.3 298.2L129.8 298.2L135.4 298.4L140.9 298.6L146.4 298.6L152.0 298.4L157.5 298.3L163.1 298.2L168.6 298.1L174.1 298.0L179.7 297.7L185.2 297.5L190.8 297.3L196.3 297.1L201.8 296.8L207.4 296.8L212.9 297.1L218.4 297.4L224.0 297.7L229.5 298.0L235.1 298.1L240.6 298.3" stroke="#000" stroke-width="1.10" opacity="0.86"/>
<path d="M24.6 297.0L30.1 297.3L35.7 297.5L41.2 297.6L46.8 297.8L52.3 298.1L57.8 298.4L63.4 298.6L68.9 298.7L74.4 298.7L80.0 298.7L85.5 298.8L91.1 298.8L96.6 298.8L102.1 298.7L107.7 298.8L113.2 299.1L118.8 299.3L124.3 299.3L129.8 299.3L135.4 299.4L140.9 299.4L146.4 299.5L152.0 299.5L157.5 299.4L163.1 299.5L168.6 299.5L174.1 299.6L179.7 299.5L185.2 299.2L190.8 298.9L196.3 298.5L201.8 298.2L207.4 298.2L212.9 298.5L218.4 298.7L224.0 299.0L229.5 299.4L235.1 299.7L240.6 299.9" stroke="#fff" stroke-width="1.01" opacity="0.71"/>
<path d="M24.6 298.0L30.1 298.3L35.7 298.6L41.2 298.8L46.8 299.0L52.3 299.3L57.8 299.5L63.4 299.6L68.9 299.6L74.4 299.6L80.0 299.6L85.5 299.9L91.1 300.0L96.6 300.1L102.1 300.2L107.7 300.4L113.2 300.6L118.8 300.7L124.3 300.7L129.8 300.6L135.4 300.6L140.9 300.8L146.4 300.9L152.0 301.0L157.5 301.0L163.1 301.0L168.6 301.0L174.1 301.0L179.7 300.8L185.2 300.3L190.8 299.9L196.3 299.4L201.8 299.1L207.4 299.2L212.9 299.6L218.4 299.9L224.0 300.3L229.5 300.7L235.1 300.9L240.6 301.0" stroke="#000" stroke-width="1.00" opacity="0.91"/>
<path d="M24.6 299.2L30.1 299.4L35.7 299.6L41.2 299.8L46.8 300.1L52.3 300.2L57.8 300.3L63.4 300.4L68.9 300.7L74.4 301.0L80.0 301.2L85.5 301.3L91.1 301.4L96.6 301.5L102.1 301.7L107.7 301.8L113.2 301.8L118.8 301.8L124.3 301.9L129.8 302.1L135.4 302.3L140.9 302.4L146.4 302.4L152.0 302.4L157.5 302.4L163.1 302.4L168.6 302.1L174.1 301.8L179.7 301.6L185.2 301.3L190.8 301.2L196.3 300.7L201.8 300.2L207.4 300.3L212.9 300.8L218.4 301.2L224.0 301.5L229.5 301.7L235.1 301.9L240.6 302.2" stroke="#fff" stroke-width="0.99" opacity="0.87"/>
<path d="M24.6 300.0L30.1 300.4L35.7 300.6L41.2 300.9L46.8 301.1L52.3 301.4L57.8 301.8L63.4 302.0L68.9 302.1L74.4 302.1L80.0 302.2L85.5 302.4L91.1 302.5L96.6 302.7L102.1 302.8L107.7 303.0L113.2 303.2L118.8 303.5L124.3 303.5L129.8 303.5L135.4 303.4L140.9 303.5L146.4 303.6L152.0 303.6L157.5 303.5L163.1 303.5L168.6 303.5L174.1 303.4L179.7 303.2L185.2 302.8L190.8 302.3L196.3 301.8L201.8 301.3L207.4 301.4L212.9 301.8L218.4 302.2L224.0 302.7L229.5 303.2L235.1 303.6L240.6 303.9" stroke="#000" stroke-width="0.97" opacity="0.96"/>
<path d="M24.6 301.2L30.1 301.5L35.7 301.6L41.2 301.8L46.8 302.1L52.3 302.5L57.8 302.8L63.4 303.1L68.9 303.3L74.4 303.6L80.0 303.9L85.5 304.1L91.1 304.2L96.6 304.2L102.1 304.2L107.7 304.4L113.2 304.5L118.8 304.7L124.3 304.7L129.8 304.7L135.4 304.8L140.9 305.0L146.4 305.0L152.0 304.8L157.5 304.6L163.1 304.5L168.6 304.4L174.1 304.3L179.7 304.1L185.2 303.7L190.8 303.4L196.3 303.1L201.8 302.6L207.4 302.8L212.9 303.2L218.4 303.6L224.0 304.1L229.5 304.5L235.1 304.9L240.6 305.2" stroke="#fff" stroke-width="1.04" opacity="0.87"/>
<path d="M24.6 302.3L30.1 302.7L35.7 303.1L41.2 303.3L46.8 303.6L52.3 303.9L57.8 304.3L63.4 304.5L68.9 304.7L74.4 304.9L80.0 305.2L85.5 305.5L91.1 305.6L96.6 305.5L102.1 305.5L107.7 305.5L113.2 305.6L118.8 305.7L124.3 305.7L129.8 305.7L135.4 305.7L140.9 305.9L146.4 306.0L152.0 306.0L157.5 305.9L163.1 305.8L168.6 305.7L174.1 305.6L179.7 305.4L185.2 305.1L190.8 304.8L196.3 304.5L201.8 304.1L207.4 304.3L212.9 304.8L218.4 305.2L224.0 305.6L229.5 306.0L235.1 306.3L240.6 306.6" stroke="#000" stroke-width="1.04" opacity="0.94"/>
<path d="M24.6 303.3L30.1 303.7L35.7 304.1L41.2 304.4L46.8 304.9L52.3 305.4L57.8 305.8L63.4 306.0L68.9 306.1L74.4 306.2L80.0 306.3L85.5 306.5L91.1 306.5L96.6 306.5L102.1 306.6L107.7 306.8L113.2 307.0L118.8 307.1L124.3 307.0L129.8 307.0L135.4 307.0L140.9 307.1L146.4 307.1L152.0 307.1L157.5 307.1L163.1 307.2L168.6 307.2L174.1 307.2L179.7 307.0L185.2 306.6L190.8 306.2L196.3 305.7L201.8 305.1L207.4 305.3L212.9 305.8L218.4 306.4L224.0 307.0L229.5 307.5L235.1 307.8L240.6 308.0" stroke="#fff" stroke-width="1.11" opacity="0.83"/>
<path d="M24.6 304.4L30.1 304.9L35.7 305.4L41.2 305.9L46.8 306.2L52.3 306.5L57.8 306.7L63.4 306.9L68.9 307.1L74.4 307.2L80.0 307.2L85.5 307.4L91.1 307.6L96.6 307.8L102.1 308.0L107.7 308.0L113.2 308.1L118.8 308.2L124.3 308.3L129.8 308.3L135.4 308.3L140.9 308.4L146.4 308.6L152.0 308.8L157.5 308.9L163.1 308.9L168.6 308.7L174.1 308.6L179.7 308.4L185.2 308.0L190.8 307.5L196.3 306.8L201.8 306.1L207.4 306.5L212.9 307.2L218.4 307.7L224.0 308.1L229.5 308.5L235.1 308.8L240.6 309.2" stroke="#000" stroke-width="1.02" opacity="0.85"/>
<path d="M24.6 305.3L30.1 305.6L35.7 306.0L41.2 306.4L46.8 307.0L52.3 307.5L57.8 307.8L63.4 308.0L68.9 308.2L74.4 308.5L80.0 308.8L85.5 309.0L91.1 309.0L96.6 309.2L102.1 309.5L107.7 309.8L113.2 309.9L118.8 310.0L124.3 309.9L129.8 309.9L135.4 309.9L140.9 309.9L146.4 309.9L152.0 309.8L157.5 309.8L163.1 309.9L168.6 309.8L174.1 309.6L179.7 309.3L185.2 308.8L190.8 308.4L196.3 307.8L201.8 307.1L207.4 307.3L212.9 308.0L218.4 308.8L224.0 309.5L229.5 310.0L235.1 310.4L240.6 310.7" stroke="#fff" stroke-width="1.08" opacity="0.93"/>
<path d="M24.6 306.8L30.1 307.3L35.7 307.7L41.2 307.9L46.8 308.1L52.3 308.5L57.8 308.8L63.4 309.1L68.9 309.3L74.4 309.5L80.0 309.8L85.5 310.1L91.1 310.3L96.6 310.3L102.1 310.4L107.7 310.5L113.2 310.7L118.8 310.9L124.3 311.0L129.8 311.1L135.4 311.3L140.9 311.5L146.4 311.7L152.0 311.7L157.5 311.5L163.1 311.4L168.6 311.2L174.1 311.0L179.7 310.7L185.2 310.2L190.8 309.8L196.3 309.2L201.8 308.6L207.4 308.8L212.9 309.4L218.4 309.9L224.0 310.4L229.5 310.8L235.1 311.2L240.6 311.6" stroke="#000" stroke-width="1.15" opacity="0.85"/>
<path d="M24.6 307.5L30.1 308.0L35.7 308.6L41.2 309.2L46.8 309.6L52.3 310.0L57.8 310.4L63.4 310.8L68.9 311.1L74.4 311.2L80.0 311.2L85.5 311.3L91.1 311.5L96.6 311.7L102.1 311.9L107.7 311.9L113.2 312.1L118.8 312.2L124.3 312.3L129.8 312.3L135.4 312.2L140.9 312.2L146.4 312.3L152.0 312.5L157.5 312.6L163.1 312.6L168.6 312.4L174.1 312.3L179.7 312.2L185.2 311.8L190.8 311.2L196.3 310.4L201.8 309.7L207.4 310.0L212.9 310.9L218.4 311.5L224.0 312.1L229.5 312.6L235.1 313.0L240.6 313.5" stroke="#fff" stroke-width="1.04" opacity="0.68"/>
<path d="M24.6 308.6L30.1 309.1L35.7 309.7L41.2 310.2L46.8 310.6L52.3 310.9L57.8 311.3L63.4 311.6L68.9 311.8L74.4 312.0L80.0 312.1L85.5 312.3L91.1 312.7L96.6 313.0L102.1 313.2L107.7 313.3L113.2 313.5L118.8 313.7L124.3 313.9L129.8 313.9L135.4 313.8L140.9 313.9L146.4 314.0L152.0 314.2L157.5 314.2L163.1 314.2L168.6 313.9L174.1 313.7L179.7 313.5L185.2 312.9L190.8 312.2L196.3 311.3L201.8 310.6L207.4 310.9L212.9 311.8L218.4 312.5L224.0 313.0L229.5 313.6L235.1 314.1L240.6 314.6" stroke="#000" stroke-width="1.12" opacity="0.98"/>
<path d="M24.6 310.0L30.1 310.5L35.7 311.0L41.2 311.6L46.8 312.1L52.3 312.5L57.8 312.7L63.4 312.8L68.9 313.1L74.4 313.4L80.0 313.6L85.5 313.8L91.1 313.9L96.6 314.1L102.1 314.4L107.7 314.6L113.2 314.6L118.8 314.6L124.3 314.6L129.8 314.8L135.4 315.0L140.9 315.1L146.4 315.2L152.0 315.3L157.5 315.5L163.1 315.6L168.6 315.4L174.1 315.0L179.7 314.6L185.2 314.1L190.8 313.7L196.3 313.0L201.8 312.1L207.4 312.4L212.9 313.2L218.4 314.1L224.0 314.7L229.5 315.0L235.1 315.3L240.6 315.7" stroke="#fff" stroke-width="0.93" opacity="0.67"/>
<path d="M24.6 310.7L30.1 311.3L35.7 311.8L41.2 312.2L46.8 312.6L52.3 313.0L57.8 313.6L63.4 314.1L68.9 314.5L74.4 314.8L80.0 315.0L85.5 315.3L91.1 315.6L96.6 315.7L102.1 315.8L107.7 315.9L113.2 316.1L118.8 316.4L124.3 316.6L129.8 316.6L135.4 316.6L140.9 316.6L146.4 316.7L152.0 316.7L157.5 316.5L163.1 316.4L168.6 316.1L174.1 315.9L179.7 315.8L185.2 315.3L190.8 314.7L196.3 313.9L201.8 313.1L207.4 313.5L212.9 314.2L218.4 314.9L224.0 315.6L229.5 316.2L235.1 316.9L240.6 317.5" stroke="#000" stroke-width="1.02" opacity="0.94"/>
<path d="M24.6 311.8L30.1 312.4L35.7 313.0L41.2 313.6L46.8 314.2L52.3 314.7L57.8 315.0L63.4 315.3L68.9 315.6L74.4 316.0L80.0 316.4L85.5 316.7L91.1 316.9L96.6 317.1L102.1 317.3L107.7 317.5L113.2 317.5L118.8 317.5L124.3 317.4L129.8 317.5L135.4 317.7L140.9 317.8L146.4 317.8L152.0 317.8L157.5 317.9L163.1 317.9L168.6 317.6L174.1 317.2L179.7 316.8L185.2 316.3L190.8 315.9L196.3 315.2L201.8 314.4L207.4 314.7L212.9 315.7L218.4 316.7L224.0 317.4L229.5 317.9L235.1 318.3L240.6 318.7" stroke="#fff" stroke-width="1.17" opacity="0.83"/>
<path d="M24.6 313.0L30.1 313.5L35.7 313.9L41.2 314.4L46.8 314.9L52.3 315.6L57.8 316.2L63.4 316.6L68.9 316.9L74.4 317.3L80.0 317.7L85.5 318.0L91.1 318.1L96.6 318.1L102.1 318.3L107.7 318.6L113.2 318.9L118.8 319.0L124.3 319.1L129.8 319.1L135.4 319.3L140.9 319.3L146.4 319.3L152.0 319.1L157.5 319.0L163.1 319.0L168.6 318.8L174.1 318.6L179.7 318.3L185.2 317.7L190.8 317.2L196.3 316.5L201.8 315.6L207.4 315.8L212.9 316.6L218.4 317.5L224.0 318.3L229.5 319.0L235.1 319.6L240.6 320.2" stroke="#000" stroke-width="1.09" opacity="0.75"/>
<path d="M24.6 314.4L30.1 314.9L35.7 315.4L41.2 316.0L46.8 316.4L52.3 316.9L57.8 317.2L63.4 317.6L68.9 318.1L74.4 318.5L80.0 318.7L85.5 318.9L91.1 319.0L96.6 319.2L102.1 319.4L107.7 319.5L113.2 319.7L118.8 319.9L124.3 320.2L129.8 320.5L135.4 320.6L140.9 320.7L146.4 320.7L152.0 320.7L157.5 320.8L163.1 320.8L168.6 320.4L174.1 320.1L179.7 319.8L185.2 319.4L190.8 318.9L196.3 317.9L201.8 316.8L207.4 317.1L212.9 318.0L218.4 318.8L224.0 319.5L229.5 319.9L235.1 320.5L240.6 321.2" stroke="#fff" stroke-width="1.19" opacity="0.74"/>
<path d="M24.6 315.1L30.1 315.6L35.7 316.1L41.2 316.7L46.8 317.4L52.3 318.1L57.8 318.7L63.4 319.1L68.9 319.5L74.4 319.9L80.0 320.3L85.5 320.5L91.1 320.6L96.6 320.7L102.1 320.9L107.7 321.2L113.2 321.5L118.8 321.6L124.3 321.6L129.8 321.7L135.4 321.8L140.9 321.9L146.4 321.8L152.0 321.6L157.5 321.6L163.1 321.7L168.6 321.5L174.1 321.3L179.7 320.9L185.2 320.3L190.8 319.8L196.3 319.0L201.8 318.0L207.4 318.2L212.9 319.1L218.4 320.1L224.0 321.1L229.5 321.8L235.1 322.4L240.6 323.0" stroke="#000" stroke-width="0.96" opacity="0.69"/>
<path d="M24.6 316.0L30.1 316.7L35.7 317.3L41.2 317.9L46.8 318.6L52.3 319.3L57.8 319.9L63.4 320.3L68.9 320.6L74.4 320.9L80.0 321.2L85.5 321.6L91.1 321.9L96.6 322.0L102.1 322.3L107.7 322.6L113.2 323.0L118.8 323.1L124.3 323.1L129.8 323.0L135.4 323.1L140.9 323.2L146.4 323.2L152.0 323.1L157.5 323.1L163.1 323.1L168.6 323.0L174.1 322.7L179.7 322.3L185.2 321.5L190.8 320.8L196.3 319.9L201.8 318.9L207.4 319.3L212.9 320.3L218.4 321.3L224.0 322.3L229.5 323.2L235.1 323.8L240.6 324.3" stroke="#fff" stroke-width="0.99" opacity="0.97"/>
<path d="M24.6 317.6L30.1 318.4L35.7 319.1L41.2 319.6L46.8 320.0L52.3 320.5L57.8 321.1L63.4 321.6L68.9 322.0L74.4 322.2L80.0 322.5L85.5 322.9L91.1 323.1L96.6 323.3L102.1 323.3L107.7 323.3L113.2 323.5L118.8 323.8L124.3 324.0L129.8 324.1L135.4 324.2L140.9 324.4L146.4 324.7L152.0 324.8L157.5 324.7L163.1 324.6L168.6 324.3L174.1 324.1L179.7 323.8L185.2 323.2L190.8 322.5L196.3 321.5L201.8 320.6L207.4 321.1L212.9 322.0L218.4 322.8L224.0 323.5L229.5 324.1L235.1 324.8L240.6 325.4" stroke="#000" stroke-width="1.13" opacity="0.68"/>
<path d="M24.6 318.2L30.1 319.0L35.7 319.7L41.2 320.4L46.8 321.2L52.3 321.9L57.8 322.6L63.4 322.9L68.9 323.2L74.4 323.5L80.0 323.9L85.5 324.3L91.1 324.5L96.6 324.6L102.1 324.8L107.7 325.1L113.2 325.4L118.8 325.5L124.3 325.5L129.8 325.4L135.4 325.5L140.9 325.6L146.4 325.7L152.0 325.7L157.5 325.7L163.1 325.8L168.6 325.6L174.1 325.4L179.7 325.0L185.2 324.2L190.8 323.5L196.3 322.5L201.8 321.5L207.4 321.9L212.9 323.0L218.4 324.1L224.0 325.1L229.5 326.0L235.1 326.6L240.6 327.1" stroke="#fff" stroke-width="1.16" opacity="0.84"/>
<path d="M24.6 319.7L30.1 320.4L35.7 321.1L41.2 321.8L46.8 322.3L52.3 322.9L57.8 323.6L63.4 324.1L68.9 324.6L74.4 324.8L80.0 325.0L85.5 325.3L91.1 325.5L96.6 325.7L102.1 325.8L107.7 325.9L113.2 326.2L118.8 326.6L124.3 326.8L129.8 326.9L135.4 327.0L140.9 327.1L146.4 327.3L152.0 327.3L157.5 327.3L163.1 327.2L168.6 327.0L174.1 326.8L179.7 326.6L185.2 325.9L190.8 325.2L196.3 324.0L201.8 322.9L207.4 323.3L212.9 324.3L218.4 325.2L224.0 326.0L229.5 326.7L235.1 327.5L240.6 328.3" stroke="#000" stroke-width="0.99" opacity="0.83"/>
<path d="M24.6 320.5L30.1 321.2L35.7 322.0L41.2 322.8L46.8 323.5L52.3 324.0L57.8 324.4L63.4 324.9L68.9 325.4L74.4 325.8L80.0 326.1L85.5 326.4L91.1 326.8L96.6 327.2L102.1 327.6L107.7 327.8L113.2 328.0L118.8 328.1L124.3 328.3L129.8 328.4L135.4 328.5L140.9 328.5L146.4 328.7L152.0 328.8L157.5 328.9L163.1 328.9L168.6 328.4L174.1 328.0L179.7 327.5L185.2 326.8L190.8 326.0L196.3 324.7L201.8 323.5L207.4 324.0L212.9 325.3L218.4 326.5L224.0 327.4L229.5 328.1L235.1 328.8L240.6 329.5" stroke="#fff" stroke-width="1.06" opacity="0.98"/>
<path d="M24.6 321.6L30.1 322.3L35.7 323.1L41.2 324.1L46.8 324.9L52.3 325.6L57.8 326.1L63.4 326.6L68.9 327.1L74.4 327.5L80.0 327.7L85.5 327.9L91.1 328.1L96.6 328.4L102.1 328.8L107.7 329.0L113.2 329.2L118.8 329.3L124.3 329.4L129.8 329.5L135.4 329.5L140.9 329.5L146.4 329.6L152.0 329.6L157.5 329.8L163.1 330.0L168.6 329.7L174.1 329.3L179.7 328.9L185.2 328.2L190.8 327.5L196.3 326.3L201.8 325.0L207.4 325.5L212.9 326.8L218.4 328.1L224.0 329.1L229.5 329.8L235.1 330.5L240.6 331.2" stroke="#000" stroke-width="1.05" opacity="0.94"/>
<path d="M24.6 322.9L30.1 323.8L35.7 324.7L41.2 325.3L46.8 326.0L52.3 326.7L57.8 327.3L63.4 327.7L68.9 328.1L74.4 328.5L80.0 328.9L85.5 329.4L91.1 329.7L96.6 329.8L102.1 329.9L107.7 330.1L113.2 330.3L118.8 330.5L124.3 330.5L129.8 330.6L135.4 330.7L140.9 331.0L146.4 331.3L152.0 331.4L157.5 331.3L163.1 331.3L168.6 331.0L174.1 330.7L179.7 330.2L185.2 329.4L190.8 328.7L196.3 327.6L201.8 326.5L207.4 327.1L212.9 328.2L218.4 329.3L224.0 330.2L229.5 331.0L235.1 331.7L240.6 332.2" stroke="#fff" stroke-width="1.16" opacity="0.71"/>
<path d="M24.6 324.0L30.1 324.9L35.7 325.7L41.2 326.5L46.8 327.2L52.3 327.9L57.8 328.5L63.4 328.9L68.9 329.3L74.4 329.8L80.0 330.2L85.5 330.7L91.1 330.9L96.6 331.0L102.1 331.2L107.7 331.5L113.2 331.7L118.8 331.8L124.3 331.8L129.8 331.9L135.4 332.1L140.9 332.4L146.4 332.6L152.0 332.6L157.5 332.6L163.1 332.7L168.6 332.4L174.1 332.0L179.7 331.5L185.2 330.7L190.8 330.0L196.3 328.9L201.8 327.7L207.4 328.2L212.9 329.4L218.4 330.6L224.0 331.6L229.5 332.4L235.1 333.0L240.6 333.6" stroke="#000" stroke-width="1.11" opacity="0.94"/>
<path d="M24.6 324.6L30.1 325.6L35.7 326.6L41.2 327.5L46.8 328.2L52.3 328.9L57.8 329.5L63.4 330.0L68.9 330.6L74.4 331.1L80.0 331.5L85.5 331.9L91.1 332.3L96.6 332.7L102.1 333.0L107.7 333.1L113.2 333.2L118.8 333.3L124.3 333.4L129.8 333.5L135.4 333.6L140.9 333.6L146.4 333.8L152.0 334.0L157.5 334.0L163.1 334.0L168.6 333.5L174.1 333.0L179.7 332.6L185.2 331.8L190.8 331.0L196.3 329.7L201.8 328.5L207.4 329.2L212.9 330.6L218.4 332.0L224.0 332.9L229.5 333.7L235.1 334.5L240.6 335.3" stroke="#fff" stroke-width="1.01" opacity="0.89"/>
<path d="M24.6 326.1L30.1 327.0L35.7 327.9L41.2 328.6L46.8 329.4L52.3 330.2L57.8 330.9L63.4 331.4L68.9 331.7L74.4 332.0L80.0 332.4L85.5 332.8L91.1 333.1L96.6 333.4L102.1 333.6L107.7 334.0L113.2 334.4L118.8 334.7L124.3 334.8L129.8 334.8L135.4 334.9L140.9 335.2L146.4 335.4L152.0 335.4L157.5 335.5L163.1 335.5L168.6 335.3L174.1 335.0L179.7 334.5L185.2 333.5L190.8 332.5L196.3 331.2L201.8 329.8L207.4 330.3L212.9 331.5L218.4 332.8L224.0 333.9L229.5 334.9L235.1 335.7L240.6 336.4" stroke="#000" stroke-width="1.15" opacity="0.82"/>
<path d="M24.6 326.9L30.1 327.7L35.7 328.5L41.2 329.5L46.8 330.3L52.3 331.2L57.8 331.9L63.4 332.5L68.9 333.2L74.4 333.8L80.0 334.2L85.5 334.5L91.1 334.7L96.6 335.0L102.1 335.3L107.7 335.6L113.2 335.9L118.8 336.1L124.3 336.3L129.8 336.5L135.4 336.6L140.9 336.6L146.4 336.5L152.0 336.5L157.5 336.5L163.1 336.5L168.6 336.1L174.1 335.6L179.7 335.2L185.2 334.5L190.8 333.7L196.3 332.4L201.8 330.9L207.4 331.3L212.9 332.8L218.4 334.2L224.0 335.4L229.5 336.2L235.1 337.1L240.6 338.1" stroke="#fff" stroke-width="1.09" opacity="0.74"/>
<path d="M24.6 327.9L30.1 329.0L35.7 329.9L41.2 330.8L46.8 331.6L52.3 332.5L57.8 333.2L63.4 333.7L68.9 334.2L74.4 334.7L80.0 335.2L85.5 335.8L91.1 336.2L96.6 336.5L102.1 336.7L107.7 337.1L113.2 337.4L118.8 337.5L124.3 337.5L129.8 337.5L135.4 337.6L140.9 337.8L146.4 338.0L152.0 338.0L157.5 338.0L163.1 338.0L168.6 337.6L174.1 337.2L179.7 336.6L185.2 335.5L190.8 334.6L196.3 333.4L201.8 332.1L207.4 332.7L212.9 334.1L218.4 335.6L224.0 336.8L229.5 337.8L235.1 338.6L240.6 339.4" stroke="#000" stroke-width="1.12" opacity="0.91"/>
<path d="M24.6 329.1L30.1 330.0L35.7 331.0L41.2 332.1L46.8 333.1L52.3 333.9L57.8 334.5L63.4 335.0L68.9 335.7L74.4 336.2L80.0 336.6L85.5 337.0L91.1 337.3L96.6 337.7L102.1 338.1L107.7 338.4L113.2 338.5L118.8 338.6L124.3 338.7L129.8 338.8L135.4 338.9L140.9 339.0L146.4 339.1L152.0 339.2L157.5 339.3L163.1 339.4L168.6 339.0L174.1 338.5L179.7 337.9L185.2 337.1L190.8 336.2L196.3 334.8L201.8 333.3L207.4 333.9L212.9 335.5L218.4 337.1L224.0 338.3L229.5 339.2L235.1 339.9L240.6 340.8" stroke="#fff" stroke-width="1.12" opacity="0.75"/>
<path d="M24.6 330.4L30.1 331.4L35.7 332.4L41.2 333.5L46.8 334.4L52.3 335.2L57.8 335.8L63.4 336.3L68.9 336.8L74.4 337.3L80.0 337.7L85.5 338.1L91.1 338.4L96.6 338.7L102.1 339.1L107.7 339.5L113.2 339.6L118.8 339.8L124.3 339.8L129.8 340.0L135.4 340.2L140.9 340.4L146.4 340.5L152.0 340.6L157.5 340.8L163.1 341.0L168.6 340.6L174.1 340.1L179.7 339.5L185.2 338.6L190.8 337.7L196.3 336.2L201.8 334.6L207.4 335.2L212.9 336.8L218.4 338.3L224.0 339.5L229.5 340.4L235.1 341.1L240.6 341.9" stroke="#000" stroke-width="1.08" opacity="0.93"/>
<path d="M24.6 331.6L30.1 332.8L35.7 333.8L41.2 334.6L46.8 335.3L52.3 336.1L57.8 336.9L63.4 337.4L68.9 337.9L74.4 338.4L80.0 338.9L85.5 339.4L91.1 339.8L96.6 340.1L102.1 340.3L107.7 340.5L113.2 340.8L118.8 341.1L124.3 341.3L129.8 341.4L135.4 341.6L140.9 341.9L146.4 342.3L152.0 342.4L157.5 342.3L163.1 342.3L168.6 341.9L174.1 341.4L179.7 340.9L185.2 339.8L190.8 338.8L196.3 337.4L201.8 336.0L207.4 336.6L212.9 338.0L218.4 339.4L224.0 340.5L229.5 341.5L235.1 342.3L240.6 343.2" stroke="#fff" stroke-width="0.97" opacity="0.65"/>
<path d="M24.6 332.3L30.1 333.3L35.7 334.4L41.2 335.5L46.8 336.4L52.3 337.1L57.8 337.8L63.4 338.4L68.9 339.1L74.4 339.7L80.0 340.2L85.5 340.7L91.1 341.1L96.6 341.6L102.1 342.1L107.7 342.4L113.2 342.6L118.8 342.7L124.3 342.9L129.8 343.1L135.4 343.2L140.9 343.3L146.4 343.5L152.0 343.6L157.5 343.7L163.1 343.7L168.6 343.0L174.1 342.4L179.7 341.8L185.2 340.8L190.8 339.8L196.3 338.2L201.8 336.6L207.4 337.3L212.9 339.1L218.4 340.7L224.0 341.9L229.5 342.9L235.1 343.8L240.6 344.8" stroke="#000" stroke-width="1.07" opacity="0.80"/>
<path d="M24.6 333.6L30.1 334.7L35.7 335.8L41.2 336.8L46.8 337.6L52.3 338.5L57.8 339.3L63.4 340.0L68.9 340.5L74.4 340.8L80.0 341.2L85.5 341.7L91.1 342.2L96.6 342.6L102.1 342.9L107.7 343.3L113.2 343.7L118.8 344.1L124.3 344.2L129.8 344.3L135.4 344.4L140.9 344.6L146.4 344.9L152.0 345.0L157.5 345.0L163.1 345.0L168.6 344.6L174.1 344.2L179.7 343.7L185.2 342.5L190.8 341.3L196.3 339.6L201.8 338.0L207.4 338.7L212.9 340.3L218.4 341.8L224.0 343.1L229.5 344.2L235.1 345.2L240.6 346.1" stroke="#fff" stroke-width="1.04" opacity="0.77"/>
<path d="M24.6 334.4L30.1 335.5L35.7 336.7L41.2 337.7L46.8 338.7L52.3 339.8L57.8 340.7L63.4 341.5L68.9 342.1L74.4 342.5L80.0 342.9L85.5 343.5L91.1 343.9L96.6 344.2L102.1 344.4L107.7 344.8L113.2 345.2L118.8 345.5L124.3 345.6L129.8 345.6L135.4 345.6L140.9 345.7L146.4 345.9L152.0 346.0L157.5 345.9L163.1 345.9L168.6 345.6L174.1 345.2L179.7 344.7L185.2 343.6L190.8 342.5L196.3 340.9L201.8 339.3L207.4 340.0L212.9 341.7L218.4 343.3L224.0 344.7L229.5 345.9L235.1 347.0L240.6 347.9" stroke="#000" stroke-width="0.93" opacity="0.71"/>
<path d="M24.6 335.6L30.1 336.8L35.7 338.1L41.2 339.1L46.8 340.0L52.3 340.9L57.8 341.7L63.4 342.5L68.9 343.2L74.4 343.8L80.0 344.3L85.5 344.9L91.1 345.3L96.6 345.7L102.1 345.9L107.7 346.0L113.2 346.3L118.8 346.6L124.3 346.7L129.8 346.8L135.4 346.9L140.9 347.1L146.4 347.4L152.0 347.6L157.5 347.5L163.1 347.4L168.6 346.8L174.1 346.4L179.7 345.9L185.2 344.8L190.8 343.8L196.3 342.2L201.8 340.6L207.4 341.4L212.9 343.2L218.4 344.8L224.0 346.0L229.5 347.1L235.1 348.1L240.6 349.1" stroke="#fff" stroke-width="0.97" opacity="0.77"/>
<path d="M24.6 337.0L30.1 338.1L35.7 339.1L41.2 340.0L46.8 340.8L52.3 341.8L57.8 342.7L63.4 343.4L68.9 344.1L74.4 344.7L80.0 345.3L85.5 346.0L91.1 346.4L96.6 346.6L102.1 346.9L107.7 347.2L113.2 347.7L118.8 348.1L124.3 348.3L129.8 348.5L135.4 348.7L140.9 349.0L146.4 349.3L152.0 349.2L157.5 349.0L163.1 348.9L168.6 348.4L174.1 347.9L179.7 347.3L185.2 346.1L190.8 345.0L196.3 343.4L201.8 341.8L207.4 342.4L212.9 343.9L218.4 345.5L224.0 346.9L229.5 348.0L235.1 349.1L240.6 350.2" stroke="#000" stroke-width="1.15" opacity="0.93"/>
<path d="M24.6 338.1L30.1 339.1L35.7 340.1L41.2 341.1L46.8 342.2L52.3 343.3L57.8 344.2L63.4 344.9L68.9 345.5L74.4 346.0L80.0 346.6L85.5 347.1L91.1 347.3L96.6 347.6L102.1 348.0L107.7 348.5L113.2 349.1L118.8 349.4L124.3 349.6L129.8 349.8L135.4 350.0L140.9 350.3L146.4 350.4L152.0 350.3L157.5 350.3L163.1 350.4L168.6 350.0L174.1 349.5L179.7 348.9L185.2 347.7L190.8 346.5L196.3 344.8L201.8 342.9L207.4 343.4L212.9 345.0L218.4 346.7L224.0 348.3L229.5 349.5L235.1 350.6L240.6 351.6" stroke="#fff" stroke-width="1.19" opacity="0.81"/>
<path d="M24.6 339.2L30.1 340.2L35.7 341.2L41.2 342.3L46.8 343.4L52.3 344.5L57.8 345.4L63.4 346.0L68.9 346.7L74.4 347.3L80.0 347.8L85.5 348.2L91.1 348.5L96.6 348.8L102.1 349.2L107.7 349.8L113.2 350.2L118.8 350.6L124.3 350.7L129.8 351.0L135.4 351.3L140.9 351.5L146.4 351.5L152.0 351.5L157.5 351.5L163.1 351.7L168.6 351.3L174.1 350.7L179.7 350.1L185.2 348.9L190.8 347.8L196.3 346.0L201.8 344.1L207.4 344.6L212.9 346.3L218.4 348.0L224.0 349.6L229.5 350.8L235.1 351.8L240.6 352.9" stroke="#000" stroke-width="1.14" opacity="0.89"/>
<path d="M24.6 340.0L30.1 341.2L35.7 342.5L41.2 343.6L46.8 344.5L52.3 345.4L57.8 346.3L63.4 347.0L68.9 347.6L74.4 348.1L80.0 348.6L85.5 349.2L91.1 349.7L96.6 350.3L102.1 350.7L107.7 351.0L113.2 351.4L118.8 351.7L124.3 352.0L129.8 352.1L135.4 352.2L140.9 352.4L146.4 352.7L152.0 352.9L157.5 352.9L163.1 352.9L168.6 352.3L174.1 351.7L179.7 351.1L185.2 349.9L190.8 348.6L196.3 346.7L201.8 344.9L207.4 345.7L212.9 347.5L218.4 349.3L224.0 350.6L229.5 351.8L235.1 352.9L240.6 354.0" stroke="#fff" stroke-width="0.93" opacity="0.75"/>
<path d="M24.6 341.1L30.1 342.2L35.7 343.2L41.2 344.3L46.8 345.3L52.3 346.5L57.8 347.4L63.4 348.1L68.9 348.7L74.4 349.3L80.0 349.9L85.5 350.5L91.1 350.8L96.6 351.2L102.1 351.6L107.7 352.2L113.2 352.7L118.8 353.1L124.3 353.2L129.8 353.3L135.4 353.5L140.9 353.6L146.4 353.8L152.0 353.7L157.5 353.6L163.1 353.7L168.6 353.3L174.1 352.8L179.7 352.1L185.2 350.8L190.8 349.6L196.3 347.9L201.8 346.0L207.4 346.6L212.9 348.3L218.4 350.1L224.0 351.7L229.5 353.0L235.1 354.2L240.6 355.2" stroke="#000" stroke-width="1.02" opacity="0.90"/>
<path d="M24.6 342.4L30.1 343.5L35.7 344.6L41.2 345.8L46.8 346.8L52.3 347.6L57.8 348.3L63.4 348.9L68.9 349.7L74.4 350.4L80.0 351.0L85.5 351.5L91.1 351.9L96.6 352.3L102.1 352.8L107.7 353.1L113.2 353.4L118.8 353.6L124.3 353.9L129.8 354.2L135.4 354.5L140.9 354.7L146.4 354.9L152.0 355.0L157.5 355.1L163.1 355.1L168.6 354.5L174.1 353.7L179.7 353.0L185.2 351.9L190.8 350.9L196.3 349.1L201.8 347.3L207.4 347.9L212.9 349.7L218.4 351.5L224.0 352.9L229.5 353.8L235.1 354.8L240.6 355.9" stroke="#fff" stroke-width="0.99" opacity="0.94"/>
<path d="M24.6 343.1L30.1 344.3L35.7 345.4L41.2 346.5L46.8 347.5L52.3 348.5L57.8 349.6L63.4 350.3L68.9 351.0L74.4 351.5L80.0 352.0L85.5 352.6L91.1 353.1L96.6 353.4L102.1 353.8L107.7 354.3L113.2 354.8L118.8 355.2L124.3 355.4L129.8 355.5L135.4 355.6L140.9 355.7L146.4 355.9L152.0 355.9L157.5 355.8L163.1 355.8L168.6 355.4L174.1 354.9L179.7 354.3L185.2 353.0L190.8 351.8L196.3 349.9L201.8 348.1L207.4 348.8L212.9 350.6L218.4 352.3L224.0 353.8L229.5 355.1L235.1 356.4L240.6 357.5" stroke="#000" stroke-width="1.03" opacity="0.91"/>
<path d="M24.6 344.4L30.1 345.5L35.7 346.8L41.2 348.0L46.8 349.0L52.3 349.9L57.8 350.6L63.4 351.3L68.9 352.0L74.4 352.6L80.0 353.0L85.5 353.5L91.1 353.9L96.6 354.4L102.1 354.9L107.7 355.3L113.2 355.6L118.8 355.9L124.3 356.1L129.8 356.4L135.4 356.5L140.9 356.7L146.4 356.9L152.0 357.1L157.5 357.2L163.1 357.3L168.6 356.7L174.1 356.1L179.7 355.4L185.2 354.3L190.8 353.1L196.3 351.2L201.8 349.3L207.4 350.0L212.9 351.9L218.4 353.7L224.0 355.1L229.5 356.1L235.1 357.1L240.6 358.2" stroke="#fff" stroke-width="1.05" opacity="0.95"/>
<path d="M24.6 345.5L30.1 346.6L35.7 347.8L41.2 349.1L46.8 350.1L52.3 351.0L57.8 351.8L63.4 352.6L68.9 353.3L74.4 353.8L80.0 354.1L85.5 354.5L91.1 354.9L96.6 355.4L102.1 355.9L107.7 356.3L113.2 356.6L118.8 357.0L124.3 357.2L129.8 357.5L135.4 357.6L140.9 357.7L146.4 357.8L152.0 358.0L157.5 358.2L163.1 358.2L168.6 357.7L174.1 357.2L179.7 356.6L185.2 355.5L190.8 354.3L196.3 352.4L201.8 350.4L207.4 351.1L212.9 353.0L218.4 354.7L224.0 356.1L229.5 357.2L235.1 358.3L240.6 359.5" stroke="#000" stroke-width="0.96" opacity="0.94"/>
<path d="M24.6 346.6L30.1 347.8L35.7 348.9L41.2 350.0L46.8 351.0L52.3 352.1L57.8 353.0L63.4 353.5L68.9 354.1L74.4 354.6L80.0 355.1L85.5 355.8L91.1 356.2L96.6 356.5L102.1 356.9L107.7 357.4L113.2 357.9L118.8 358.3L124.3 358.3L129.8 358.4L135.4 358.6L140.9 358.9L146.4 359.2L152.0 359.2L157.5 359.2L163.1 359.3L168.6 358.9L174.1 358.4L179.7 357.6L185.2 356.3L190.8 355.1L196.3 353.3L201.8 351.5L207.4 352.2L212.9 353.9L218.4 355.6L224.0 357.2L229.5 358.4L235.1 359.5L240.6 360.4" stroke="#fff" stroke-width="1.02" opacity="0.77"/>
<path d="M24.6 347.8L30.1 348.8L35.7 349.9L41.2 351.2L46.8 352.3L52.3 353.3L57.8 354.1L63.4 354.8L68.9 355.5L74.4 356.1L80.0 356.5L85.5 356.9L91.1 357.1L96.6 357.5L102.1 358.0L107.7 358.4L113.2 358.8L118.8 359.1L124.3 359.3L129.8 359.5L135.4 359.7L140.9 359.8L146.4 359.9L152.0 360.0L157.5 360.2L163.1 360.3L168.6 359.9L174.1 359.3L179.7 358.7L185.2 357.7L190.8 356.6L196.3 354.7L201.8 352.7L207.4 353.3L212.9 355.1L218.4 356.9L224.0 358.4L229.5 359.5L235.1 360.5L240.6 361.6" stroke="#000" stroke-width="1.10" opacity="0.72"/>
<path d="M24.6 349.0L30.1 350.2L35.7 351.3L41.2 352.2L46.8 353.1L52.3 354.1L57.8 355.0L63.4 355.6L68.9 356.3L74.4 356.9L80.0 357.5L85.5 358.2L91.1 358.5L96.6 358.7L102.1 359.0L107.7 359.3L113.2 359.8L118.8 360.1L124.3 360.3L129.8 360.5L135.4 360.9L140.9 361.2L146.4 361.5L152.0 361.5L157.5 361.4L163.1 361.3L168.6 360.9L174.1 360.4L179.7 359.7L185.2 358.5L190.8 357.4L196.3 355.7L201.8 354.0L207.4 354.6L212.9 356.2L218.4 357.8L224.0 359.2L229.5 360.4L235.1 361.4L240.6 362.4" stroke="#fff" stroke-width="1.13" opacity="0.93"/>
</g>
<path d="M50.5 280.6L55.5 280.6L70.9 280.6L86.3 280.6L117.2 280.6L148.0 280.6L163.5 280.6L178.9 280.6L191.2 280.6L198.9 280.6L203.6 280.6L209.7 280.6L217.5 280.6L225.2 280.6L225.5 280.6" fill="none" stroke="#f0f0f0" stroke-width="0.70" opacity=".65" stroke-linecap="round"/>
<path d="M50.5 282.6L55.5 282.7L70.9 282.7L86.3 282.8L117.2 282.8L148.0 282.8L163.5 282.8L178.9 282.8L191.2 282.8L198.9 282.7L203.6 282.7L209.7 282.7L217.5 282.8L225.2 282.8L225.5 282.8" fill="none" stroke="#101010" stroke-width="0.85" opacity=".65" stroke-linecap="round"/>
<path d="M50.5 284.3L55.5 284.5L70.9 284.6L86.3 284.6L117.2 284.7L148.0 284.7L163.5 284.7L178.9 284.7L191.2 284.6L198.9 284.5L203.6 284.4L209.7 284.5L217.5 284.6L225.2 284.7L225.5 284.7" fill="none" stroke="#e8e8e8" stroke-width="0.70" opacity=".65" stroke-linecap="round"/>
<path d="M24.6 295.3L28.5 294.5L33.6 294.3L36.6 294.5L39.6 295.8L42.6 298.1L45.1 300.9L47.2 304.4L48.9 308.4L50.7 311.9L52.8 314.5L55.8 316.7L59.8 319.0L64.6 321.6L68.6 323.2L73.7 324.3L78.7 324.6L83.7 324.2L88.7 324.3L92.9 324.4L92.9 324.4L91.9 325.7L89.8 326.9L83.7 326.9L78.7 326.0L73.7 325.6L68.6 324.6L62.8 322.3L57.8 320.7L52.8 319.2L48.7 317.9L45.1 315.4L42.6 312.3L40.6 308.8L38.1 306.3L35.6 304.3L32.6 303.3L28.5 302.6L24.6 302.8ZM104.5 296.4L110.8 295.6L118.8 294.9L125.9 293.9L134.0 293.4L141.0 293.2L145.8 293.4L151.8 293.4L158.9 293.6L165.9 293.9L170.9 294.9L176.1 296.4L181.1 297.2L188.1 297.6L194.1 297.9L198.2 298.4L200.9 299.3L205.0 300.9L205.0 300.9L202.0 301.8L197.9 303.3L194.1 305.8L191.1 309.2L188.1 311.9L182.1 313.5L173.9 314.0L166.9 313.8L161.9 312.4L155.9 311.2L149.8 309.9L145.8 308.3L143.0 306.8L138.0 305.8L131.9 304.3L125.9 302.8L120.8 301.8L118.8 300.3L113.8 299.3L108.8 298.3L104.5 296.4ZM224.0 300.9L228.2 298.4L233.2 296.6L240.6 295.9L240.6 304.1L234.2 303.1L228.2 302.1L224.0 300.9Z" fill="#828282"/>
<path d="M28.5 294.5L33.6 294.3L36.6 294.5L39.6 295.8L42.6 298.1L45.1 300.9L47.2 304.4L48.9 308.4L50.7 311.9L52.8 314.5L55.8 316.7L59.8 319.0L64.6 321.6L68.6 323.2L73.7 324.3L78.7 324.6L83.7 324.2L88.7 324.3L92.9 324.4" fill="none" stroke="#ccc" stroke-width="0.70" opacity="0.70" stroke-linecap="round" stroke-linejoin="round"/>
<path d="M28.5 295.5L33.6 295.3L36.6 295.5L39.6 296.8L42.6 299.1L45.1 301.9L47.2 305.4L48.9 309.4L50.7 312.9L52.8 315.5L55.8 317.7L59.8 320.0L64.6 322.6L68.6 324.2L73.7 325.3L78.7 325.6L83.7 325.2L88.7 325.3L92.9 325.4" fill="none" stroke="#444" stroke-width="0.60" opacity="0.60" stroke-linecap="round" stroke-linejoin="round"/>
<path d="M28.5 302.6L32.6 303.3L35.6 304.3L38.1 306.3L40.6 308.8L42.6 312.3L45.1 315.4L48.7 317.9L52.8 319.2L57.8 320.7L62.8 322.3L68.6 324.6L73.7 325.6L78.7 326.0L83.7 326.9L89.8 326.9L91.9 325.7" fill="none" stroke="#000" stroke-width="1.05" opacity="1.00" stroke-linecap="round" stroke-linejoin="round"/>
<path d="M28.5 303.8L32.6 304.5L35.6 305.5L38.1 307.5L40.6 310.0L42.6 313.5L45.1 316.6L48.7 319.1L52.8 320.4L57.8 321.9L62.8 323.5L68.6 325.8L73.7 326.8L78.7 327.2L83.7 328.1L89.8 328.1L91.9 326.9" fill="none" stroke="#fff" stroke-width="0.90" opacity="0.95" stroke-linecap="round" stroke-linejoin="round"/>
<path d="M104.5 296.4L110.8 295.6L118.8 294.9L125.9 293.9L134.0 293.4L141.0 293.2L145.8 293.4L151.8 293.4L158.9 293.6L165.9 293.9L170.9 294.9L176.1 296.4L181.1 297.2L188.1 297.6L194.1 297.9L198.2 298.4L200.9 299.3L205.0 300.9" fill="none" stroke="#e8e8e8" stroke-width=".8" stroke-dasharray="1.6 1.4" opacity=".8"/>
<path d="M104.5 296.4L108.8 298.3L113.8 299.3L118.8 300.3L120.8 301.8L125.9 302.8L131.9 304.3L138.0 305.8L143.0 306.8L145.8 308.3L149.8 309.9L155.9 311.2L161.9 312.4L166.9 313.8L173.9 314.0L182.1 313.5L188.1 311.9L191.1 309.2L194.1 305.8L197.9 303.3L202.0 301.8L205.0 300.9" fill="none" stroke="#222" stroke-width="0.80" opacity="0.90" stroke-linecap="round" stroke-linejoin="round"/>
<path d="M104.5 297.5L108.8 299.4L113.8 300.4L118.8 301.4L120.8 302.9L125.9 303.9L131.9 305.4L138.0 306.9L143.0 307.9L145.8 309.4L149.8 311.0L155.9 312.3L161.9 313.5L166.9 314.9L173.9 315.1L182.1 314.6L188.1 313.0L191.1 310.3L194.1 306.9L197.9 304.4L202.0 302.9L205.0 302.0" fill="none" stroke="#e4e4e4" stroke-width="0.80" opacity="0.80" stroke-linecap="round" stroke-linejoin="round"/>
<path d="M224.0 300.9L228.2 298.4L233.2 296.6L240.6 295.9" fill="none" stroke="#d8d8d8" stroke-width="0.70" opacity="0.70" stroke-linecap="round" stroke-linejoin="round"/>
<path d="M224.0 300.9L228.2 302.1L234.2 303.1L240.6 304.1" fill="none" stroke="#444" stroke-width="0.60" opacity="0.60" stroke-linecap="round" stroke-linejoin="round"/>
<clipPath id="sse"><path d="M104.5 298.4L108.8 300.3L113.8 301.3L118.8 302.3L120.8 303.8L125.9 304.8L131.9 306.3L138.0 307.8L143.0 308.8L145.8 310.3L149.8 311.9L155.9 313.2L161.9 314.4L166.9 315.8L173.9 316.0L182.1 315.5L188.1 313.9L191.1 311.2L194.1 307.8L197.9 305.3L200.6 320.5L200.6 343.9L104.5 343.9Z"/></clipPath>
<linearGradient id="age" gradientUnits="userSpaceOnUse" x1="119.6" x2="175.8" y1="0" y2="0"><stop offset="0" stop-color="#000"/><stop offset="1" stop-color="#fff"/></linearGradient>
<mask id="ame" maskUnits="userSpaceOnUse" x="24.6" y="277.3" width="216.0" height="72.0"><rect x="24.6" y="277.3" width="216.0" height="72.0" fill="url(#age)"/></mask>
<g clip-path="url(#sse)"><g mask="url(#ame)" fill="none" opacity="0.55">
<path d="M111.0 317.6Q171.5 318.7 203.9 300.3" stroke="#303030" stroke-width=".8"/>
<path d="M111.0 319.5Q171.5 320.6 203.9 302.2" stroke="#e0e0e0" stroke-width=".8"/>
<path d="M111.0 321.4Q171.5 322.4 203.9 304.1" stroke="#303030" stroke-width=".8"/>
<path d="M111.0 323.2Q171.5 324.3 203.9 306.0" stroke="#e0e0e0" stroke-width=".8"/>
<path d="M111.0 325.1Q171.5 326.2 203.9 307.8" stroke="#303030" stroke-width=".8"/>
<path d="M111.0 327.0Q171.5 328.1 203.9 309.7" stroke="#e0e0e0" stroke-width=".8"/>
<path d="M111.0 328.9Q171.5 329.9 203.9 311.6" stroke="#303030" stroke-width=".8"/>
<path d="M111.0 330.7Q171.5 331.8 203.9 313.4" stroke="#e0e0e0" stroke-width=".8"/>
<path d="M111.0 332.6Q171.5 333.7 203.9 315.3" stroke="#303030" stroke-width=".8"/>
<path d="M111.0 334.5Q171.5 335.5 203.9 317.2" stroke="#e0e0e0" stroke-width=".8"/>
<path d="M111.0 336.3Q171.5 337.4 203.9 319.1" stroke="#303030" stroke-width=".8"/>
<path d="M111.0 338.2Q171.5 339.3 203.9 320.9" stroke="#e0e0e0" stroke-width=".8"/>
<path d="M111.0 340.1Q171.5 341.2 203.9 322.8" stroke="#303030" stroke-width=".8"/>
<path d="M111.0 342.0Q171.5 343.0 203.9 324.7" stroke="#e0e0e0" stroke-width=".8"/>
<path d="M111.0 343.8Q171.5 344.9 203.9 326.5" stroke="#303030" stroke-width=".8"/>
<path d="M111.0 345.7Q171.5 346.8 203.9 328.4" stroke="#e0e0e0" stroke-width=".8"/>
<path d="M111.0 347.6Q171.5 348.7 203.9 330.3" stroke="#303030" stroke-width=".8"/>
<path d="M111.0 349.4Q171.5 350.5 203.9 332.2" stroke="#e0e0e0" stroke-width=".8"/>
<path d="M111.0 351.3Q171.5 352.4 203.9 334.0" stroke="#303030" stroke-width=".8"/>
<path d="M111.0 353.2Q171.5 354.3 203.9 335.9" stroke="#e0e0e0" stroke-width=".8"/>
<path d="M111.0 355.1Q171.5 356.1 203.9 337.8" stroke="#303030" stroke-width=".8"/>
<path d="M111.0 356.9Q171.5 358.0 203.9 339.7" stroke="#e0e0e0" stroke-width=".8"/>
</g></g>
<path d="M92.6 325.2L102.4 329.1L115.3 334.9L130.4 342.5" fill="none" stroke="#222" stroke-width="0.60" opacity="0.70" stroke-linecap="round" stroke-linejoin="round"/>
<path d="M92.6 326.0L102.4 329.9L115.3 335.7L130.4 343.3" fill="none" stroke="#ddd" stroke-width="0.60" opacity="0.60" stroke-linecap="round" stroke-linejoin="round"/>
<rect x="24.6" y="344.0" width="216.0" height=".8" fill="#2c2c2c"/>
<rect x="24.6" y="345.0" width="216.0" height="1.5" fill="#b4b4b4"/>
<rect x="24.6" y="346.5" width="216.0" height="2.8" fill="#7e7e7e"/>
</g>
<rect x="254.2" y="277.3" width="3.8" height="72.0" fill="url(#gg)" stroke="#555" stroke-width=".3"/>
<text class="t" x="132.6" y="275.5" font-size="4.60" text-anchor="middle">RTM initial image with multiples using true band-limited reflectivity</text>
<text class="t" x="132.6" y="361.1" font-size="4.60" text-anchor="middle">Horizontal distance (m)</text>
<text class="t" font-size="4.60" text-anchor="middle" transform="translate(8.3 314.3) rotate(-90)">Depth (m)</text>
<text class="t" x="24.6" y="355.9" font-size="4.50" text-anchor="middle">0</text>
<path d="M24.6 349.3v1.3" stroke="#333" stroke-width=".35"/>
<text class="t" x="55.5" y="355.9" font-size="4.50" text-anchor="middle">2000</text>
<path d="M55.5 349.3v1.3" stroke="#333" stroke-width=".35"/>
<text class="t" x="86.3" y="355.9" font-size="4.50" text-anchor="middle">4000</text>
<path d="M86.3 349.3v1.3" stroke="#333" stroke-width=".35"/>
<text class="t" x="117.2" y="355.9" font-size="4.50" text-anchor="middle">6000</text>
<path d="M117.2 349.3v1.3" stroke="#333" stroke-width=".35"/>
<text class="t" x="148.0" y="355.9" font-size="4.50" text-anchor="middle">8000</text>
<path d="M148.0 349.3v1.3" stroke="#333" stroke-width=".35"/>
<text class="t" x="178.9" y="355.9" font-size="4.50" text-anchor="middle">10000</text>
<path d="M178.9 349.3v1.3" stroke="#333" stroke-width=".35"/>
<text class="t" x="209.7" y="355.9" font-size="4.50" text-anchor="middle">12000</text>
<path d="M209.7 349.3v1.3" stroke="#333" stroke-width=".35"/>
<text class="t" x="240.6" y="355.9" font-size="4.50" text-anchor="middle">14000</text>
<path d="M240.6 349.3v1.3" stroke="#333" stroke-width=".35"/>
<text class="t" x="22.4" y="292.8" font-size="4.50" text-anchor="end">1000</text>
<path d="M24.6 291.1h-1.3" stroke="#333" stroke-width=".35"/>
<text class="t" x="22.4" y="308.2" font-size="4.50" text-anchor="end">2000</text>
<path d="M24.6 306.5h-1.3" stroke="#333" stroke-width=".35"/>
<text class="t" x="22.4" y="323.6" font-size="4.50" text-anchor="end">3000</text>
<path d="M24.6 322.0h-1.3" stroke="#333" stroke-width=".35"/>
<text class="t" x="22.4" y="339.0" font-size="4.50" text-anchor="end">4000</text>
<path d="M24.6 337.4h-1.3" stroke="#333" stroke-width=".35"/>
<text class="t" x="260.4" y="290.8" font-size="4.50">0.2</text>
<path d="M258.0 288.6h1.2" stroke="#333" stroke-width=".35"/>
<text class="t" x="260.4" y="303.1" font-size="4.50">0.1</text>
<path d="M258.0 300.9h1.2" stroke="#333" stroke-width=".35"/>
<text class="t" x="260.4" y="315.5" font-size="4.50">0.0</text>
<path d="M258.0 313.3h1.2" stroke="#333" stroke-width=".35"/>
<text class="t" x="260.4" y="327.9" font-size="4.50">−0.1</text>
<path d="M258.0 325.7h1.2" stroke="#333" stroke-width=".35"/>
<text class="t" x="260.4" y="340.2" font-size="4.50">−0.2</text>
<path d="M258.0 338.0h1.2" stroke="#333" stroke-width=".35"/>
<text class="c" x="138.4" y="382.5" font-size="12.6" text-anchor="middle">(<tspan font-weight="bold">e</tspan>)</text>
<g clip-path="url(#cpf)">
<rect x="299.1" y="277.6" width="215.5" height="71.7" fill="#440154"/>
<path d="M299.1 277.6L314.5 277.6L329.9 277.6L345.3 277.6L360.7 277.6L391.5 277.6L422.2 277.6L437.6 277.6L453.0 277.6L465.3 277.6L473.0 277.6L477.7 277.6L483.8 277.6L491.5 277.6L499.2 277.6L514.6 277.6L514.6 370.8L299.1 370.8Z" fill="#440256"/>
<path d="M299.1 279.0L314.5 279.0L329.9 279.0L345.3 279.0L360.7 279.0L391.5 279.0L422.2 279.0L437.6 279.0L453.0 279.0L465.3 279.0L473.0 279.0L477.7 279.0L483.8 279.0L491.5 279.0L499.2 279.0L514.6 279.0L514.6 370.8L299.1 370.8Z" fill="#450559"/>
<path d="M299.1 280.5L314.5 280.5L329.9 280.5L345.3 280.5L360.7 280.5L391.5 280.5L422.2 280.5L437.6 280.5L453.0 280.5L465.3 280.5L473.0 280.5L477.7 280.5L483.8 280.5L491.5 280.5L499.2 280.5L514.6 280.5L514.6 370.8L299.1 370.8Z" fill="#460a5d"/>
<path d="M299.1 281.9L314.5 281.9L329.9 281.9L345.3 281.9L360.7 281.9L391.5 281.9L422.2 281.9L437.6 281.9L453.0 281.9L465.3 281.9L473.0 281.9L477.7 281.9L483.8 281.9L491.5 281.9L499.2 281.9L514.6 281.9L514.6 370.8L299.1 370.8Z" fill="#470d60"/>
<path d="M299.1 283.3L314.5 283.4L329.9 283.4L345.3 283.4L360.7 283.4L391.5 283.4L422.2 283.4L437.6 283.4L453.0 283.4L465.3 283.4L473.0 283.4L477.7 283.4L483.8 283.4L491.5 283.4L499.2 283.4L514.6 283.4L514.6 370.8L299.1 370.8Z" fill="#471164"/>
<path d="M299.1 284.8L314.5 284.8L329.9 284.8L345.3 284.9L360.7 284.9L391.5 284.9L422.2 284.9L437.6 284.9L453.0 284.9L465.3 284.9L473.0 284.8L477.7 284.8L483.8 284.8L491.5 284.9L499.2 284.9L514.6 284.9L514.6 370.8L299.1 370.8Z" fill="#481668"/>
<path d="M299.1 286.2L314.5 286.3L329.9 286.3L345.3 286.3L360.7 286.4L391.5 286.4L422.2 286.4L437.6 286.4L453.0 286.4L465.3 286.3L473.0 286.3L477.7 286.3L483.8 286.3L491.5 286.3L499.2 286.4L514.6 286.4L514.6 370.8L299.1 370.8Z" fill="#481b6d"/>
<path d="M299.1 287.6L314.5 287.7L329.9 287.8L345.3 287.8L360.7 287.8L391.5 287.9L422.2 287.9L437.6 287.9L453.0 287.9L465.3 287.8L473.0 287.8L477.7 287.7L483.8 287.8L491.5 287.8L499.2 287.9L514.6 287.9L514.6 370.8L299.1 370.8Z" fill="#482173"/>
<path d="M299.1 289.1L314.5 289.2L329.9 289.2L345.3 289.3L360.7 289.3L391.5 289.4L422.2 289.4L437.6 289.4L453.0 289.4L465.3 289.3L473.0 289.2L477.7 289.2L483.8 289.3L491.5 289.3L499.2 289.4L514.6 289.5L514.6 370.8L299.1 370.8Z" fill="#482677"/>
<path d="M299.1 290.5L314.5 290.6L329.9 290.7L345.3 290.8L360.7 290.8L391.5 290.9L422.2 290.9L437.6 290.9L453.0 290.9L465.3 290.8L473.0 290.7L477.7 290.7L483.8 290.7L491.5 290.8L499.2 290.9L514.6 291.0L514.6 370.8L299.1 370.8Z" fill="#472c7a"/>
<path d="M299.1 291.9L314.5 292.1L329.9 292.2L345.3 292.3L360.7 292.3L391.5 292.4L422.2 292.4L437.6 292.4L453.0 292.4L465.3 292.3L473.0 292.2L477.7 292.1L483.8 292.2L491.5 292.3L499.2 292.4L514.6 292.5L514.6 370.8L299.1 370.8Z" fill="#46307e"/>
<path d="M299.1 293.4L314.5 293.5L329.9 293.7L345.3 293.7L360.7 293.8L391.5 293.9L422.2 294.0L437.6 294.0L453.0 293.9L465.3 293.8L473.0 293.7L477.7 293.6L483.8 293.7L491.5 293.8L499.2 293.9L514.6 294.0L514.6 370.8L299.1 370.8Z" fill="#453781"/>
<path d="M299.1 294.8L314.5 295.0L329.9 295.1L345.3 295.2L360.7 295.3L391.5 295.4L422.2 295.5L437.6 295.5L453.0 295.4L465.3 295.3L473.0 295.1L477.7 295.0L483.8 295.2L491.5 295.3L499.2 295.4L514.6 295.6L514.6 370.8L299.1 370.8Z" fill="#443b84"/>
<path d="M299.1 296.2L314.5 296.4L329.9 296.6L345.3 296.7L360.7 296.8L391.5 296.9L422.2 297.0L437.6 297.0L453.0 296.9L465.3 296.8L473.0 296.6L477.7 296.5L483.8 296.6L491.5 296.8L499.2 296.9L514.6 297.1L514.6 370.8L299.1 370.8Z" fill="#424186"/>
<path d="M299.1 297.7L314.5 297.9L329.9 298.1L345.3 298.2L360.7 298.3L391.5 298.4L422.2 298.5L437.6 298.5L453.0 298.4L465.3 298.2L473.0 298.1L477.7 298.0L483.8 298.1L491.5 298.3L499.2 298.4L514.6 298.6L514.6 370.8L299.1 370.8Z" fill="#404688"/>
<path d="M299.1 299.1L314.5 299.3L329.9 299.6L345.3 299.7L360.7 299.8L391.5 300.0L422.2 300.0L437.6 300.0L453.0 299.9L465.3 299.7L473.0 299.6L477.7 299.4L483.8 299.6L491.5 299.8L499.2 299.9L514.6 300.2L514.6 370.8L299.1 370.8Z" fill="#3e4c8a"/>
<path d="M299.1 300.5L314.5 300.8L329.9 301.0L345.3 301.2L360.7 301.3L391.5 301.5L422.2 301.6L437.6 301.6L453.0 301.4L465.3 301.2L473.0 301.0L477.7 300.9L483.8 301.1L491.5 301.3L499.2 301.4L514.6 301.7L514.6 370.8L299.1 370.8Z" fill="#3c508b"/>
<path d="M299.1 302.0L314.5 302.3L329.9 302.5L345.3 302.7L360.7 302.8L391.5 303.0L422.2 303.1L437.6 303.1L453.0 303.0L465.3 302.7L473.0 302.5L477.7 302.4L483.8 302.6L491.5 302.8L499.2 303.0L514.6 303.2L514.6 370.8L299.1 370.8Z" fill="#39558c"/>
<path d="M299.1 303.4L314.5 303.7L329.9 304.0L345.3 304.2L360.7 304.3L391.5 304.5L422.2 304.6L437.6 304.6L453.0 304.5L465.3 304.2L473.0 304.0L477.7 303.8L483.8 304.0L491.5 304.3L499.2 304.5L514.6 304.8L514.6 370.8L299.1 370.8Z" fill="#375b8d"/>
<path d="M299.1 304.8L314.5 305.2L329.9 305.5L345.3 305.7L360.7 305.8L391.5 306.0L422.2 306.1L437.6 306.1L453.0 306.0L465.3 305.7L473.0 305.5L477.7 305.3L483.8 305.5L491.5 305.8L499.2 306.0L514.6 306.3L514.6 370.8L299.1 370.8Z" fill="#355f8d"/>
<path d="M299.1 306.3L314.5 306.6L329.9 306.9L345.3 307.2L360.7 307.3L391.5 307.6L422.2 307.7L437.6 307.7L453.0 307.5L465.3 307.2L473.0 306.9L477.7 306.8L483.8 307.0L491.5 307.3L499.2 307.5L514.6 307.8L514.6 370.8L299.1 370.8Z" fill="#32648e"/>
<path d="M299.1 307.7L314.5 308.1L329.9 308.4L345.3 308.7L360.7 308.8L391.5 309.1L422.2 309.2L437.6 309.2L453.0 309.0L465.3 308.7L473.0 308.4L477.7 308.2L483.8 308.5L491.5 308.8L499.2 309.0L514.6 309.4L514.6 370.8L299.1 370.8Z" fill="#31688e"/>
<path d="M299.1 309.1L314.5 309.6L329.9 309.9L345.3 310.2L360.7 310.4L391.5 310.6L422.2 310.7L437.6 310.7L453.0 310.5L465.3 310.2L473.0 309.9L477.7 309.7L483.8 310.0L491.5 310.3L499.2 310.5L514.6 310.9L514.6 370.8L299.1 370.8Z" fill="#2e6d8e"/>
<path d="M299.1 310.6L314.5 311.0L329.9 311.4L345.3 311.7L360.7 311.9L391.5 312.1L422.2 312.3L437.6 312.3L453.0 312.1L465.3 311.7L473.0 311.4L477.7 311.2L483.8 311.5L491.5 311.8L499.2 312.1L514.6 312.5L514.6 370.8L299.1 370.8Z" fill="#2d718e"/>
<path d="M299.1 312.0L314.5 312.5L329.9 312.9L345.3 313.2L360.7 313.4L391.5 313.7L422.2 313.8L437.6 313.8L453.0 313.6L465.3 313.2L473.0 312.9L477.7 312.7L483.8 312.9L491.5 313.3L499.2 313.6L514.6 314.0L514.6 370.8L299.1 370.8Z" fill="#2b758e"/>
<path d="M299.1 313.5L314.5 313.9L329.9 314.4L345.3 314.7L360.7 314.9L391.5 315.2L422.2 315.3L437.6 315.3L453.0 315.1L465.3 314.7L473.0 314.4L477.7 314.1L483.8 314.4L491.5 314.8L499.2 315.1L514.6 315.6L514.6 370.8L299.1 370.8Z" fill="#297a8e"/>
<path d="M299.1 314.9L314.5 315.4L329.9 315.8L345.3 316.2L360.7 316.4L391.5 316.7L422.2 316.9L437.6 316.9L453.0 316.6L465.3 316.2L473.0 315.8L477.7 315.6L483.8 315.9L491.5 316.3L499.2 316.6L514.6 317.1L514.6 370.8L299.1 370.8Z" fill="#277e8e"/>
<path d="M299.1 316.3L314.5 316.9L329.9 317.3L345.3 317.7L360.7 317.9L391.5 318.2L422.2 318.4L437.6 318.4L453.0 318.2L465.3 317.7L473.0 317.3L477.7 317.1L483.8 317.4L491.5 317.8L499.2 318.2L514.6 318.7L514.6 370.8L299.1 370.8Z" fill="#26828e"/>
<path d="M299.1 317.8L314.5 318.3L329.9 318.8L345.3 319.2L360.7 319.4L391.5 319.8L422.2 319.9L437.6 319.9L453.0 319.7L465.3 319.2L473.0 318.8L477.7 318.5L483.8 318.9L491.5 319.3L499.2 319.7L514.6 320.2L514.6 370.8L299.1 370.8Z" fill="#24868e"/>
<path d="M299.1 319.2L314.5 319.8L329.9 320.3L345.3 320.7L360.7 320.9L391.5 321.3L422.2 321.5L437.6 321.5L453.0 321.2L465.3 320.7L473.0 320.3L477.7 320.0L483.8 320.4L491.5 320.8L499.2 321.2L514.6 321.7L514.6 370.8L299.1 370.8Z" fill="#228b8d"/>
<path d="M299.1 320.6L314.5 321.2L329.9 321.8L345.3 322.2L360.7 322.4L391.5 322.8L422.2 323.0L437.6 323.0L453.0 322.7L465.3 322.2L473.0 321.8L477.7 321.5L483.8 321.9L491.5 322.3L499.2 322.7L514.6 323.3L514.6 370.8L299.1 370.8Z" fill="#218f8d"/>
<path d="M299.1 322.1L314.5 322.7L329.9 323.3L345.3 323.7L360.7 324.0L391.5 324.4L422.2 324.6L437.6 324.6L453.0 324.3L465.3 323.8L473.0 323.3L477.7 323.0L483.8 323.4L491.5 323.9L499.2 324.3L514.6 324.9L514.6 370.8L299.1 370.8Z" fill="#20938c"/>
<path d="M299.1 323.5L314.5 324.2L329.9 324.7L345.3 325.2L360.7 325.5L391.5 325.9L422.2 326.1L437.6 326.1L453.0 325.8L465.3 325.3L473.0 324.7L477.7 324.4L483.8 324.8L491.5 325.4L499.2 325.8L514.6 326.4L514.6 370.8L299.1 370.8Z" fill="#1f988b"/>
<path d="M299.1 324.9L314.5 325.6L329.9 326.2L345.3 326.7L360.7 327.0L391.5 327.4L422.2 327.6L437.6 327.6L453.0 327.3L465.3 326.8L473.0 326.2L477.7 325.9L483.8 326.3L491.5 326.9L499.2 327.3L514.6 328.0L514.6 370.8L299.1 370.8Z" fill="#1e9c89"/>
<path d="M299.1 326.4L314.5 327.1L329.9 327.7L345.3 328.2L360.7 328.5L391.5 328.9L422.2 329.2L437.6 329.2L453.0 328.8L465.3 328.3L473.0 327.7L477.7 327.4L483.8 327.8L491.5 328.4L499.2 328.8L514.6 329.5L514.6 370.8L299.1 370.8Z" fill="#1fa188"/>
<path d="M299.1 327.8L314.5 328.5L329.9 329.2L345.3 329.7L360.7 330.0L391.5 330.5L422.2 330.7L437.6 330.7L453.0 330.4L465.3 329.8L473.0 329.2L477.7 328.8L483.8 329.3L491.5 329.9L499.2 330.4L514.6 331.1L514.6 370.8L299.1 370.8Z" fill="#20a486"/>
<path d="M299.1 329.2L314.5 330.0L329.9 330.7L345.3 331.2L360.7 331.5L391.5 332.0L422.2 332.3L437.6 332.3L453.0 331.9L465.3 331.3L473.0 330.7L477.7 330.3L483.8 330.8L491.5 331.4L499.2 331.9L514.6 332.6L514.6 370.8L299.1 370.8Z" fill="#23a983"/>
<path d="M299.1 330.7L314.5 331.5L329.9 332.2L345.3 332.7L360.7 333.0L391.5 333.5L422.2 333.8L437.6 333.8L453.0 333.4L465.3 332.8L473.0 332.2L477.7 331.8L483.8 332.3L491.5 332.9L499.2 333.4L514.6 334.2L514.6 370.8L299.1 370.8Z" fill="#26ad81"/>
<path d="M299.1 332.1L314.5 332.9L329.9 333.7L345.3 334.2L360.7 334.6L391.5 335.1L422.2 335.3L437.6 335.3L453.0 335.0L465.3 334.3L473.0 333.7L477.7 333.3L483.8 333.8L491.5 334.4L499.2 335.0L514.6 335.7L514.6 370.8L299.1 370.8Z" fill="#2cb17e"/>
<path d="M299.1 333.5L314.5 334.4L329.9 335.1L345.3 335.7L360.7 336.1L391.5 336.6L422.2 336.9L437.6 336.9L453.0 336.5L465.3 335.8L473.0 335.1L477.7 334.7L483.8 335.3L491.5 335.9L499.2 336.5L514.6 337.3L514.6 370.8L299.1 370.8Z" fill="#34b679"/>
<path d="M299.1 335.0L314.5 335.8L329.9 336.6L345.3 337.2L360.7 337.6L391.5 338.2L422.2 338.4L437.6 338.4L453.0 338.0L465.3 337.3L473.0 336.6L477.7 336.2L483.8 336.8L491.5 337.5L499.2 338.0L514.6 338.8L514.6 370.8L299.1 370.8Z" fill="#3bbb75"/>
<path d="M299.1 336.4L314.5 337.3L329.9 338.1L345.3 338.7L360.7 339.1L391.5 339.7L422.2 340.0L437.6 340.0L453.0 339.5L465.3 338.8L473.0 338.1L477.7 337.7L483.8 338.3L491.5 339.0L499.2 339.5L514.6 340.4L514.6 370.8L299.1 370.8Z" fill="#46c06f"/>
<path d="M299.1 337.8L314.5 338.8L329.9 339.6L345.3 340.2L360.7 340.6L391.5 341.2L422.2 341.5L437.6 341.5L453.0 341.1L465.3 340.3L473.0 339.6L477.7 339.2L483.8 339.7L491.5 340.5L499.2 341.1L514.6 342.0L514.6 370.8L299.1 370.8Z" fill="#50c46a"/>
<path d="M299.1 339.3L314.5 340.2L329.9 341.1L345.3 341.7L360.7 342.1L391.5 342.7L422.2 343.0L437.6 343.0L453.0 342.6L465.3 341.8L473.0 341.1L477.7 340.6L483.8 341.2L491.5 342.0L499.2 342.6L514.6 343.5L514.6 370.8L299.1 370.8Z" fill="#5ac864"/>
<path d="M299.1 340.7L314.5 341.7L329.9 342.5L345.3 343.1L360.7 343.5L391.5 344.1L422.2 344.4L437.6 344.4L453.0 344.0L465.3 343.2L473.0 342.5L477.7 342.0L483.8 342.6L491.5 343.4L499.2 344.0L514.6 344.9L514.6 370.8L299.1 370.8Z" fill="#67cc5c"/>
<path d="M299.1 342.1L314.5 343.1L329.9 343.9L345.3 344.5L360.7 345.0L391.5 345.6L422.2 345.9L437.6 345.9L453.0 345.4L465.3 344.7L473.0 343.9L477.7 343.5L483.8 344.1L491.5 344.8L499.2 345.4L514.6 346.3L514.6 370.8L299.1 370.8Z" fill="#73d056"/>
<path d="M299.1 343.6L314.5 344.5L329.9 345.4L345.3 346.0L360.7 346.4L391.5 347.0L422.2 347.3L437.6 347.3L453.0 346.9L465.3 346.1L473.0 345.4L477.7 344.9L483.8 345.5L491.5 346.3L499.2 346.9L514.6 347.8L514.6 370.8L299.1 370.8Z" fill="#81d34d"/>
<path d="M299.1 345.0L314.5 346.0L329.9 346.8L345.3 347.4L360.7 347.8L391.5 348.4L422.2 348.7L437.6 348.7L453.0 348.3L465.3 347.5L473.0 346.8L477.7 346.3L483.8 346.9L491.5 347.7L499.2 348.3L514.6 349.2L514.6 370.8L299.1 370.8Z" fill="#8ed645"/>
<path d="M299.1 346.4L314.5 347.4L329.9 348.2L345.3 348.8L360.7 349.3L391.5 349.9L422.2 350.2L437.6 350.2L453.0 349.7L465.3 349.0L473.0 348.2L477.7 347.8L483.8 348.4L491.5 349.1L499.2 349.7L514.6 350.6L514.6 370.8L299.1 370.8Z" fill="#93d741"/>
<path d="M299.1 347.9L314.5 348.8L329.9 349.7L345.3 350.3L360.7 350.7L391.5 351.3L422.2 351.6L437.6 351.6L453.0 351.2L465.3 350.4L473.0 349.7L477.7 349.2L483.8 349.8L491.5 350.6L499.2 351.2L514.6 352.1L514.6 370.8L299.1 370.8Z" fill="#95d840"/>
<path d="M299.1 349.3L314.5 350.3L329.9 351.1L345.3 351.7L360.7 352.1L391.5 352.8L422.2 353.1L437.6 353.1L453.0 352.6L465.3 351.9L473.0 351.1L477.7 350.6L483.8 351.2L491.5 352.0L499.2 352.6L514.6 353.5L514.6 370.8L299.1 370.8Z" fill="#9bd93c"/>
<path d="M299.1 350.7L314.5 351.7L329.9 352.5L345.3 353.1L360.7 353.6L391.5 354.2L422.2 354.5L437.6 354.5L453.0 354.0L465.3 353.3L473.0 352.5L477.7 352.1L483.8 352.7L491.5 353.4L499.2 354.0L514.6 354.9L514.6 370.8L299.1 370.8Z" fill="#a0da39"/>
<path d="M299.1 352.2L314.5 353.1L329.9 354.0L345.3 354.6L360.7 355.0L391.5 355.6L422.2 355.9L437.6 355.9L453.0 355.5L465.3 354.7L473.0 354.0L477.7 353.5L483.8 354.1L491.5 354.9L499.2 355.5L514.6 356.4L514.6 370.8L299.1 370.8Z" fill="#a5db36"/>
<path d="M299.1 353.6L314.5 354.6L329.9 355.4L345.3 356.0L360.7 356.5L391.5 357.1L422.2 357.4L437.6 357.4L453.0 356.9L465.3 356.2L473.0 355.4L477.7 355.0L483.8 355.6L491.5 356.3L499.2 356.9L514.6 357.8L514.6 370.8L299.1 370.8Z" fill="#aadc32"/>
<path d="M299.1 355.0L314.5 356.0L329.9 356.8L345.3 357.4L360.7 357.9L391.5 358.5L422.2 358.8L437.6 358.8L453.0 358.3L465.3 357.6L473.0 356.8L477.7 356.4L483.8 357.0L491.5 357.7L499.2 358.3L514.6 359.2L514.6 370.8L299.1 370.8Z" fill="#addc30"/>
<path d="M299.1 302.0L314.5 302.9L329.9 303.8L345.3 304.3L360.7 304.8L391.5 305.4L422.2 305.7L437.6 305.7L453.0 305.2L465.3 304.5L473.0 303.8L477.7 303.3L483.8 303.9L491.5 304.6L499.2 305.2L514.6 306.1M299.1 307.7L314.5 309.0L329.9 310.1L345.3 310.9L360.7 311.5L391.5 312.3L422.2 312.7L437.6 312.7L453.0 312.1L465.3 311.1L473.0 310.1L477.7 309.5L483.8 310.3L491.5 311.3L499.2 312.1L514.6 313.3M299.1 313.4L314.5 315.1L329.9 316.5L345.3 317.5L360.7 318.2L391.5 319.2L422.2 319.7L437.6 319.7L453.0 319.0L465.3 317.7L473.0 316.5L477.7 315.7L483.8 316.7L491.5 318.0L499.2 319.0L514.6 320.5M299.1 319.2L314.5 321.1L329.9 322.8L345.3 324.1L360.7 325.0L391.5 326.2L422.2 326.8L437.6 326.8L453.0 325.9L465.3 324.4L473.0 322.8L477.7 321.9L483.8 323.2L491.5 324.7L499.2 325.9L514.6 327.7M299.1 324.9L314.5 327.2L329.9 329.3L345.3 330.7L360.7 331.8L391.5 333.2L422.2 334.0L437.6 334.0L453.0 332.9L465.3 331.1L473.0 329.3L477.7 328.2L483.8 329.6L491.5 331.4L499.2 332.9L514.6 335.0M299.1 330.7L314.5 333.3L329.9 335.7L345.3 337.4L360.7 338.6L391.5 340.3L422.2 341.1L437.6 341.1L453.0 339.9L465.3 337.8L473.0 335.7L477.7 334.4L483.8 336.1L491.5 338.2L499.2 339.9L514.6 342.4M299.1 336.4L314.5 339.5L329.9 342.1L345.3 344.0L360.7 345.5L391.5 347.4L422.2 348.3L437.6 348.3L453.0 346.9L465.3 344.5L473.0 342.1L477.7 340.7L483.8 342.6L491.5 345.0L499.2 346.9L514.6 349.8M299.1 342.1L314.5 345.3L329.9 348.1L345.3 350.1L360.7 351.6L391.5 353.6L422.2 354.6L437.6 354.6L453.0 353.1L465.3 350.6L473.0 348.1L477.7 346.6L483.8 348.6L491.5 351.1L499.2 353.1L514.6 356.1M299.1 347.9L314.5 351.1L329.9 353.9L345.3 355.9L360.7 357.4L391.5 359.4L422.2 360.4L437.6 360.4L453.0 358.9L465.3 356.4L473.0 353.9L477.7 352.4L483.8 354.4L491.5 356.9L499.2 358.9L514.6 361.9" fill="none" stroke="#fff" stroke-width="1.4" opacity=".07"/>
<path d="M299.1 299.1L314.5 299.9L329.9 300.6L345.3 301.1L360.7 301.5L391.5 302.0L422.2 302.2L437.6 302.2L453.0 301.8L465.3 301.2L473.0 300.6L477.7 300.2L483.8 300.7L491.5 301.3L499.2 301.8L514.6 302.6M299.1 304.8L314.5 306.0L329.9 306.9L345.3 307.6L360.7 308.1L391.5 308.8L422.2 309.2L437.6 309.2L453.0 308.6L465.3 307.8L473.0 306.9L477.7 306.4L483.8 307.1L491.5 308.0L499.2 308.6L514.6 309.7M299.1 310.6L314.5 312.0L329.9 313.3L345.3 314.2L360.7 314.8L391.5 315.7L422.2 316.2L437.6 316.2L453.0 315.5L465.3 314.4L473.0 313.3L477.7 312.6L483.8 313.5L491.5 314.6L499.2 315.5L514.6 316.9M299.1 316.3L314.5 318.1L329.9 319.6L345.3 320.8L360.7 321.6L391.5 322.7L422.2 323.3L437.6 323.3L453.0 322.4L465.3 321.0L473.0 319.6L477.7 318.8L483.8 319.9L491.5 321.3L499.2 322.4L514.6 324.1M299.1 322.1L314.5 324.2L329.9 326.0L345.3 327.4L360.7 328.4L391.5 329.7L422.2 330.4L437.6 330.4L453.0 329.4L465.3 327.7L473.0 326.0L477.7 325.1L483.8 326.4L491.5 328.0L499.2 329.4L514.6 331.4M299.1 327.8L314.5 330.3L329.9 332.5L345.3 334.0L360.7 335.2L391.5 336.8L422.2 337.5L437.6 337.5L453.0 336.4L465.3 334.4L473.0 332.5L477.7 331.3L483.8 332.9L491.5 334.8L499.2 336.4L514.6 338.7M299.1 333.5L314.5 336.4L329.9 338.9L345.3 340.7L360.7 342.0L391.5 343.8L422.2 344.7L437.6 344.7L453.0 343.4L465.3 341.1L473.0 338.9L477.7 337.6L483.8 339.3L491.5 341.6L499.2 343.4L514.6 346.1M299.1 339.3L314.5 342.5L329.9 345.3L345.3 347.3L360.7 348.8L391.5 350.8L422.2 351.8L437.6 351.8L453.0 350.3L465.3 347.8L473.0 345.3L477.7 343.8L483.8 345.8L491.5 348.3L499.2 350.3L514.6 353.3M299.1 345.0L314.5 348.2L329.9 351.0L345.3 353.0L360.7 354.5L391.5 356.5L422.2 357.5L437.6 357.5L453.0 356.0L465.3 353.5L473.0 351.0L477.7 349.5L483.8 351.5L491.5 354.0L499.2 356.0L514.6 359.0" fill="none" stroke="#003" stroke-width="1.4" opacity=".08"/>
<path d="M299.1 295.0L303.0 294.2L308.1 294.0L311.1 294.2L314.1 295.5L317.1 297.8L319.6 300.6L321.6 304.1L323.3 308.1L325.1 311.6L327.2 314.1L330.2 316.3L334.2 318.6L339.0 321.3L343.0 323.0L348.1 324.1L353.1 324.3L358.1 323.8L363.1 323.9L367.2 324.5L367.2 324.5L366.2 326.1L364.1 327.6L358.1 327.6L353.1 326.6L348.1 326.1L343.0 325.1L337.2 323.0L332.2 321.4L327.2 319.9L323.1 318.6L319.6 316.1L317.1 313.1L315.1 309.6L312.6 307.1L310.1 305.1L307.1 304.1L303.0 303.4L299.1 303.6ZM378.8 296.6L385.1 295.3L393.1 294.6L400.2 293.6L408.2 293.1L415.2 292.9L420.0 293.1L426.0 293.1L433.1 293.3L440.1 293.6L445.1 294.6L450.2 296.1L455.2 296.9L462.2 297.3L468.2 297.6L472.3 298.1L475.0 299.0L479.1 301.1L479.1 301.1L476.1 302.6L472.0 304.1L468.2 306.6L465.2 310.0L462.2 312.7L456.2 314.2L448.1 314.7L441.1 314.5L436.1 313.2L430.1 312.0L424.0 310.7L420.0 309.1L417.2 307.6L412.2 306.6L406.2 305.1L400.2 303.6L395.1 302.6L393.1 301.1L388.1 300.1L383.1 299.1L378.8 296.6ZM498.0 301.1L502.2 298.1L507.2 296.3L514.6 295.6L514.6 304.9L508.2 303.9L502.2 302.9L498.0 301.1Z" fill="#fde725" stroke="#3b4a8a" stroke-width=".5" stroke-opacity=".35"/>
<rect x="299.1" y="347.7" width="215.5" height="1.6" fill="#fde725"/>
</g>
<rect x="528.4" y="277.6" width="3.8" height="71.7" fill="url(#gv)" stroke="#555" stroke-width=".3"/>
<text class="t" x="406.9" y="275.8" font-size="4.59" text-anchor="middle">Pluto true velocity model</text>
<text class="t" x="406.9" y="361.1" font-size="4.59" text-anchor="middle">Horizontal distance (m)</text>
<text class="t" font-size="4.59" text-anchor="middle" transform="translate(282.8 314.5) rotate(-90)">Depth (m)</text>
<text class="t" x="299.1" y="355.9" font-size="4.49" text-anchor="middle">0</text>
<path d="M299.1 349.3v1.3" stroke="#333" stroke-width=".35"/>
<text class="t" x="329.9" y="355.9" font-size="4.49" text-anchor="middle">2000</text>
<path d="M329.9 349.3v1.3" stroke="#333" stroke-width=".35"/>
<text class="t" x="360.7" y="355.9" font-size="4.49" text-anchor="middle">4000</text>
<path d="M360.7 349.3v1.3" stroke="#333" stroke-width=".35"/>
<text class="t" x="391.5" y="355.9" font-size="4.49" text-anchor="middle">6000</text>
<path d="M391.5 349.3v1.3" stroke="#333" stroke-width=".35"/>
<text class="t" x="422.2" y="355.9" font-size="4.49" text-anchor="middle">8000</text>
<path d="M422.2 349.3v1.3" stroke="#333" stroke-width=".35"/>
<text class="t" x="453.0" y="355.9" font-size="4.49" text-anchor="middle">10000</text>
<path d="M453.0 349.3v1.3" stroke="#333" stroke-width=".35"/>
<text class="t" x="483.8" y="355.9" font-size="4.49" text-anchor="middle">12000</text>
<path d="M483.8 349.3v1.3" stroke="#333" stroke-width=".35"/>
<text class="t" x="514.6" y="355.9" font-size="4.49" text-anchor="middle">14000</text>
<path d="M514.6 349.3v1.3" stroke="#333" stroke-width=".35"/>
<text class="t" x="296.9" y="292.8" font-size="4.49" text-anchor="end">1000</text>
<path d="M299.1 291.1h-1.3" stroke="#333" stroke-width=".35"/>
<text class="t" x="296.9" y="308.1" font-size="4.49" text-anchor="end">2000</text>
<path d="M299.1 306.5h-1.3" stroke="#333" stroke-width=".35"/>
<text class="t" x="296.9" y="323.5" font-size="4.49" text-anchor="end">3000</text>
<path d="M299.1 321.9h-1.3" stroke="#333" stroke-width=".35"/>
<text class="t" x="296.9" y="338.9" font-size="4.49" text-anchor="end">4000</text>
<path d="M299.1 337.3h-1.3" stroke="#333" stroke-width=".35"/>
<text class="t" x="534.6" y="279.8" font-size="4.49">4500</text>
<path d="M532.2 277.6h1.2" stroke="#333" stroke-width=".35"/>
<text class="t" x="534.6" y="291.8" font-size="4.49">4000</text>
<path d="M532.2 289.6h1.2" stroke="#333" stroke-width=".35"/>
<text class="t" x="534.6" y="303.7" font-size="4.49">3500</text>
<path d="M532.2 301.5h1.2" stroke="#333" stroke-width=".35"/>
<text class="t" x="534.6" y="315.7" font-size="4.49">3000</text>
<path d="M532.2 313.5h1.2" stroke="#333" stroke-width=".35"/>
<text class="t" x="534.6" y="327.6" font-size="4.49">2500</text>
<path d="M532.2 325.4h1.2" stroke="#333" stroke-width=".35"/>
<text class="t" x="534.6" y="339.6" font-size="4.49">2000</text>
<path d="M532.2 337.4h1.2" stroke="#333" stroke-width=".35"/>
<text class="t" x="534.6" y="351.5" font-size="4.49">1500</text>
<path d="M532.2 349.3h1.2" stroke="#333" stroke-width=".35"/>
<text class="t" x="532.1" y="274.6" font-size="4.49" text-anchor="middle">m/s</text>
<text class="c" x="412.7" y="382.5" font-size="12.6" text-anchor="middle">(<tspan font-weight="bold">f</tspan>)</text>
</svg>
</body></html>
